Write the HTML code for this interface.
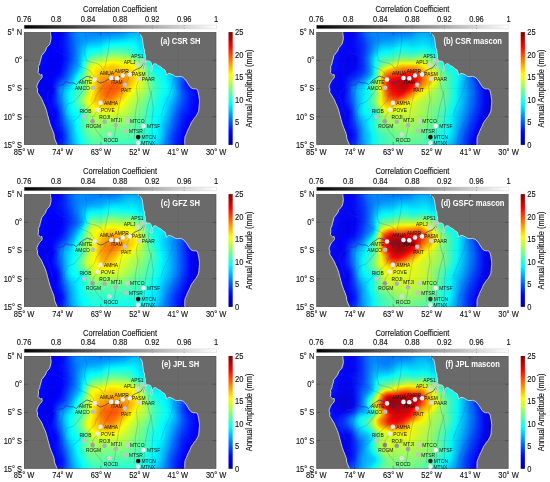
<!DOCTYPE html>
<html><head><meta charset="utf-8"><style>
html,body{margin:0;padding:0;background:#fff}
body{width:550px;height:482px;overflow:hidden}
svg{display:block}
text{font-family:"Liberation Sans",Arial,sans-serif}
.tt{transform-box:fill-box;transform-origin:50% 50%;transform:scaleY(1.1)}
.t text{transform-box:fill-box;transform-origin:50% 50%;transform:scaleY(1.12);stroke:#141414;stroke-width:.12}
</style></head><body>
<svg width="550" height="482" viewBox="0 0 550 482">
<defs>
<filter id="jet" x="-5%" y="-5%" width="110%" height="110%" color-interpolation-filters="sRGB">
<feGaussianBlur stdDeviation="2.2"/>
<feComponentTransfer><feFuncR type="table" tableValues="0 0 0 0 0 0 0 0 0 0 0 0 0 0 0 0 0 0 0 0 0 0 0 0 0.0625 0.125 0.1875 0.25 0.3125 0.375 0.4375 0.5 0.5625 0.625 0.6875 0.75 0.8125 0.875 0.9375 1 1 1 1 1 1 1 1 1 1 1 1 1 1 1 1 1 0.9375 0.875 0.8125 0.75 0.6875 0.625 0.5625 0.5"/><feFuncG type="table" tableValues="0 0 0 0 0 0 0 0 0.0625 0.125 0.1875 0.25 0.3125 0.375 0.4375 0.5 0.5625 0.625 0.6875 0.75 0.8125 0.875 0.9375 1 1 1 1 1 1 1 1 1 1 1 1 1 1 1 1 1 0.9375 0.875 0.8125 0.75 0.6875 0.625 0.5625 0.5 0.4375 0.375 0.3125 0.25 0.1875 0.125 0.0625 0 0 0 0 0 0 0 0 0"/><feFuncB type="table" tableValues="0.5625 0.625 0.6875 0.75 0.8125 0.875 0.9375 1 1 1 1 1 1 1 1 1 1 1 1 1 1 1 1 1 0.9375 0.875 0.8125 0.75 0.6875 0.625 0.5625 0.5 0.4375 0.375 0.3125 0.25 0.1875 0.125 0.0625 0 0 0 0 0 0 0 0 0 0 0 0 0 0 0 0 0 0 0 0 0 0 0 0 0"/></feComponentTransfer>
</filter>
<clipPath id="land"><path clip-rule="evenodd" d="M26.9 -22.6 26.6 -8.5 26.2 -2.8 26.7 2.8 27.1 5.6 26.6 9 25.5 12.4 23.8 14.1 22.4 15.8 21.7 18 21 19.2 18.9 22 17.5 23.7 17.1 25.9 15.9 29.9 15.7 31.6 14.3 34.4 14.5 37.2 14 40.6 15 41.7 16.4 42.9 17.8 42.3 18.2 44.6 17.5 46.2 16.4 47.4 15.4 48.5 14 50.8 12.9 53.6 12.9 55.3 13.6 57 13.3 59.8 14.3 61.5 15.4 63.2 17.8 67.1 19.2 70.5 21 74.4 22.4 78.4 23.4 82.3 24.8 87.4 25.9 91.4 27.3 95.3 28.7 98.7 30.1 102.6 30.4 106 31.5 108.9 33.2 112.8 34.9 116.2 36.7 121.3 36.7 126.9 160.7 126.9 160.7 116.2 160.7 111.7 160.7 107.2 161.1 104.3 162.5 101.5 163.2 99.3 164.6 96.4 166 93.6 167.4 90.2 169.1 88 170.2 86.3 171.9 84.3 173.3 81.8 174.6 79 174.9 76.1 175.1 73.3 175.4 70.5 175.4 68.2 175.1 66 174.7 63.2 174 59.8 173.3 57.5 173 57.2 171.2 56.7 169.1 56.7 167 55.8 165.6 54.1 164.2 51.9 162.5 49.1 160.7 46.8 158.7 45.1 156.2 44.3 153.8 44.6 151.3 44.3 149.2 42.9 146.8 41.7 144.7 41.2 143.3 42.3 142.2 42.9 141.9 40.6 140.8 37.8 138.7 36.7 136.3 34.4 134.2 33.6 132.1 31.9 130.3 31.6 128.9 32.7 128.2 35.5 127.7 38.9 126.7 38.9 127.2 35 127.6 31.6 126.2 29.3 124.4 28.8 122.3 28.8 121.3 26.5 121.3 23.1 120.6 20.9 120.6 18 119.5 15.8 119.2 13.5 118.8 10.2 118.1 5.6 117.1 3.4 115.7 2.3 114.3 0.6 112.9 -1.1 110.1 -3.4 108.3 -4.5 104.8 -5.6 104.8 -22.6ZM122 29 120.6 30.2 119.3 33.3 118.6 37.2 119.7 37.5 120.4 33.8 121.4 31.3Z"/></clipPath>
<clipPath id="mbox"><rect width="192.2" height="112.8"/></clipPath>
<linearGradient id="gbar"><stop offset="0" stop-color="#000"/><stop offset="1" stop-color="#fff"/></linearGradient>
<linearGradient id="jbar" x1="0" y1="1" x2="0" y2="0"><stop offset="0.000" stop-color="#00008f"/><stop offset="0.031" stop-color="#0000af"/><stop offset="0.062" stop-color="#0000ce"/><stop offset="0.094" stop-color="#0000ee"/><stop offset="0.125" stop-color="#000eff"/><stop offset="0.156" stop-color="#002dff"/><stop offset="0.188" stop-color="#004dff"/><stop offset="0.219" stop-color="#006cff"/><stop offset="0.250" stop-color="#008bff"/><stop offset="0.281" stop-color="#00abff"/><stop offset="0.312" stop-color="#00caff"/><stop offset="0.344" stop-color="#00eaff"/><stop offset="0.375" stop-color="#0afff5"/><stop offset="0.406" stop-color="#29ffd6"/><stop offset="0.438" stop-color="#49ffb6"/><stop offset="0.469" stop-color="#68ff97"/><stop offset="0.500" stop-color="#87ff78"/><stop offset="0.531" stop-color="#a7ff58"/><stop offset="0.562" stop-color="#c6ff39"/><stop offset="0.594" stop-color="#e6ff19"/><stop offset="0.625" stop-color="#fff900"/><stop offset="0.656" stop-color="#ffda00"/><stop offset="0.688" stop-color="#ffba00"/><stop offset="0.719" stop-color="#ff9b00"/><stop offset="0.750" stop-color="#ff7c00"/><stop offset="0.781" stop-color="#ff5c00"/><stop offset="0.812" stop-color="#ff3d00"/><stop offset="0.844" stop-color="#ff1d00"/><stop offset="0.875" stop-color="#fd0000"/><stop offset="0.906" stop-color="#de0000"/><stop offset="0.938" stop-color="#be0000"/><stop offset="0.969" stop-color="#9f0000"/><stop offset="1.000" stop-color="#800000"/></linearGradient>
</defs>
<g transform="translate(24.05 32.1)"><rect width="192.2" height="112.8" fill="#6a6a6a"/><g clip-path="url(#mbox)"><g clip-path="url(#land)"><g filter="url(#jet)"><path fill="#000000" d="M188 -8h16v4h-16zM192 -4h12v4h-12zM192 0h12v4h-12zM192 4h12v4h-12zM192 8h12v4h-12zM192 12h12v4h-12zM192 16h12v4h-12zM196 20h8v4h-8zM196 24h8v4h-8zM196 28h8v4h-8zM196 32h8v4h-8zM196 36h8v4h-8zM196 40h8v4h-8zM196 44h8v4h-8zM196 48h8v4h-8zM196 52h8v4h-8zM196 56h8v4h-8zM196 60h8v4h-8zM196 64h8v4h-8zM196 68h8v4h-8zM196 72h8v4h-8zM192 76h12v4h-12zM192 80h12v4h-12zM192 84h12v4h-12zM192 88h12v4h-12zM188 92h16v4h-16zM188 96h16v4h-16zM184 100h20v4h-20zM184 104h20v4h-20zM184 108h20v4h-20zM180 112h24v4h-24zM180 116h24v4h-24zM180 120h24v4h-24z"/><path fill="#010101" d="M188 -4h4v4h-4zM192 20h4v4h-4zM192 24h4v4h-4zM192 28h4v4h-4zM192 32h4v4h-4zM192 36h4v4h-4zM192 40h4v4h-4zM192 72h4v4h-4zM188 88h4v4h-4zM180 108h4v4h-4z"/><path fill="#020202" d="M188 0h4v4h-4zM192 44h4v4h-4zM192 48h4v4h-4zM192 52h4v4h-4zM192 56h4v4h-4zM192 60h4v4h-4zM192 64h4v4h-4zM192 68h4v4h-4zM188 84h4v4h-4zM184 96h4v4h-4z"/><path fill="#030303" d="M188 4h4v4h-4zM188 80h4v4h-4zM184 92h4v4h-4zM180 104h4v4h-4zM176 116h4v4h-4zM176 120h4v4h-4z"/><path fill="#040404" d="M184 -8h4v4h-4zM188 8h4v4h-4zM188 12h4v4h-4zM180 100h4v4h-4zM176 112h4v4h-4z"/><path fill="#050505" d="M184 -4h4v4h-4zM188 16h4v4h-4zM188 20h4v4h-4zM188 24h4v4h-4zM188 28h4v4h-4zM188 32h4v4h-4zM188 76h4v4h-4zM184 88h4v4h-4zM176 108h4v4h-4z"/><path fill="#060606" d="M184 0h4v4h-4zM188 36h4v4h-4zM188 40h4v4h-4zM188 44h4v4h-4zM188 48h4v4h-4zM188 68h4v4h-4zM188 72h4v4h-4zM180 96h4v4h-4zM176 104h4v4h-4z"/><path fill="#070707" d="M184 4h4v4h-4zM188 52h4v4h-4zM188 56h4v4h-4zM188 60h4v4h-4zM188 64h4v4h-4zM184 84h4v4h-4zM180 92h4v4h-4zM172 120h4v4h-4z"/><path fill="#080808" d="M180 -8h4v4h-4zM184 8h4v4h-4zM184 80h4v4h-4zM176 100h4v4h-4zM172 112h4v4h-4zM172 116h4v4h-4z"/><path fill="#090909" d="M180 -4h4v4h-4zM184 12h4v4h-4zM184 16h4v4h-4zM184 20h4v4h-4zM184 76h4v4h-4zM180 88h4v4h-4zM172 108h4v4h-4z"/><path fill="#0a0a0a" d="M180 0h4v4h-4zM184 24h4v4h-4zM184 28h4v4h-4zM184 32h4v4h-4zM184 36h4v4h-4zM184 40h4v4h-4zM184 44h4v4h-4zM184 72h4v4h-4zM176 96h4v4h-4zM172 104h4v4h-4z"/><path fill="#0b0b0b" d="M184 48h4v4h-4zM184 52h4v4h-4zM184 68h4v4h-4zM180 84h4v4h-4zM176 92h4v4h-4z"/><path fill="#0c0c0c" d="M176 -8h4v4h-4zM180 4h4v4h-4zM180 8h4v4h-4zM184 56h4v4h-4zM184 60h4v4h-4zM184 64h4v4h-4zM172 100h4v4h-4zM168 116h4v4h-4zM168 120h4v4h-4z"/><path fill="#0d0d0d" d="M176 -4h4v4h-4zM180 12h4v4h-4zM180 80h4v4h-4zM176 88h4v4h-4zM168 112h4v4h-4z"/><path fill="#0e0e0e" d="M180 16h4v4h-4zM180 20h4v4h-4zM180 24h4v4h-4zM180 32h4v4h-4zM180 36h4v4h-4zM180 40h4v4h-4zM180 76h4v4h-4zM172 96h4v4h-4zM168 108h4v4h-4z"/><path fill="#0f0f0f" d="M176 0h4v4h-4zM180 28h4v4h-4zM180 44h4v4h-4zM180 48h4v4h-4zM180 72h4v4h-4zM176 84h4v4h-4zM172 92h4v4h-4zM168 104h4v4h-4z"/><path fill="#101010" d="M172 -8h4v4h-4zM176 4h4v4h-4zM180 52h4v4h-4zM180 56h4v4h-4zM180 64h4v4h-4zM180 68h4v4h-4zM168 100h4v4h-4zM164 120h4v4h-4z"/><path fill="#111111" d="M176 8h4v4h-4zM180 60h4v4h-4zM176 80h4v4h-4zM164 112h4v4h-4zM164 116h4v4h-4z"/><path fill="#121212" d="M172 -4h4v4h-4zM176 12h4v4h-4zM172 88h4v4h-4zM168 96h4v4h-4zM164 108h4v4h-4z"/><path fill="#131313" d="M172 0h4v4h-4zM176 16h4v4h-4zM176 20h4v4h-4zM176 24h4v4h-4zM176 28h4v4h-4zM176 32h4v4h-4zM176 36h4v4h-4zM176 40h4v4h-4zM176 44h4v4h-4zM176 76h4v4h-4zM164 104h4v4h-4z"/><path fill="#141414" d="M168 -8h4v4h-4zM176 48h4v4h-4zM176 52h4v4h-4zM176 72h4v4h-4zM172 84h4v4h-4zM168 92h4v4h-4zM164 100h4v4h-4z"/><path fill="#151515" d="M172 4h4v4h-4zM176 56h4v4h-4zM176 64h4v4h-4zM176 68h4v4h-4z"/><path fill="#161616" d="M168 -4h4v4h-4zM172 8h4v4h-4zM24 56h4v4h-4zM176 60h4v4h-4zM172 80h4v4h-4zM168 88h4v4h-4zM164 96h4v4h-4zM160 112h4v4h-4zM160 116h4v4h-4zM160 120h4v4h-4z"/><path fill="#171717" d="M172 12h4v4h-4zM172 40h4v4h-4zM172 44h4v4h-4zM20 56h4v4h-4zM160 108h4v4h-4z"/><path fill="#181818" d="M164 -8h4v4h-4zM168 0h4v4h-4zM172 16h4v4h-4zM172 36h4v4h-4zM172 48h4v4h-4zM20 52h8v4h-8zM20 60h8v4h-8zM172 76h4v4h-4zM168 84h4v4h-4zM164 92h4v4h-4zM160 104h4v4h-4z"/><path fill="#191919" d="M168 4h4v4h-4zM172 20h4v4h-4zM172 24h4v4h-4zM172 28h4v4h-4zM28 32h4v4h-4zM172 32h4v4h-4zM28 36h4v4h-4zM20 48h4v4h-4zM172 52h4v4h-4zM20 64h4v4h-4zM172 72h4v4h-4zM160 100h4v4h-4z"/><path fill="#1a1a1a" d="M28 -4h4v4h-4zM164 -4h4v4h-4zM28 0h4v4h-4zM28 28h4v4h-4zM24 32h4v4h-4zM24 36h4v4h-4zM20 40h8v4h-8zM20 44h8v4h-8zM24 48h4v4h-4zM172 56h4v4h-4zM172 64h4v4h-4zM172 68h4v4h-4zM28 80h4v4h-4zM164 88h4v4h-4z"/><path fill="#1b1b1b" d="M20 -8h12v4h-12zM24 -4h4v4h-4zM32 -4h4v4h-4zM24 0h4v4h-4zM32 0h4v4h-4zM168 8h4v4h-4zM28 20h8v4h-8zM28 24h8v4h-8zM24 28h4v4h-4zM32 28h4v4h-4zM32 32h4v4h-4zM20 36h4v4h-4zM32 36h4v4h-4zM28 40h4v4h-4zM16 52h4v4h-4zM16 56h4v4h-4zM16 60h4v4h-4zM172 60h4v4h-4zM16 64h4v4h-4zM24 64h4v4h-4zM20 68h4v4h-4zM168 80h4v4h-4zM28 84h4v4h-4zM160 96h4v4h-4zM156 120h4v4h-4z"/><path fill="#1c1c1c" d="M16 -8h4v4h-4zM32 -8h4v4h-4zM160 -8h4v4h-4zM20 -4h4v4h-4zM164 0h4v4h-4zM28 4h8v4h-8zM168 12h4v4h-4zM28 16h8v4h-8zM24 24h4v4h-4zM20 32h4v4h-4zM16 40h4v4h-4zM168 40h4v4h-4zM16 44h4v4h-4zM168 44h4v4h-4zM16 48h4v4h-4zM168 48h4v4h-4zM28 56h4v4h-4zM28 76h4v4h-4zM168 76h4v4h-4zM24 80h4v4h-4zM24 84h4v4h-4zM164 84h4v4h-4zM24 88h4v4h-4zM24 92h4v4h-4zM160 92h4v4h-4zM156 108h4v4h-4zM156 112h4v4h-4zM156 116h4v4h-4z"/><path fill="#1d1d1d" d="M12 -8h4v4h-4zM16 -4h4v4h-4zM20 0h4v4h-4zM24 4h4v4h-4zM28 8h8v4h-8zM28 12h8v4h-8zM24 16h4v4h-4zM168 16h4v4h-4zM24 20h4v4h-4zM20 28h4v4h-4zM16 36h4v4h-4zM32 40h4v4h-4zM28 44h4v4h-4zM168 52h4v4h-4zM16 68h4v4h-4zM24 68h4v4h-4zM20 72h8v4h-8zM24 76h4v4h-4zM20 88h4v4h-4zM28 88h4v4h-4zM20 92h4v4h-4zM28 92h4v4h-4zM20 96h12v4h-12zM32 100h4v4h-4zM32 104h4v4h-4zM156 104h4v4h-4z"/><path fill="#1e1e1e" d="M8 -8h4v4h-4zM12 -4h4v4h-4zM36 -4h4v4h-4zM160 -4h4v4h-4zM16 0h4v4h-4zM36 0h4v4h-4zM20 4h4v4h-4zM164 4h4v4h-4zM24 8h4v4h-4zM24 12h4v4h-4zM36 20h4v4h-4zM168 20h4v4h-4zM20 24h4v4h-4zM36 24h4v4h-4zM36 28h4v4h-4zM16 32h4v4h-4zM168 32h4v4h-4zM168 36h4v4h-4zM12 60h4v4h-4zM12 64h4v4h-4zM16 72h4v4h-4zM168 72h4v4h-4zM20 84h4v4h-4zM16 88h4v4h-4zM160 88h4v4h-4zM16 92h4v4h-4zM12 96h8v4h-8zM12 100h20v4h-20zM12 104h12v4h-12zM28 104h4v4h-4zM12 108h12v4h-12zM12 112h4v4h-4z"/><path fill="#1f1f1f" d="M4 -8h4v4h-4zM8 -4h4v4h-4zM12 0h4v4h-4zM16 4h4v4h-4zM36 4h4v4h-4zM20 8h4v4h-4zM20 12h4v4h-4zM20 16h4v4h-4zM36 16h4v4h-4zM20 20h4v4h-4zM168 24h4v4h-4zM168 28h4v4h-4zM36 32h4v4h-4zM12 40h4v4h-4zM12 44h4v4h-4zM12 48h4v4h-4zM12 52h4v4h-4zM12 56h4v4h-4zM168 56h4v4h-4zM168 64h4v4h-4zM12 68h4v4h-4zM168 68h4v4h-4zM16 76h8v4h-8zM20 80h4v4h-4zM164 80h4v4h-4zM16 84h4v4h-4zM12 88h4v4h-4zM12 92h4v4h-4zM8 96h4v4h-4zM32 96h4v4h-4zM8 100h4v4h-4zM156 100h4v4h-4zM4 104h8v4h-8zM24 104h4v4h-4zM0 108h12v4h-12zM24 108h8v4h-8zM0 112h12v4h-12zM16 112h12v4h-12zM-4 116h24v4h-24zM-4 120h20v4h-20z"/><path fill="#202020" d="M0 -8h4v4h-4zM36 -8h4v4h-4zM156 -8h4v4h-4zM4 -4h4v4h-4zM8 0h4v4h-4zM12 4h4v4h-4zM16 8h4v4h-4zM36 8h4v4h-4zM164 8h4v4h-4zM36 12h4v4h-4zM16 16h4v4h-4zM16 20h4v4h-4zM16 24h4v4h-4zM16 28h4v4h-4zM12 32h4v4h-4zM12 36h4v4h-4zM28 48h4v4h-4zM164 48h4v4h-4zM28 52h4v4h-4zM168 60h4v4h-4zM12 72h4v4h-4zM28 72h4v4h-4zM12 76h4v4h-4zM12 80h8v4h-8zM32 80h4v4h-4zM12 84h4v4h-4zM160 84h4v4h-4zM8 88h4v4h-4zM8 92h4v4h-4zM4 96h4v4h-4zM156 96h4v4h-4zM0 100h8v4h-8zM-4 104h8v4h-8zM-4 108h4v4h-4zM32 108h4v4h-4zM-8 112h8v4h-8zM28 112h4v4h-4zM-8 116h4v4h-4zM20 116h4v4h-4zM-8 120h4v4h-4zM16 120h4v4h-4z"/><path fill="#212121" d="M-8 -8h8v4h-8zM-4 -4h8v4h-8zM0 0h8v4h-8zM160 0h4v4h-4zM8 4h4v4h-4zM12 8h4v4h-4zM12 12h8v4h-8zM12 28h4v4h-4zM36 36h4v4h-4zM8 40h4v4h-4zM8 44h4v4h-4zM164 44h4v4h-4zM164 52h4v4h-4zM8 60h4v4h-4zM28 60h4v4h-4zM8 64h4v4h-4zM8 68h4v4h-4zM8 72h4v4h-4zM8 76h4v4h-4zM164 76h4v4h-4zM8 80h4v4h-4zM8 84h4v4h-4zM4 88h4v4h-4zM0 92h8v4h-8zM32 92h4v4h-4zM0 96h4v4h-4zM-4 100h4v4h-4zM36 100h4v4h-4zM-8 104h4v4h-4zM36 104h4v4h-4zM-8 108h4v4h-4zM24 116h4v4h-4zM20 120h4v4h-4z"/><path fill="#222222" d="M-8 -4h4v4h-4zM156 -4h4v4h-4zM-4 0h4v4h-4zM0 4h8v4h-8zM8 8h4v4h-4zM8 12h4v4h-4zM164 12h4v4h-4zM12 16h4v4h-4zM12 20h4v4h-4zM12 24h4v4h-4zM8 32h4v4h-4zM8 36h4v4h-4zM164 40h4v4h-4zM8 48h4v4h-4zM8 52h4v4h-4zM8 56h4v4h-4zM164 72h4v4h-4zM4 80h4v4h-4zM160 80h4v4h-4zM4 84h4v4h-4zM32 84h4v4h-4zM0 88h4v4h-4zM-4 92h4v4h-4zM156 92h4v4h-4zM-8 96h8v4h-8zM-8 100h4v4h-4zM152 108h4v4h-4zM152 112h4v4h-4zM28 116h4v4h-4zM152 116h4v4h-4zM24 120h4v4h-4zM152 120h4v4h-4z"/><path fill="#232323" d="M-8 0h4v4h-4zM-4 4h4v4h-4zM160 4h4v4h-4zM0 8h8v4h-8zM4 12h4v4h-4zM8 16h4v4h-4zM164 16h4v4h-4zM8 20h4v4h-4zM40 20h4v4h-4zM8 24h4v4h-4zM40 24h4v4h-4zM8 28h4v4h-4zM32 44h4v4h-4zM160 52h4v4h-4zM4 64h4v4h-4zM4 68h4v4h-4zM28 68h4v4h-4zM164 68h4v4h-4zM4 72h4v4h-4zM4 76h4v4h-4zM0 80h4v4h-4zM0 84h4v4h-4zM-4 88h4v4h-4zM32 88h4v4h-4zM-8 92h4v4h-4zM152 104h4v4h-4zM32 112h4v4h-4z"/><path fill="#242424" d="M152 -8h4v4h-4zM-8 4h4v4h-4zM-4 8h4v4h-4zM0 12h4v4h-4zM4 16h4v4h-4zM40 16h4v4h-4zM4 20h4v4h-4zM164 20h4v4h-4zM4 24h4v4h-4zM4 28h4v4h-4zM4 32h4v4h-4zM4 36h4v4h-4zM164 36h4v4h-4zM4 40h4v4h-4zM36 40h4v4h-4zM4 44h4v4h-4zM4 48h4v4h-4zM4 52h4v4h-4zM4 56h4v4h-4zM164 56h4v4h-4zM4 60h4v4h-4zM28 64h4v4h-4zM164 64h4v4h-4zM0 68h4v4h-4zM0 72h4v4h-4zM0 76h4v4h-4zM32 76h4v4h-4zM-4 80h4v4h-4zM-8 84h8v4h-8zM-8 88h4v4h-4zM156 88h4v4h-4zM152 100h4v4h-4zM28 120h4v4h-4z"/><path fill="#252525" d="M40 0h4v4h-4zM156 0h4v4h-4zM-8 8h4v4h-4zM160 8h4v4h-4zM-4 12h4v4h-4zM40 12h4v4h-4zM0 16h4v4h-4zM0 20h4v4h-4zM0 24h4v4h-4zM164 24h4v4h-4zM0 28h4v4h-4zM40 28h4v4h-4zM164 28h4v4h-4zM0 32h4v4h-4zM164 32h4v4h-4zM0 36h4v4h-4zM0 40h4v4h-4zM0 44h4v4h-4zM160 48h4v4h-4zM0 60h4v4h-4zM164 60h4v4h-4zM0 64h4v4h-4zM-4 72h4v4h-4zM-4 76h4v4h-4zM160 76h4v4h-4zM-8 80h4v4h-4zM36 108h4v4h-4z"/><path fill="#262626" d="M40 -4h4v4h-4zM152 -4h4v4h-4zM40 4h4v4h-4zM40 8h4v4h-4zM-8 12h4v4h-4zM-8 16h8v4h-8zM-4 20h4v4h-4zM-4 24h4v4h-4zM0 48h4v4h-4zM0 52h4v4h-4zM0 56h4v4h-4zM-4 64h4v4h-4zM-4 68h4v4h-4zM-8 72h4v4h-4zM-8 76h4v4h-4zM156 84h4v4h-4zM36 96h4v4h-4zM32 116h4v4h-4z"/><path fill="#272727" d="M40 -8h4v4h-4zM148 -8h4v4h-4zM156 4h4v4h-4zM160 12h4v4h-4zM-8 20h4v4h-4zM-8 24h4v4h-4zM-4 28h4v4h-4zM-4 32h4v4h-4zM40 32h4v4h-4zM-4 36h4v4h-4zM-4 40h4v4h-4zM-4 44h4v4h-4zM-4 48h4v4h-4zM-4 52h4v4h-4zM-4 56h4v4h-4zM160 56h4v4h-4zM-4 60h4v4h-4zM-8 64h4v4h-4zM-8 68h4v4h-4zM160 72h4v4h-4zM156 80h4v4h-4zM152 96h4v4h-4z"/><path fill="#282828" d="M-8 28h4v4h-4zM-8 32h4v4h-4zM-8 36h4v4h-4zM-8 40h4v4h-4zM-8 44h4v4h-4zM160 44h4v4h-4zM-8 48h4v4h-4zM-8 52h4v4h-4zM-8 56h4v4h-4zM-8 60h4v4h-4zM36 112h4v4h-4zM32 120h4v4h-4z"/><path fill="#292929" d="M152 0h4v4h-4zM160 16h4v4h-4zM40 36h4v4h-4zM36 44h4v4h-4zM160 68h4v4h-4zM152 92h4v4h-4zM148 104h4v4h-4zM148 108h4v4h-4zM148 112h4v4h-4zM148 116h4v4h-4zM148 120h4v4h-4z"/><path fill="#2a2a2a" d="M148 -4h4v4h-4zM156 8h4v4h-4zM160 20h4v4h-4zM160 40h4v4h-4zM32 48h4v4h-4zM160 60h4v4h-4zM160 64h4v4h-4zM156 76h4v4h-4z"/><path fill="#2b2b2b" d="M144 -8h4v4h-4zM44 20h4v4h-4zM32 72h4v4h-4zM152 88h4v4h-4zM36 92h4v4h-4zM148 100h4v4h-4zM36 116h4v4h-4z"/><path fill="#2c2c2c" d="M152 4h4v4h-4zM156 12h4v4h-4zM44 16h4v4h-4zM44 24h4v4h-4zM160 24h4v4h-4zM160 28h4v4h-4zM160 36h4v4h-4zM156 52h4v4h-4z"/><path fill="#2d2d2d" d="M148 0h4v4h-4zM44 12h4v4h-4zM160 32h4v4h-4zM40 40h4v4h-4zM152 84h4v4h-4zM36 120h4v4h-4z"/><path fill="#2e2e2e" d="M140 -8h4v4h-4zM144 -4h4v4h-4zM44 8h4v4h-4zM152 8h4v4h-4zM44 28h4v4h-4zM156 72h4v4h-4zM36 88h4v4h-4zM148 96h4v4h-4zM40 104h4v4h-4z"/><path fill="#2f2f2f" d="M44 4h4v4h-4zM156 16h4v4h-4zM156 48h4v4h-4zM32 68h4v4h-4zM152 80h4v4h-4z"/><path fill="#303030" d="M44 0h4v4h-4zM148 4h4v4h-4zM40 100h4v4h-4zM40 108h4v4h-4zM144 120h4v4h-4z"/><path fill="#313131" d="M44 -8h4v4h-4zM136 -8h4v4h-4zM44 -4h4v4h-4zM140 -4h4v4h-4zM144 0h4v4h-4zM152 12h4v4h-4zM156 20h4v4h-4zM44 32h4v4h-4zM156 68h4v4h-4zM148 92h4v4h-4zM144 116h4v4h-4z"/><path fill="#323232" d="M40 44h4v4h-4zM156 44h4v4h-4zM32 52h4v4h-4zM156 56h4v4h-4zM32 64h4v4h-4zM36 84h4v4h-4zM144 104h4v4h-4zM144 108h4v4h-4zM40 112h4v4h-4zM144 112h4v4h-4z"/><path fill="#333333" d="M148 8h4v4h-4zM156 24h4v4h-4zM36 48h4v4h-4zM156 64h4v4h-4zM152 76h4v4h-4zM40 96h4v4h-4zM40 116h4v4h-4z"/><path fill="#343434" d="M84 -8h12v4h-12zM132 -8h4v4h-4zM136 -4h4v4h-4zM140 0h4v4h-4zM144 4h4v4h-4zM152 16h4v4h-4zM156 28h4v4h-4zM156 40h4v4h-4zM32 60h4v4h-4zM156 60h4v4h-4zM148 88h4v4h-4zM144 100h4v4h-4zM40 120h4v4h-4z"/><path fill="#353535" d="M80 -8h4v4h-4zM48 16h4v4h-4zM48 20h4v4h-4zM156 32h4v4h-4zM44 36h4v4h-4zM156 36h4v4h-4zM36 80h4v4h-4z"/><path fill="#363636" d="M96 -8h4v4h-4zM48 8h4v4h-4zM48 12h4v4h-4zM148 12h4v4h-4zM48 24h4v4h-4z"/><path fill="#373737" d="M76 -8h4v4h-4zM128 -8h4v4h-4zM140 4h4v4h-4zM144 8h4v4h-4zM152 20h4v4h-4zM32 56h4v4h-4zM152 72h4v4h-4zM148 84h4v4h-4z"/><path fill="#383838" d="M100 -8h4v4h-4zM80 -4h8v4h-8zM132 -4h4v4h-4zM136 0h4v4h-4zM48 4h4v4h-4zM48 28h4v4h-4zM40 92h4v4h-4zM144 96h4v4h-4zM140 120h4v4h-4z"/><path fill="#393939" d="M48 -8h4v4h-4zM76 -4h4v4h-4zM88 -4h8v4h-8zM148 16h4v4h-4zM44 40h4v4h-4zM36 76h4v4h-4z"/><path fill="#3a3a3a" d="M72 -8h4v4h-4zM124 -8h4v4h-4zM48 0h4v4h-4zM140 8h4v4h-4zM144 12h4v4h-4zM152 24h4v4h-4zM40 48h4v4h-4zM148 80h4v4h-4zM140 116h4v4h-4z"/><path fill="#3b3b3b" d="M48 -4h4v4h-4zM72 -4h4v4h-4zM96 -4h4v4h-4zM128 -4h4v4h-4zM132 0h4v4h-4zM136 4h4v4h-4zM152 68h4v4h-4z"/><path fill="#3c3c3c" d="M104 -8h4v4h-4zM120 -8h4v4h-4zM152 28h4v4h-4zM48 32h4v4h-4zM152 48h4v4h-4zM36 72h4v4h-4zM144 92h4v4h-4zM140 112h4v4h-4z"/><path fill="#3d3d3d" d="M68 -8h4v4h-4zM76 0h4v4h-4zM148 20h4v4h-4zM152 32h4v4h-4zM152 44h4v4h-4zM152 52h4v4h-4zM148 76h4v4h-4zM40 88h4v4h-4zM140 108h4v4h-4zM44 112h4v4h-4zM44 116h4v4h-4zM44 120h4v4h-4z"/><path fill="#3e3e3e" d="M108 -8h4v4h-4zM116 -8h4v4h-4zM68 -4h4v4h-4zM100 -4h4v4h-4zM124 -4h4v4h-4zM64 0h12v4h-12zM80 0h4v4h-4zM128 0h4v4h-4zM52 4h4v4h-4zM132 4h4v4h-4zM52 8h4v4h-4zM136 8h4v4h-4zM140 12h4v4h-4zM144 16h4v4h-4zM152 36h4v4h-4zM152 40h4v4h-4zM36 52h4v4h-4zM44 108h4v4h-4z"/><path fill="#3f3f3f" d="M52 -8h4v4h-4zM112 -8h4v4h-4zM60 0h4v4h-4zM84 0h4v4h-4zM52 12h4v4h-4zM44 44h4v4h-4zM152 64h4v4h-4zM144 88h4v4h-4zM140 104h4v4h-4z"/><path fill="#404040" d="M52 -4h4v4h-4zM52 0h4v4h-4zM88 0h4v4h-4zM60 4h4v4h-4zM52 16h4v4h-4zM148 24h4v4h-4zM152 56h4v4h-4zM36 68h4v4h-4zM44 104h4v4h-4zM136 120h4v4h-4z"/><path fill="#414141" d="M64 -8h4v4h-4zM120 -4h4v4h-4zM56 0h4v4h-4zM92 0h4v4h-4zM56 4h4v4h-4zM64 4h4v4h-4zM128 4h4v4h-4zM132 8h4v4h-4zM136 12h4v4h-4zM52 20h4v4h-4zM48 36h4v4h-4zM152 60h4v4h-4zM148 72h4v4h-4zM140 100h4v4h-4z"/><path fill="#424242" d="M56 -8h4v4h-4zM64 -4h4v4h-4zM104 -4h4v4h-4zM96 0h4v4h-4zM124 0h4v4h-4zM68 4h4v4h-4zM140 16h4v4h-4zM144 20h4v4h-4zM52 24h4v4h-4zM144 84h4v4h-4zM44 100h4v4h-4z"/><path fill="#434343" d="M60 -8h4v4h-4zM56 -4h8v4h-8zM72 4h4v4h-4zM56 8h4v4h-4zM52 28h4v4h-4zM36 64h4v4h-4zM40 84h4v4h-4zM136 116h4v4h-4z"/><path fill="#444444" d="M116 -4h4v4h-4zM76 4h4v4h-4zM128 8h4v4h-4zM132 12h4v4h-4zM148 28h4v4h-4zM44 96h4v4h-4zM140 96h4v4h-4z"/><path fill="#454545" d="M108 -4h8v4h-8zM100 0h4v4h-4zM120 0h4v4h-4zM124 4h4v4h-4zM136 16h4v4h-4zM52 32h4v4h-4zM144 80h4v4h-4z"/><path fill="#464646" d="M140 20h4v4h-4zM144 24h4v4h-4zM148 32h4v4h-4zM44 48h4v4h-4zM40 52h4v4h-4zM36 56h4v4h-4zM36 60h4v4h-4zM148 68h4v4h-4zM136 112h4v4h-4zM48 120h4v4h-4z"/><path fill="#474747" d="M80 4h4v4h-4zM60 8h4v4h-4zM128 12h4v4h-4zM132 16h4v4h-4zM44 92h4v4h-4zM140 92h4v4h-4zM48 116h4v4h-4z"/><path fill="#484848" d="M124 8h4v4h-4zM56 12h4v4h-4zM148 36h4v4h-4zM48 40h4v4h-4zM148 40h4v4h-4zM148 44h4v4h-4zM144 76h4v4h-4zM132 120h4v4h-4z"/><path fill="#494949" d="M116 0h4v4h-4zM84 4h4v4h-4zM120 4h4v4h-4zM64 8h4v4h-4zM136 20h4v4h-4zM148 48h4v4h-4zM48 112h4v4h-4z"/><path fill="#4a4a4a" d="M104 0h4v4h-4zM88 4h4v4h-4zM68 8h4v4h-4zM124 12h4v4h-4zM128 16h4v4h-4zM148 64h4v4h-4zM40 80h4v4h-4zM140 88h4v4h-4zM136 108h4v4h-4z"/><path fill="#4b4b4b" d="M92 4h4v4h-4zM72 8h4v4h-4zM132 20h4v4h-4zM140 24h4v4h-4zM144 28h4v4h-4zM44 88h4v4h-4z"/><path fill="#4c4c4c" d="M108 0h8v4h-8zM96 4h4v4h-4zM120 8h4v4h-4zM56 16h4v4h-4zM52 36h4v4h-4zM148 52h4v4h-4zM144 72h4v4h-4zM48 108h4v4h-4zM132 116h4v4h-4z"/><path fill="#4d4d4d" d="M116 4h4v4h-4zM124 16h4v4h-4zM148 60h4v4h-4zM40 76h4v4h-4zM136 104h4v4h-4z"/><path fill="#4e4e4e" d="M76 8h4v4h-4zM120 12h4v4h-4zM128 20h4v4h-4zM136 24h4v4h-4zM144 32h4v4h-4zM148 56h4v4h-4zM40 72h4v4h-4zM140 84h4v4h-4zM52 120h4v4h-4z"/><path fill="#4f4f4f" d="M100 4h4v4h-4zM56 20h4v4h-4zM132 24h4v4h-4zM144 68h4v4h-4zM48 104h4v4h-4zM132 112h4v4h-4zM128 120h4v4h-4z"/><path fill="#505050" d="M60 12h4v4h-4zM140 28h4v4h-4zM144 36h4v4h-4zM48 44h4v4h-4zM44 52h4v4h-4zM40 56h4v4h-4zM40 68h4v4h-4zM136 100h4v4h-4z"/><path fill="#515151" d="M112 4h4v4h-4zM116 8h4v4h-4zM128 24h4v4h-4zM140 80h4v4h-4zM44 84h4v4h-4zM136 96h4v4h-4zM48 100h4v4h-4zM52 116h4v4h-4z"/><path fill="#525252" d="M104 4h4v4h-4zM80 8h4v4h-4zM120 16h4v4h-4zM124 20h4v4h-4zM56 24h4v4h-4zM144 40h4v4h-4zM40 64h4v4h-4zM136 92h4v4h-4zM48 96h4v4h-4zM128 116h4v4h-4z"/><path fill="#535353" d="M108 4h4v4h-4zM64 12h8v4h-8zM116 12h4v4h-4zM136 28h4v4h-4zM144 44h4v4h-4zM40 60h4v4h-4zM144 64h4v4h-4zM140 76h4v4h-4z"/><path fill="#545454" d="M72 12h4v4h-4zM132 28h4v4h-4zM136 88h4v4h-4zM48 92h4v4h-4zM132 108h4v4h-4zM52 112h4v4h-4zM124 120h4v4h-4z"/><path fill="#555555" d="M84 8h4v4h-4zM56 28h4v4h-4zM128 28h4v4h-4zM56 32h4v4h-4zM140 32h4v4h-4zM144 48h4v4h-4zM140 72h4v4h-4z"/><path fill="#565656" d="M88 8h4v4h-4zM112 8h4v4h-4zM116 16h4v4h-4zM140 68h4v4h-4zM128 112h4v4h-4zM56 120h4v4h-4z"/><path fill="#575757" d="M92 8h4v4h-4zM60 16h4v4h-4zM120 20h4v4h-4zM124 24h4v4h-4zM144 60h4v4h-4zM44 80h4v4h-4zM136 84h4v4h-4zM48 88h4v4h-4zM52 108h4v4h-4z"/><path fill="#585858" d="M96 8h4v4h-4zM76 12h4v4h-4zM128 32h4v4h-4zM140 36h4v4h-4zM52 40h4v4h-4zM48 48h4v4h-4zM144 52h4v4h-4zM124 116h4v4h-4z"/><path fill="#595959" d="M100 8h4v4h-4zM112 12h4v4h-4zM132 32h8v4h-8zM140 40h4v4h-4zM144 56h4v4h-4zM140 64h4v4h-4zM48 84h4v4h-4zM52 104h4v4h-4zM132 104h4v4h-4zM128 108h4v4h-4zM120 120h4v4h-4z"/><path fill="#5a5a5a" d="M108 8h4v4h-4zM44 56h4v4h-4zM44 76h4v4h-4zM132 96h4v4h-4zM56 116h4v4h-4z"/><path fill="#5b5b5b" d="M104 8h4v4h-4zM60 20h4v4h-4zM140 44h4v4h-4zM44 72h4v4h-4zM136 80h4v4h-4zM132 92h4v4h-4zM132 100h4v4h-4zM128 104h4v4h-4z"/><path fill="#5c5c5c" d="M112 16h4v4h-4zM124 28h4v4h-4zM140 60h4v4h-4zM136 72h4v4h-4zM136 76h4v4h-4zM132 88h4v4h-4zM52 100h4v4h-4zM124 112h4v4h-4z"/><path fill="#5d5d5d" d="M116 20h4v4h-4zM56 36h4v4h-4zM132 36h8v4h-8zM140 48h4v4h-4zM44 60h4v4h-4zM44 68h4v4h-4zM136 68h4v4h-4zM48 80h4v4h-4zM132 84h4v4h-4zM128 100h4v4h-4zM120 116h4v4h-4zM60 120h4v4h-4zM116 120h4v4h-4z"/><path fill="#5e5e5e" d="M64 16h12v4h-12zM128 36h4v4h-4zM136 40h4v4h-4zM48 52h4v4h-4zM44 64h4v4h-4zM136 64h4v4h-4zM124 108h4v4h-4zM56 112h4v4h-4z"/><path fill="#5f5f5f" d="M80 12h4v4h-4zM108 12h4v4h-4zM120 24h4v4h-4zM140 52h4v4h-4zM140 56h4v4h-4zM52 96h4v4h-4zM124 104h4v4h-4z"/><path fill="#606060" d="M136 44h4v4h-4zM128 80h8v4h-8zM52 84h4v4h-4zM128 96h4v4h-4zM112 120h4v4h-4z"/><path fill="#616161" d="M124 32h4v4h-4zM132 40h4v4h-4zM136 60h4v4h-4zM48 76h4v4h-4zM132 76h4v4h-4zM52 80h4v4h-4zM128 84h4v4h-4zM52 88h4v4h-4zM128 88h4v4h-4zM52 92h4v4h-4zM128 92h4v4h-4zM124 100h4v4h-4zM56 108h4v4h-4zM120 112h4v4h-4zM116 116h4v4h-4zM108 120h4v4h-4z"/><path fill="#626262" d="M84 12h4v4h-4zM76 16h4v4h-4zM136 48h4v4h-4zM132 72h4v4h-4zM128 76h4v4h-4zM60 116h4v4h-4zM64 120h4v4h-4zM104 120h4v4h-4z"/><path fill="#636363" d="M88 12h12v4h-12zM104 12h4v4h-4zM108 16h4v4h-4zM60 24h4v4h-4zM52 44h4v4h-4zM48 56h4v4h-4zM132 68h4v4h-4zM56 104h4v4h-4zM100 120h4v4h-4z"/><path fill="#646464" d="M100 12h4v4h-4zM112 20h4v4h-4zM132 44h4v4h-4zM136 52h4v4h-4zM136 56h4v4h-4zM124 96h4v4h-4zM120 108h4v4h-4zM112 116h4v4h-4zM96 120h4v4h-4z"/><path fill="#656565" d="M64 20h4v4h-4zM128 40h4v4h-4zM132 64h4v4h-4zM48 72h4v4h-4zM116 112h4v4h-4zM92 120h4v4h-4z"/><path fill="#666666" d="M48 60h4v4h-4zM128 72h4v4h-4zM52 76h4v4h-4zM124 80h4v4h-4zM124 92h4v4h-4zM60 112h4v4h-4zM100 116h12v4h-12zM68 120h4v4h-4zM88 120h4v4h-4z"/><path fill="#676767" d="M132 48h4v4h-4zM132 60h4v4h-4zM48 64h4v4h-4zM48 68h4v4h-4zM56 80h4v4h-4zM124 84h4v4h-4zM124 88h4v4h-4zM56 100h4v4h-4zM120 104h4v4h-4zM64 116h4v4h-4zM96 116h4v4h-4zM72 120h4v4h-4zM84 120h4v4h-4z"/><path fill="#686868" d="M116 24h4v4h-4zM120 28h4v4h-4zM124 36h4v4h-4zM132 52h4v4h-4zM132 56h4v4h-4zM124 76h4v4h-4zM120 100h4v4h-4zM112 112h4v4h-4zM92 116h4v4h-4zM76 120h8v4h-8z"/><path fill="#696969" d="M128 68h4v4h-4zM56 84h4v4h-4zM116 108h4v4h-4zM88 116h4v4h-4z"/><path fill="#6a6a6a" d="M104 16h4v4h-4zM68 20h4v4h-4zM56 40h4v4h-4zM128 44h4v4h-4zM120 96h4v4h-4zM60 108h4v4h-4zM96 112h16v4h-16zM68 116h4v4h-4zM84 116h4v4h-4z"/><path fill="#6b6b6b" d="M80 16h4v4h-4zM56 96h4v4h-4zM92 112h4v4h-4z"/><path fill="#6c6c6c" d="M72 20h4v4h-4zM108 20h4v4h-4zM52 48h4v4h-4zM128 64h4v4h-4zM124 72h4v4h-4zM56 88h4v4h-4zM120 92h4v4h-4zM116 104h4v4h-4zM112 108h4v4h-4zM64 112h4v4h-4zM88 112h4v4h-4zM72 116h12v4h-12z"/><path fill="#6d6d6d" d="M100 16h4v4h-4zM128 48h4v4h-4zM128 56h4v4h-4zM52 72h4v4h-4zM56 76h4v4h-4zM120 88h4v4h-4zM56 92h4v4h-4zM60 104h4v4h-4z"/><path fill="#6e6e6e" d="M96 16h4v4h-4zM128 52h4v4h-4zM56 56h4v4h-4zM52 60h4v4h-4zM128 60h4v4h-4zM116 100h4v4h-4zM96 108h16v4h-16zM84 112h4v4h-4z"/><path fill="#6f6f6f" d="M84 16h12v4h-12zM60 28h4v4h-4zM52 56h4v4h-4zM120 84h4v4h-4zM116 96h4v4h-4zM92 108h4v4h-4zM68 112h4v4h-4zM80 112h4v4h-4z"/><path fill="#707070" d="M76 20h4v4h-4zM124 40h4v4h-4zM124 68h4v4h-4zM116 92h4v4h-4zM112 104h4v4h-4zM64 108h4v4h-4zM88 108h4v4h-4zM72 112h8v4h-8z"/><path fill="#717171" d="M112 24h4v4h-4zM52 64h4v4h-4zM120 80h4v4h-4zM60 100h4v4h-4zM84 108h4v4h-4z"/><path fill="#727272" d="M104 20h4v4h-4zM64 24h4v4h-4zM52 68h4v4h-4zM116 88h4v4h-4zM112 96h4v4h-4zM112 100h4v4h-4zM92 104h20v4h-20z"/><path fill="#737373" d="M120 32h4v4h-4zM120 76h4v4h-4zM60 80h4v4h-4zM112 92h4v4h-4zM88 104h4v4h-4zM80 108h4v4h-4z"/><path fill="#747474" d="M56 44h4v4h-4zM124 64h4v4h-4zM120 72h4v4h-4zM116 84h4v4h-4zM108 100h4v4h-4zM64 104h4v4h-4zM84 104h4v4h-4zM68 108h12v4h-12z"/><path fill="#757575" d="M80 20h4v4h-4zM124 44h4v4h-4zM112 88h4v4h-4zM108 96h4v4h-4zM104 100h4v4h-4z"/><path fill="#767676" d="M116 28h4v4h-4zM52 52h4v4h-4zM56 60h4v4h-4zM60 84h4v4h-4zM108 92h4v4h-4zM60 96h4v4h-4zM92 100h12v4h-12zM80 104h4v4h-4z"/><path fill="#777777" d="M100 20h4v4h-4zM56 52h4v4h-4zM120 68h4v4h-4zM116 80h4v4h-4zM104 96h4v4h-4zM84 100h8v4h-8zM76 104h4v4h-4z"/><path fill="#787878" d="M60 32h4v4h-4zM124 60h4v4h-4zM112 84h4v4h-4zM108 88h4v4h-4zM80 100h4v4h-4zM68 104h8v4h-8z"/><path fill="#797979" d="M56 48h4v4h-4zM124 48h4v4h-4zM56 72h4v4h-4zM116 76h4v4h-4zM60 88h4v4h-4zM60 92h4v4h-4zM104 92h4v4h-4zM100 96h4v4h-4zM64 100h4v4h-4z"/><path fill="#7a7a7a" d="M96 20h4v4h-4zM68 24h4v4h-4zM84 96h16v4h-16zM76 100h4v4h-4z"/><path fill="#7b7b7b" d="M84 20h4v4h-4zM92 20h4v4h-4zM120 36h4v4h-4zM120 64h4v4h-4zM116 72h4v4h-4zM112 80h4v4h-4zM80 96h4v4h-4z"/><path fill="#7c7c7c" d="M108 24h4v4h-4zM124 52h4v4h-4zM124 56h4v4h-4zM60 76h4v4h-4zM108 84h4v4h-4zM104 88h4v4h-4zM100 92h4v4h-4zM68 100h8v4h-8z"/><path fill="#7d7d7d" d="M88 20h4v4h-4zM116 68h4v4h-4zM64 96h4v4h-4zM76 96h4v4h-4z"/><path fill="#7e7e7e" d="M72 24h4v4h-4zM60 36h4v4h-4zM112 76h4v4h-4zM80 92h12v4h-12zM96 92h4v4h-4z"/><path fill="#7f7f7f" d="M56 64h4v4h-4zM76 92h4v4h-4zM92 92h4v4h-4zM72 96h4v4h-4z"/><path fill="#808080" d="M76 24h4v4h-4zM112 28h4v4h-4zM120 40h4v4h-4zM56 68h4v4h-4zM108 80h4v4h-4zM104 84h4v4h-4zM100 88h4v4h-4zM68 96h4v4h-4z"/><path fill="#818181" d="M60 56h4v4h-4zM120 60h4v4h-4zM116 64h4v4h-4zM112 72h4v4h-4zM64 92h4v4h-4z"/><path fill="#828282" d="M60 40h4v4h-4zM72 92h4v4h-4z"/><path fill="#838383" d="M112 68h4v4h-4zM108 76h4v4h-4zM64 88h4v4h-4zM80 88h8v4h-8zM96 88h4v4h-4zM68 92h4v4h-4z"/><path fill="#848484" d="M64 28h4v4h-4zM120 44h4v4h-4zM60 52h4v4h-4zM64 84h4v4h-4zM76 88h4v4h-4zM88 88h8v4h-8z"/><path fill="#858585" d="M80 24h4v4h-4zM104 24h4v4h-4zM104 80h4v4h-4zM100 84h4v4h-4z"/><path fill="#868686" d="M116 32h4v4h-4zM60 44h4v4h-4zM120 48h4v4h-4zM72 88h4v4h-4z"/><path fill="#878787" d="M60 48h4v4h-4zM120 56h4v4h-4zM116 60h4v4h-4zM108 72h4v4h-4zM68 88h4v4h-4z"/><path fill="#888888" d="M120 52h4v4h-4zM60 60h4v4h-4zM112 64h4v4h-4zM96 84h4v4h-4z"/><path fill="#898989" d="M104 76h4v4h-4z"/><path fill="#8a8a8a" d="M100 24h4v4h-4zM108 68h4v4h-4zM60 72h4v4h-4zM64 80h4v4h-4zM100 80h4v4h-4zM76 84h8v4h-8zM92 84h4v4h-4z"/><path fill="#8b8b8b" d="M92 24h8v4h-8zM68 84h8v4h-8zM84 84h8v4h-8z"/><path fill="#8c8c8c" d="M84 24h4v4h-4zM116 56h4v4h-4z"/><path fill="#8d8d8d" d="M88 24h4v4h-4zM68 28h4v4h-4zM112 60h4v4h-4zM104 72h4v4h-4z"/><path fill="#8e8e8e" d="M108 28h4v4h-4zM116 36h4v4h-4zM96 80h4v4h-4z"/><path fill="#8f8f8f" d="M108 64h4v4h-4zM100 76h4v4h-4z"/><path fill="#909090" d="M72 28h4v4h-4zM116 52h4v4h-4z"/><path fill="#919191" d="M112 32h4v4h-4zM116 40h4v4h-4zM104 68h4v4h-4zM64 76h4v4h-4zM68 80h8v4h-8zM92 80h4v4h-4z"/><path fill="#929292" d="M76 28h4v4h-4zM116 44h4v4h-4zM116 48h4v4h-4zM60 64h4v4h-4zM76 80h4v4h-4z"/><path fill="#939393" d="M112 56h4v4h-4zM100 72h4v4h-4zM80 80h4v4h-4zM88 80h4v4h-4z"/><path fill="#949494" d="M64 32h4v4h-4zM108 60h4v4h-4zM60 68h4v4h-4zM96 76h4v4h-4zM84 80h4v4h-4z"/><path fill="#969696" d="M64 48h4v4h-4zM64 52h4v4h-4zM104 64h4v4h-4z"/><path fill="#979797" d="M80 28h4v4h-4zM64 40h4v4h-4zM64 44h4v4h-4zM64 56h4v4h-4z"/><path fill="#989898" d="M100 68h4v4h-4z"/><path fill="#999999" d="M64 36h4v4h-4zM112 52h4v4h-4zM64 72h4v4h-4zM96 72h4v4h-4zM68 76h4v4h-4zM92 76h4v4h-4z"/><path fill="#9a9a9a" d="M96 28h4v4h-4zM108 32h4v4h-4zM112 36h4v4h-4zM108 56h4v4h-4z"/><path fill="#9b9b9b" d="M92 28h4v4h-4zM64 60h4v4h-4zM104 60h4v4h-4zM72 76h4v4h-4z"/><path fill="#9c9c9c" d="M104 28h4v4h-4zM68 32h4v4h-4z"/><path fill="#9d9d9d" d="M100 28h4v4h-4zM112 48h4v4h-4zM76 76h4v4h-4zM88 76h4v4h-4z"/><path fill="#9e9e9e" d="M84 28h4v4h-4zM72 32h4v4h-4zM112 40h4v4h-4zM100 64h4v4h-4z"/><path fill="#9f9f9f" d="M88 28h4v4h-4zM112 44h4v4h-4zM96 68h4v4h-4zM80 76h4v4h-4z"/><path fill="#a0a0a0" d="M84 76h4v4h-4z"/><path fill="#a1a1a1" d="M76 32h4v4h-4zM108 36h4v4h-4zM108 52h4v4h-4zM64 64h4v4h-4zM92 72h4v4h-4z"/><path fill="#a2a2a2" d="M96 32h4v4h-4zM104 32h4v4h-4zM104 56h4v4h-4zM64 68h4v4h-4zM68 72h4v4h-4z"/><path fill="#a3a3a3" d="M100 32h4v4h-4zM68 36h4v4h-4zM68 40h4v4h-4z"/><path fill="#a4a4a4" d="M68 52h4v4h-4zM68 56h4v4h-4z"/><path fill="#a5a5a5" d="M80 32h4v4h-4zM68 44h4v4h-4zM68 48h4v4h-4zM100 60h4v4h-4z"/><path fill="#a6a6a6" d="M92 32h4v4h-4zM72 36h4v4h-4zM72 72h4v4h-4z"/><path fill="#a7a7a7" d="M104 36h4v4h-4zM108 40h4v4h-4zM108 48h4v4h-4zM96 64h4v4h-4z"/><path fill="#a8a8a8" d="M68 60h4v4h-4zM68 68h4v4h-4zM88 72h4v4h-4z"/><path fill="#a9a9a9" d="M84 32h4v4h-4zM76 36h4v4h-4zM100 36h4v4h-4zM108 44h4v4h-4z"/><path fill="#aaaaaa" d="M88 32h4v4h-4zM96 36h4v4h-4zM104 52h4v4h-4zM68 64h4v4h-4zM92 68h4v4h-4zM76 72h4v4h-4z"/><path fill="#ababab" d="M72 40h4v4h-4zM100 56h4v4h-4z"/><path fill="#acacac" d="M80 36h4v4h-4z"/><path fill="#adadad" d="M92 36h4v4h-4zM104 40h4v4h-4zM72 68h4v4h-4zM80 72h8v4h-8z"/><path fill="#aeaeae" d="M76 40h4v4h-4z"/><path fill="#afafaf" d="M84 36h4v4h-4zM72 44h4v4h-4z"/><path fill="#b0b0b0" d="M88 36h4v4h-4z"/><path fill="#b1b1b1" d="M104 44h4v4h-4zM104 48h4v4h-4z"/><path fill="#b2b2b2" d="M80 40h4v4h-4zM100 40h4v4h-4zM96 60h4v4h-4zM72 64h4v4h-4z"/><path fill="#b3b3b3" d="M84 40h4v4h-4zM72 48h4v4h-4zM92 64h4v4h-4z"/><path fill="#b4b4b4" d="M88 40h4v4h-4zM96 40h4v4h-4zM100 52h4v4h-4zM88 68h4v4h-4z"/><path fill="#b5b5b5" d="M92 40h4v4h-4zM76 44h4v4h-4zM72 52h4v4h-4zM72 60h4v4h-4zM76 68h4v4h-4z"/><path fill="#b6b6b6" d="M72 56h4v4h-4z"/><path fill="#b7b7b7" d="M100 44h4v4h-4z"/><path fill="#b9b9b9" d="M80 44h4v4h-4zM100 48h4v4h-4zM80 68h8v4h-8z"/><path fill="#bbbbbb" d="M84 44h8v4h-8zM96 44h4v4h-4z"/><path fill="#bcbcbc" d="M92 44h4v4h-4zM76 48h4v4h-4zM96 56h4v4h-4zM76 64h4v4h-4z"/><path fill="#bdbdbd" d="M92 60h4v4h-4zM88 64h4v4h-4z"/><path fill="#c0c0c0" d="M80 48h4v4h-4zM96 48h4v4h-4zM76 52h4v4h-4zM76 60h4v4h-4z"/><path fill="#c2c2c2" d="M84 48h4v4h-4zM92 48h4v4h-4zM96 52h4v4h-4zM76 56h4v4h-4zM80 64h8v4h-8z"/><path fill="#c3c3c3" d="M88 48h4v4h-4z"/><path fill="#c4c4c4" d="M88 60h4v4h-4z"/><path fill="#c6c6c6" d="M80 52h4v4h-4zM92 56h4v4h-4zM80 60h4v4h-4z"/><path fill="#c7c7c7" d="M80 56h4v4h-4zM84 60h4v4h-4z"/><path fill="#c8c8c8" d="M84 52h4v4h-4zM92 52h4v4h-4z"/><path fill="#c9c9c9" d="M88 52h4v4h-4zM84 56h8v4h-8z"/></g><path d="M87.4 45.7 83.9 42.9 80.4 38.9 76.9 33.8 73.4 31.6 69.9 30.5 66.4 29.9 62.6 28.8 61.2 23.7 60.5 19.2 61.5 13.5 62.9 8.5 61.2 2.8 60.1 -5.6M80.7 36.1 81.8 31 82.8 25.4 84.2 19.7 84.9 12.4 85.6 6.8 84.6 1.1 84.6 -5.6M91.6 47.4 89.1 52.5 86 58.1 82.8 63.2 79.7 68.8 76.2 74.4 73.7 77.6 71.3 81.2 68.8 84.6 68.5 89.1 69.9 93.6 72 98.1 74.8 101.5 77.6 104.9 81.1 108.9 85.6 113.9M82.5 49.6 79.3 54.1 75.5 58.7 72.3 63.2 70.6 69.1 66.4 73.3 61.9 77.8 57.3 80.7 53.1 86.3 48.9 89.1M66.7 42.9 64.3 49.6 61.5 55.3 58 59.8 53.8 65.4 49.6 69.9 43.3 72.2 40.2 79 41.2 87.4M70.6 45.7 67.1 39.5 62.2 36.7 57.3 35 52.4 31.6 47.2 27.1 41.9 23.1 36.7 21.4 31.5 18M40.2 53.6 38.4 60.9 36 67.7 36.7 75.6 38.4 81.8 38.8 89.1 40.2 93.1 41.9 98.7M40.2 53.6 35.6 54.1 31.5 54.7 27.3 56.4 24.1 59.2 23.1 64.9 25.5 72.2 27.3 79 29.4 84.6M105.9 41.7 104.1 47.4 101.3 52.5 99.2 58.1 97.1 64.3 95.8 69.9 94.4 76.7 93.3 83.5 92.3 91.4 91.2 98.7 89.8 106M114.6 37.2 115.3 42.9 114.3 48.5 112.5 54.1 112.9 60.9 113.9 67.7 112.2 75.6 111.1 83.5 111.5 91.4 110.8 99.3 110.1 107.2M125.1 38.4 124.4 44 123.7 49.6 125.5 57.5 127.6 63.7 128.2 69.9 129.3 76.7 128.2 85.7 127.9 93.1 128.2 100.4 127.6 110 127.2 116.2M127.9 58.1 126.2 64.9 124.1 72.2 122.7 79 121.3 86.3 120.6 93.1 120.2 100.4 118.5 107.2 116 113.9M169.8 87.4 166 82.3 162.1 80.1 158 80.1 153.8 82.3 149.6 87.4 146.8 91.4 144.7 98.1 142.2 106 139.8 115.6M151.3 44.6 149.2 49.6 147.5 56.4 145 63.2 141.9 69.9 139.1 76.1 137 83.5" fill="none" stroke="#2050c8" stroke-width=".45" stroke-opacity=".55"/><path d="M29.7 54.1 33.2 53.6 36.7 53 40.2 51.9 41.2 49.3 45.4 50.8 49.3 50.8 52.4 52.5 55.9 48.5 59.4 46.2 62.9 44 66.4 45.1 68.8 46.2 70.9 47.1 73.7 49.6 76.5 51 80.4 49.6 83.9 47.4 87.4 46 90.9 46.2 93 46 96.1 44 98.9 42.9 103.1 39.2 105.9 41.7 110.1 38.4 113.6 36.7 116.7 35.5 118.8 32.7 121.3 29.9" fill="none" stroke="#2a2ab0" stroke-width=".75" stroke-opacity=".9"/></g></g><g clip-path="url(#mbox)"><path d="M26.9 -22.6 26.6 -8.5 26.2 -2.8 26.7 2.8 27.1 5.6 26.6 9 25.5 12.4 23.8 14.1 22.4 15.8 21.7 18 21 19.2 18.9 22 17.5 23.7 17.1 25.9 15.9 29.9 15.7 31.6 14.3 34.4 14.5 37.2 14 40.6 15 41.7 16.4 42.9 17.8 42.3 18.2 44.6 17.5 46.2 16.4 47.4 15.4 48.5 14 50.8 12.9 53.6 12.9 55.3 13.6 57 13.3 59.8 14.3 61.5 15.4 63.2 17.8 67.1 19.2 70.5 21 74.4 22.4 78.4 23.4 82.3 24.8 87.4 25.9 91.4 27.3 95.3 28.7 98.7 30.1 102.6 30.4 106 31.5 108.9 33.2 112.8 34.9 116.2 36.7 121.3 36.7 126.9M160.7 116.2 160.7 111.7 160.7 107.2 161.1 104.3 162.5 101.5 163.2 99.3 164.6 96.4 166 93.6 167.4 90.2 169.1 88 170.2 86.3 171.9 84.3 173.3 81.8 174.6 79 174.9 76.1 175.1 73.3 175.4 70.5 175.4 68.2 175.1 66 174.7 63.2 174 59.8 173.3 57.5 173 57.2 171.2 56.7 169.1 56.7 167 55.8 165.6 54.1 164.2 51.9 162.5 49.1 160.7 46.8 158.7 45.1 156.2 44.3 153.8 44.6 151.3 44.3 149.2 42.9 146.8 41.7 144.7 41.2 143.3 42.3 142.2 42.9 141.9 40.6 140.8 37.8 138.7 36.7 136.3 34.4 134.2 33.6 132.1 31.9 130.3 31.6 128.9 32.7 128.2 35.5 127.7 38.9 126.7 38.9 127.2 35 127.6 31.6 126.2 29.3 124.4 28.8 122.3 28.8 121.3 26.5 121.3 23.1 120.6 20.9 120.6 18 119.5 15.8 119.2 13.5 118.8 10.2 118.1 5.6 117.1 3.4 115.7 2.3 114.3 0.6 112.9 -1.1 110.1 -3.4 108.3 -4.5 104.8 -5.6 104.8 -22.6M122 29 120.6 30.2 119.3 33.3 118.6 37.2 119.7 37.5 120.4 33.8 121.4 31.3Z" fill="none" stroke="#e9e4d6" stroke-width=".8"/></g><path d="M38.4 0V112.8M76.9 0V112.8M115.3 0V112.8M153.8 0V112.8M0 28.2H192.2M0 56.4H192.2M0 84.6H192.2" stroke="#000" stroke-opacity=".08" stroke-width=".5" fill="none"/><path d="M38.4 0v3M38.4 112.8v-3M76.9 0v3M76.9 112.8v-3M115.3 0v3M115.3 112.8v-3M153.8 0v3M153.8 112.8v-3M0 28.2h3.5M192.2 28.2h-3.5M0 56.4h3.5M192.2 56.4h-3.5M0 84.6h3.5M192.2 84.6h-3.5" stroke="#262626" stroke-opacity=".55" stroke-width=".6" fill="none"/><rect x=".3" y=".3" width="191.6" height="112.2" fill="none" stroke="#262626" stroke-opacity=".35" stroke-width=".6"/><circle cx="118.4" cy="28.6" r="2.3" fill="#c8c8c8"/><circle cx="113.5" cy="33.0" r="2.3" fill="#d7d7d7"/><circle cx="87.2" cy="45.9" r="2.3" fill="#f5f5f5"/><circle cx="98.7" cy="43.4" r="2.3" fill="#f0f0f0"/><circle cx="105.8" cy="42.3" r="2.3" fill="#ebebeb"/><circle cx="114.9" cy="46.6" r="2.3" fill="#d7d7d7"/><circle cx="70.7" cy="47.4" r="2.3" fill="#ebebeb"/><circle cx="93.0" cy="46.3" r="2.3" fill="#f5f5f5"/><circle cx="68.9" cy="55.7" r="2.3" fill="#bebebe"/><circle cx="100.9" cy="52.6" r="2.3" fill="#c3c3c3"/><circle cx="76.5" cy="70.8" r="2.3" fill="#ebebeb"/><circle cx="73.7" cy="77.6" r="2.3" fill="#ebebeb"/><circle cx="60.2" cy="84.7" r="2.3" fill="#c3c3c3"/><circle cx="80.5" cy="89.7" r="2.3" fill="#afafaf"/><circle cx="68.5" cy="89.1" r="2.3" fill="#a0a0a0"/><circle cx="91.7" cy="93.1" r="2.3" fill="#b4b4b4"/><circle cx="103.2" cy="89.3" r="2.3" fill="#cdcdcd"/><circle cx="119.5" cy="94.0" r="2.3" fill="#f0f0f0"/><circle cx="102.2" cy="98.9" r="2.3" fill="#c3c3c3"/><circle cx="85.5" cy="102.3" r="2.3" fill="#d7d7d7"/><circle cx="114.1" cy="105.0" r="2.3" fill="#0a0a0a"/><circle cx="114.1" cy="110.6" r="2.3" fill="#ebebeb"/><g font-size="4.9" fill="#111"><text x="106.9" y="25.9">APS1</text><text x="99.8" y="31.7">APLJ</text><text x="75.8" y="42.8">AMUA</text><text x="90.5" y="41.2">AMPR</text><text x="108.0" y="44.1">PASM</text><text x="117.8" y="48.5">PAAR</text><text x="54.7" y="51.7">AMTE</text><text x="87.2" y="52.4">ITAM</text><text x="51.0" y="57.5">AMCO</text><text x="97.0" y="59.7">PAIT</text><text x="79.9" y="72.5">AMHA</text><text x="77.0" y="79.5">POVE</text><text x="55.4" y="81.4">RIOB</text><text x="75.2" y="86.7">ROJI</text><text x="61.9" y="95.6">ROGM</text><text x="87.0" y="90.2">MTJI</text><text x="106.0" y="91.0">MTCO</text><text x="123.0" y="95.6">MTSF</text><text x="104.9" y="101.0">MTSR</text><text x="79.8" y="109.8">ROCD</text><text x="117.5" y="106.8">MTCN</text><text x="117.1" y="112.6">MTNX</text></g><text class="tt" x="156.4" y="11.2" text-anchor="middle" font-size="7.6" font-weight="bold" fill="#fff">(a) CSR SH</text></g><rect x="24.05" y="25.0" width="192.2" height="3.9" fill="url(#gbar)" stroke="#d8d8d8" stroke-width=".5"/><path d="M56.1 25.0v1M56.1 28.9v-1M88.1 25.0v1M88.1 28.9v-1M120.1 25.0v1M120.1 28.9v-1M152.2 25.0v1M152.2 28.9v-1M184.2 25.0v1M184.2 28.9v-1" stroke="#666" stroke-width=".5"/><g class="t" font-size="7.5" fill="#141414" text-anchor="middle"><text x="24.1" y="21.3">0.76</text><text x="56.1" y="21.3">0.8</text><text x="88.1" y="21.3">0.84</text><text x="120.1" y="21.3">0.88</text><text x="152.2" y="21.3">0.92</text><text x="184.2" y="21.3">0.96</text><text x="216.2" y="21.3">1</text><text x="120.1" y="11.8">Correlation Coefficient</text><text x="24.1" y="154.3">85° W</text><text x="62.5" y="154.3">74° W</text><text x="100.9" y="154.3">63° W</text><text x="139.4" y="154.3">52° W</text><text x="177.8" y="154.3">41° W</text><text x="216.2" y="154.3">30° W</text></g><g class="t" font-size="7.5" fill="#141414" text-anchor="end"><text x="22.1" y="34.8">5° N</text><text x="22.1" y="63.0">0°</text><text x="22.1" y="91.2">5° S</text><text x="22.1" y="119.4">10° S</text><text x="22.1" y="147.6">15° S</text></g><rect x="228.5" y="32.1" width="4.2" height="112.8" fill="url(#jbar)"/><g class="t" font-size="7.5" fill="#141414"><text x="235.1" y="147.6">0</text><text x="235.1" y="125.0">5</text><text x="235.1" y="102.5">10</text><text x="235.1" y="79.9">15</text><text x="235.1" y="57.4">20</text><text x="235.1" y="34.8">25</text><g transform="translate(251.8 88.5) rotate(-90)"><text text-anchor="middle">Annual Amplitude (mm)</text></g></g><g transform="translate(316.3 32.1)"><rect width="192.2" height="112.8" fill="#6a6a6a"/><g clip-path="url(#mbox)"><g clip-path="url(#land)"><g filter="url(#jet)"><path fill="#000000" d="M172 -8h32v4h-32zM172 -4h32v4h-32zM172 0h32v4h-32zM176 4h28v4h-28zM176 8h28v4h-28zM176 12h28v4h-28zM176 16h28v4h-28zM176 20h28v4h-28zM180 24h24v4h-24zM180 28h24v4h-24zM180 32h24v4h-24zM180 36h24v4h-24zM180 40h24v4h-24zM180 44h24v4h-24zM180 48h24v4h-24zM180 52h24v4h-24zM180 56h24v4h-24zM180 60h24v4h-24zM180 64h24v4h-24zM180 68h24v4h-24zM180 72h24v4h-24zM180 76h24v4h-24zM180 80h24v4h-24zM180 84h24v4h-24zM180 88h24v4h-24zM176 92h28v4h-28zM176 96h28v4h-28zM176 100h28v4h-28zM172 104h32v4h-32zM172 108h32v4h-32zM172 112h32v4h-32zM172 116h32v4h-32zM172 120h32v4h-32z"/><path fill="#010101" d="M168 -8h4v4h-4zM172 4h4v4h-4zM176 24h4v4h-4zM176 28h4v4h-4zM176 88h4v4h-4z"/><path fill="#020202" d="M176 32h4v4h-4zM176 36h4v4h-4zM172 100h4v4h-4z"/><path fill="#030303" d="M172 8h4v4h-4zM176 40h4v4h-4zM176 44h4v4h-4zM176 84h4v4h-4zM168 116h4v4h-4zM168 120h4v4h-4z"/><path fill="#040404" d="M168 -4h4v4h-4zM176 48h4v4h-4zM176 80h4v4h-4zM172 96h4v4h-4zM168 112h4v4h-4z"/><path fill="#050505" d="M172 12h4v4h-4zM176 52h4v4h-4zM168 108h4v4h-4z"/><path fill="#060606" d="M168 0h4v4h-4zM172 16h4v4h-4zM176 56h4v4h-4zM176 72h4v4h-4zM176 76h4v4h-4zM172 92h4v4h-4z"/><path fill="#070707" d="M164 -8h4v4h-4zM172 20h4v4h-4zM176 60h4v4h-4zM176 64h4v4h-4zM176 68h4v4h-4zM168 104h4v4h-4z"/><path fill="#080808" d="M168 4h4v4h-4zM172 24h4v4h-4zM172 88h4v4h-4z"/><path fill="#090909" d="M164 -4h4v4h-4zM172 28h4v4h-4zM172 32h4v4h-4zM168 100h4v4h-4zM164 120h4v4h-4z"/><path fill="#0a0a0a" d="M168 8h4v4h-4zM172 36h4v4h-4zM172 40h4v4h-4zM172 84h4v4h-4zM164 116h4v4h-4z"/><path fill="#0b0b0b" d="M172 44h4v4h-4zM168 96h4v4h-4zM164 112h4v4h-4z"/><path fill="#0c0c0c" d="M160 -8h4v4h-4zM164 0h4v4h-4zM168 12h4v4h-4zM172 48h4v4h-4zM172 80h4v4h-4zM164 108h4v4h-4z"/><path fill="#0d0d0d" d="M172 52h4v4h-4zM172 76h4v4h-4zM168 92h4v4h-4zM164 104h4v4h-4z"/><path fill="#0e0e0e" d="M164 4h4v4h-4zM168 16h4v4h-4zM172 56h4v4h-4z"/><path fill="#0f0f0f" d="M160 -4h4v4h-4zM168 20h4v4h-4zM172 60h4v4h-4zM172 64h4v4h-4zM172 68h4v4h-4zM172 72h4v4h-4zM168 88h4v4h-4zM164 100h4v4h-4z"/><path fill="#101010" d="M168 24h4v4h-4zM160 116h4v4h-4zM160 120h4v4h-4z"/><path fill="#111111" d="M164 8h4v4h-4zM168 28h4v4h-4zM168 32h4v4h-4zM168 36h4v4h-4zM164 96h4v4h-4zM160 112h4v4h-4z"/><path fill="#121212" d="M156 -8h4v4h-4zM160 0h4v4h-4zM168 40h4v4h-4zM168 84h4v4h-4zM160 108h4v4h-4z"/><path fill="#131313" d="M164 12h4v4h-4zM168 44h4v4h-4z"/><path fill="#141414" d="M168 48h4v4h-4zM168 80h4v4h-4zM164 92h4v4h-4zM160 104h4v4h-4z"/><path fill="#151515" d="M156 -4h4v4h-4zM160 4h4v4h-4zM164 16h4v4h-4z"/><path fill="#161616" d="M168 52h4v4h-4zM168 76h4v4h-4zM160 100h4v4h-4z"/><path fill="#171717" d="M152 -8h4v4h-4zM164 20h4v4h-4zM168 56h4v4h-4zM168 72h4v4h-4zM164 88h4v4h-4zM156 116h4v4h-4zM156 120h4v4h-4z"/><path fill="#181818" d="M156 0h4v4h-4zM160 8h4v4h-4zM164 24h4v4h-4zM24 56h4v4h-4zM168 60h4v4h-4zM168 64h4v4h-4zM168 68h4v4h-4zM28 80h4v4h-4zM160 96h4v4h-4zM156 112h4v4h-4z"/><path fill="#191919" d="M32 28h4v4h-4zM164 28h4v4h-4zM20 56h4v4h-4zM20 60h8v4h-8zM28 84h4v4h-4zM164 84h4v4h-4zM156 108h4v4h-4z"/><path fill="#1a1a1a" d="M152 -4h4v4h-4zM160 12h4v4h-4zM32 20h4v4h-4zM28 24h8v4h-8zM28 28h4v4h-4zM28 32h8v4h-8zM164 32h4v4h-4zM28 36h4v4h-4zM164 36h4v4h-4zM164 40h4v4h-4zM20 52h8v4h-8zM20 64h4v4h-4zM28 76h4v4h-4z"/><path fill="#1b1b1b" d="M28 -4h4v4h-4zM28 0h8v4h-8zM156 4h4v4h-4zM32 16h4v4h-4zM28 20h4v4h-4zM36 24h4v4h-4zM24 28h4v4h-4zM36 28h4v4h-4zM24 32h4v4h-4zM36 32h4v4h-4zM24 36h4v4h-4zM32 36h4v4h-4zM24 40h4v4h-4zM164 44h4v4h-4zM20 48h4v4h-4zM24 64h4v4h-4zM24 80h4v4h-4zM24 84h4v4h-4zM24 88h8v4h-8zM28 92h4v4h-4zM160 92h4v4h-4zM32 100h4v4h-4zM156 104h4v4h-4z"/><path fill="#1c1c1c" d="M24 -8h8v4h-8zM148 -8h4v4h-4zM24 -4h4v4h-4zM32 -4h4v4h-4zM24 0h4v4h-4zM28 4h8v4h-8zM32 8h4v4h-4zM28 12h8v4h-8zM28 16h4v4h-4zM24 20h4v4h-4zM36 20h4v4h-4zM24 24h4v4h-4zM20 36h4v4h-4zM20 40h4v4h-4zM28 40h4v4h-4zM20 44h8v4h-8zM24 48h4v4h-4zM164 48h4v4h-4zM16 52h4v4h-4zM16 56h4v4h-4zM16 60h4v4h-4zM16 64h4v4h-4zM20 68h8v4h-8zM24 72h4v4h-4zM24 76h4v4h-4zM32 80h4v4h-4zM164 80h4v4h-4zM24 92h4v4h-4zM28 96h4v4h-4zM32 104h4v4h-4z"/><path fill="#1d1d1d" d="M20 -8h4v4h-4zM32 -8h4v4h-4zM20 -4h4v4h-4zM36 0h4v4h-4zM24 4h4v4h-4zM28 8h4v4h-4zM24 16h4v4h-4zM36 16h4v4h-4zM160 16h4v4h-4zM20 28h4v4h-4zM20 32h4v4h-4zM36 36h4v4h-4zM16 40h4v4h-4zM16 44h4v4h-4zM16 48h4v4h-4zM28 56h4v4h-4zM16 68h4v4h-4zM20 72h4v4h-4zM20 88h4v4h-4zM20 92h4v4h-4zM24 96h4v4h-4zM32 96h4v4h-4zM28 100h4v4h-4zM156 100h4v4h-4z"/><path fill="#1e1e1e" d="M16 -8h4v4h-4zM16 -4h4v4h-4zM36 -4h4v4h-4zM20 0h4v4h-4zM152 0h4v4h-4zM36 4h4v4h-4zM24 8h4v4h-4zM36 8h4v4h-4zM156 8h4v4h-4zM24 12h4v4h-4zM36 12h4v4h-4zM20 20h4v4h-4zM20 24h4v4h-4zM16 36h4v4h-4zM32 40h4v4h-4zM28 44h4v4h-4zM164 52h4v4h-4zM28 72h4v4h-4zM164 76h4v4h-4zM20 84h4v4h-4zM160 88h4v4h-4zM20 96h4v4h-4zM36 100h4v4h-4zM36 104h4v4h-4zM152 120h4v4h-4z"/><path fill="#1f1f1f" d="M12 -8h4v4h-4zM12 -4h4v4h-4zM148 -4h4v4h-4zM16 0h4v4h-4zM20 4h4v4h-4zM20 8h4v4h-4zM20 12h4v4h-4zM20 16h4v4h-4zM160 20h4v4h-4zM40 24h4v4h-4zM16 28h4v4h-4zM40 28h4v4h-4zM16 32h4v4h-4zM40 32h4v4h-4zM12 40h4v4h-4zM12 44h4v4h-4zM12 48h4v4h-4zM12 52h4v4h-4zM12 56h4v4h-4zM12 60h4v4h-4zM12 64h4v4h-4zM16 72h4v4h-4zM20 76h4v4h-4zM20 80h4v4h-4zM32 84h4v4h-4zM32 92h4v4h-4zM24 100h4v4h-4zM28 104h4v4h-4zM152 116h4v4h-4z"/><path fill="#202020" d="M8 -8h4v4h-4zM144 -8h4v4h-4zM8 -4h4v4h-4zM12 0h4v4h-4zM16 4h4v4h-4zM16 8h4v4h-4zM16 16h4v4h-4zM40 16h4v4h-4zM16 20h4v4h-4zM40 20h4v4h-4zM16 24h4v4h-4zM12 36h4v4h-4zM28 48h4v4h-4zM28 52h4v4h-4zM164 56h4v4h-4zM28 60h4v4h-4zM12 68h4v4h-4zM164 72h4v4h-4zM32 76h4v4h-4zM16 84h4v4h-4zM16 88h4v4h-4zM32 88h4v4h-4zM16 92h4v4h-4zM16 96h4v4h-4zM156 96h4v4h-4zM20 100h4v4h-4zM24 104h4v4h-4zM28 108h8v4h-8zM152 112h4v4h-4z"/><path fill="#212121" d="M4 -8h4v4h-4zM36 -8h4v4h-4zM4 -4h4v4h-4zM8 0h4v4h-4zM12 4h4v4h-4zM152 4h4v4h-4zM12 8h4v4h-4zM16 12h4v4h-4zM40 12h4v4h-4zM12 24h4v4h-4zM160 24h4v4h-4zM12 28h4v4h-4zM12 32h4v4h-4zM40 36h4v4h-4zM8 40h4v4h-4zM36 40h4v4h-4zM8 44h4v4h-4zM8 48h4v4h-4zM164 60h4v4h-4zM164 64h4v4h-4zM28 68h4v4h-4zM164 68h4v4h-4zM12 72h4v4h-4zM16 76h4v4h-4zM16 80h4v4h-4zM160 84h4v4h-4zM16 100h4v4h-4zM20 104h4v4h-4zM24 108h4v4h-4zM152 108h4v4h-4z"/><path fill="#222222" d="M0 -8h4v4h-4zM4 0h4v4h-4zM8 4h4v4h-4zM8 8h4v4h-4zM40 8h4v4h-4zM12 12h4v4h-4zM156 12h4v4h-4zM12 16h4v4h-4zM12 20h4v4h-4zM160 28h4v4h-4zM8 32h4v4h-4zM8 36h4v4h-4zM8 52h4v4h-4zM8 56h4v4h-4zM8 60h4v4h-4zM8 64h4v4h-4zM28 64h4v4h-4zM8 68h4v4h-4zM12 76h4v4h-4zM12 80h4v4h-4zM12 84h4v4h-4zM12 88h4v4h-4zM12 92h4v4h-4zM12 96h4v4h-4zM12 100h4v4h-4zM16 104h4v4h-4zM152 104h4v4h-4zM20 108h4v4h-4z"/><path fill="#232323" d="M-4 -8h4v4h-4zM0 -4h4v4h-4zM0 0h4v4h-4zM148 0h4v4h-4zM4 4h4v4h-4zM40 4h4v4h-4zM4 8h4v4h-4zM8 12h4v4h-4zM8 16h4v4h-4zM8 20h4v4h-4zM8 24h4v4h-4zM8 28h4v4h-4zM160 32h4v4h-4zM160 36h4v4h-4zM4 40h4v4h-4zM160 40h4v4h-4zM4 44h4v4h-4zM32 44h4v4h-4zM160 44h4v4h-4zM8 72h4v4h-4zM8 76h4v4h-4zM8 88h4v4h-4zM8 92h4v4h-4zM156 92h4v4h-4zM8 96h4v4h-4zM12 104h4v4h-4zM16 108h4v4h-4zM20 112h12v4h-12z"/><path fill="#242424" d="M-8 -8h4v4h-4zM-4 -4h4v4h-4zM144 -4h4v4h-4zM-4 0h4v4h-4zM40 0h4v4h-4zM0 4h4v4h-4zM0 8h4v4h-4zM4 12h4v4h-4zM4 16h4v4h-4zM4 20h4v4h-4zM4 24h4v4h-4zM4 28h4v4h-4zM4 32h4v4h-4zM4 36h4v4h-4zM4 48h4v4h-4zM4 52h4v4h-4zM4 56h4v4h-4zM4 60h4v4h-4zM4 64h4v4h-4zM4 68h4v4h-4zM4 72h4v4h-4zM8 80h4v4h-4zM160 80h4v4h-4zM8 84h4v4h-4zM36 96h4v4h-4zM8 100h4v4h-4zM8 104h4v4h-4zM12 108h4v4h-4zM16 112h4v4h-4z"/><path fill="#252525" d="M140 -8h4v4h-4zM-8 -4h4v4h-4zM40 -4h4v4h-4zM-8 0h4v4h-4zM-4 4h4v4h-4zM-4 8h4v4h-4zM152 8h4v4h-4zM0 12h4v4h-4zM0 16h4v4h-4zM156 16h4v4h-4zM0 20h4v4h-4zM0 24h4v4h-4zM0 28h4v4h-4zM0 32h4v4h-4zM0 36h4v4h-4zM0 40h4v4h-4zM0 44h4v4h-4zM0 48h4v4h-4zM160 48h4v4h-4zM4 76h4v4h-4zM4 80h4v4h-4zM4 84h4v4h-4zM4 88h4v4h-4zM4 92h4v4h-4zM4 96h4v4h-4zM4 100h4v4h-4zM152 100h4v4h-4zM4 104h4v4h-4zM8 108h4v4h-4zM36 108h4v4h-4zM12 112h4v4h-4zM32 112h4v4h-4zM20 116h4v4h-4z"/><path fill="#262626" d="M-8 4h4v4h-4zM-8 8h4v4h-4zM-4 12h4v4h-4zM-4 16h4v4h-4zM44 32h4v4h-4zM40 40h4v4h-4zM0 52h4v4h-4zM0 56h4v4h-4zM0 60h4v4h-4zM0 64h4v4h-4zM0 68h4v4h-4zM0 72h4v4h-4zM0 76h4v4h-4zM160 76h4v4h-4zM0 80h4v4h-4zM0 84h4v4h-4zM0 88h4v4h-4zM156 88h4v4h-4zM0 92h4v4h-4zM0 96h4v4h-4zM0 100h4v4h-4zM4 108h4v4h-4zM8 112h4v4h-4zM12 116h8v4h-8zM24 116h4v4h-4zM148 120h4v4h-4z"/><path fill="#272727" d="M40 -8h4v4h-4zM148 4h4v4h-4zM-8 12h4v4h-4zM44 12h4v4h-4zM-8 16h4v4h-4zM44 16h4v4h-4zM-4 20h4v4h-4zM44 20h4v4h-4zM-4 24h4v4h-4zM44 24h4v4h-4zM-4 28h4v4h-4zM44 28h4v4h-4zM-4 32h4v4h-4zM-4 36h4v4h-4zM44 36h4v4h-4zM-4 40h4v4h-4zM-4 44h4v4h-4zM-4 48h4v4h-4zM-4 52h4v4h-4zM-4 56h4v4h-4zM-4 60h4v4h-4zM-4 64h4v4h-4zM32 72h4v4h-4zM0 104h4v4h-4zM0 108h4v4h-4zM4 112h4v4h-4zM4 116h8v4h-8zM28 116h4v4h-4zM148 116h4v4h-4zM12 120h8v4h-8z"/><path fill="#282828" d="M144 0h4v4h-4zM152 12h4v4h-4zM-8 20h4v4h-4zM156 20h4v4h-4zM-8 24h4v4h-4zM-8 28h4v4h-4zM-8 32h4v4h-4zM-8 36h4v4h-4zM-8 40h4v4h-4zM36 44h4v4h-4zM160 52h4v4h-4zM-4 68h4v4h-4zM-4 72h4v4h-4zM160 72h4v4h-4zM-4 76h4v4h-4zM-4 80h4v4h-4zM-4 84h4v4h-4zM-4 88h4v4h-4zM-4 92h4v4h-4zM-4 96h4v4h-4zM152 96h4v4h-4zM-4 100h4v4h-4zM-4 104h4v4h-4zM-4 108h4v4h-4zM0 112h4v4h-4zM148 112h4v4h-4zM0 116h4v4h-4zM4 120h8v4h-8zM20 120h8v4h-8z"/><path fill="#292929" d="M136 -8h4v4h-4zM140 -4h4v4h-4zM44 8h4v4h-4zM-8 44h4v4h-4zM-8 48h4v4h-4zM32 48h4v4h-4zM-8 52h4v4h-4zM-8 56h4v4h-4zM-8 60h4v4h-4zM-8 64h4v4h-4zM-8 68h4v4h-4zM160 68h4v4h-4zM-8 72h4v4h-4zM-8 76h4v4h-4zM-8 80h4v4h-4zM-8 84h4v4h-4zM156 84h4v4h-4zM-8 88h4v4h-4zM-8 92h4v4h-4zM36 92h4v4h-4zM-8 96h4v4h-4zM-8 100h4v4h-4zM-8 104h4v4h-4zM-8 108h4v4h-4zM148 108h4v4h-4zM-4 112h4v4h-4zM-4 116h4v4h-4zM0 120h4v4h-4z"/><path fill="#2a2a2a" d="M156 24h4v4h-4zM160 56h4v4h-4zM160 60h4v4h-4zM160 64h4v4h-4zM148 104h4v4h-4zM-8 112h4v4h-4zM-8 116h4v4h-4zM32 116h4v4h-4zM-4 120h4v4h-4zM28 120h4v4h-4z"/><path fill="#2b2b2b" d="M44 4h4v4h-4zM148 8h4v4h-4zM152 92h4v4h-4zM36 112h4v4h-4zM-8 120h4v4h-4z"/><path fill="#2c2c2c" d="M144 4h4v4h-4zM152 16h4v4h-4zM156 28h4v4h-4zM44 40h4v4h-4zM32 68h4v4h-4zM156 80h4v4h-4z"/><path fill="#2d2d2d" d="M132 -8h4v4h-4zM136 -4h4v4h-4zM44 0h4v4h-4zM140 0h4v4h-4zM156 32h4v4h-4zM156 36h4v4h-4zM156 40h4v4h-4zM156 44h4v4h-4zM32 52h4v4h-4zM36 88h4v4h-4zM148 100h4v4h-4z"/><path fill="#2e2e2e" d="M44 -4h4v4h-4zM40 44h4v4h-4zM32 64h4v4h-4zM156 76h4v4h-4zM152 88h4v4h-4zM32 120h4v4h-4zM144 120h4v4h-4z"/><path fill="#2f2f2f" d="M44 -8h4v4h-4zM48 12h4v4h-4zM148 12h4v4h-4zM48 16h4v4h-4zM156 48h4v4h-4zM32 56h4v4h-4zM32 60h4v4h-4zM36 116h4v4h-4z"/><path fill="#303030" d="M48 8h4v4h-4zM144 8h4v4h-4zM152 20h4v4h-4zM36 84h4v4h-4zM148 96h4v4h-4zM40 100h4v4h-4zM40 104h4v4h-4zM144 116h4v4h-4z"/><path fill="#313131" d="M128 -8h4v4h-4zM132 -4h4v4h-4zM136 0h4v4h-4zM140 4h4v4h-4zM48 20h4v4h-4zM48 32h4v4h-4zM48 36h4v4h-4zM156 72h4v4h-4zM144 112h4v4h-4z"/><path fill="#323232" d="M36 48h4v4h-4zM156 52h4v4h-4zM156 68h4v4h-4zM152 84h4v4h-4zM40 108h4v4h-4zM144 108h4v4h-4z"/><path fill="#333333" d="M48 4h4v4h-4zM148 16h4v4h-4zM48 24h4v4h-4zM152 24h4v4h-4zM48 28h4v4h-4zM156 64h4v4h-4zM36 80h4v4h-4zM40 96h4v4h-4zM36 120h4v4h-4z"/><path fill="#343434" d="M84 -8h8v4h-8zM124 -8h4v4h-4zM156 56h4v4h-4zM156 60h4v4h-4zM152 80h4v4h-4zM148 92h4v4h-4zM144 104h4v4h-4z"/><path fill="#353535" d="M80 -8h4v4h-4zM128 -4h4v4h-4zM132 0h4v4h-4zM136 4h4v4h-4zM140 8h4v4h-4zM144 12h4v4h-4zM48 40h4v4h-4zM44 44h4v4h-4zM40 112h4v4h-4z"/><path fill="#363636" d="M48 -8h4v4h-4zM92 -8h4v4h-4zM48 0h4v4h-4zM152 28h4v4h-4zM36 76h4v4h-4zM144 100h4v4h-4zM140 120h4v4h-4z"/><path fill="#373737" d="M76 -8h4v4h-4zM120 -8h4v4h-4zM84 -4h8v4h-8zM52 12h4v4h-4zM152 76h4v4h-4zM148 88h4v4h-4zM40 92h4v4h-4z"/><path fill="#383838" d="M48 -4h4v4h-4zM80 -4h4v4h-4zM124 -4h4v4h-4zM52 8h4v4h-4zM148 20h4v4h-4zM152 32h4v4h-4zM152 36h4v4h-4zM152 40h4v4h-4zM152 44h4v4h-4zM36 72h4v4h-4zM40 116h4v4h-4z"/><path fill="#393939" d="M72 -8h4v4h-4zM76 -4h4v4h-4zM128 0h4v4h-4zM132 4h4v4h-4zM136 8h4v4h-4zM52 16h4v4h-4zM40 48h4v4h-4zM152 48h4v4h-4zM152 72h4v4h-4zM140 116h4v4h-4z"/><path fill="#3a3a3a" d="M96 -8h4v4h-4zM116 -8h4v4h-4zM92 -4h4v4h-4zM52 4h4v4h-4zM140 12h4v4h-4zM144 16h4v4h-4zM144 96h4v4h-4z"/><path fill="#3b3b3b" d="M68 -8h4v4h-4zM72 -4h4v4h-4zM36 68h4v4h-4zM152 68h4v4h-4zM148 84h4v4h-4zM140 112h4v4h-4zM40 120h4v4h-4z"/><path fill="#3c3c3c" d="M52 -8h4v4h-4zM112 -8h4v4h-4zM68 -4h4v4h-4zM120 -4h4v4h-4zM148 24h4v4h-4zM36 52h4v4h-4zM152 52h4v4h-4zM152 64h4v4h-4z"/><path fill="#3d3d3d" d="M64 -8h4v4h-4zM100 -8h4v4h-4zM52 0h4v4h-4zM72 0h20v4h-20zM124 0h4v4h-4zM56 4h4v4h-4zM128 4h4v4h-4zM132 8h4v4h-4zM152 56h4v4h-4zM152 60h4v4h-4zM40 88h4v4h-4zM144 92h4v4h-4zM140 108h4v4h-4z"/><path fill="#3e3e3e" d="M56 -8h4v4h-4zM104 -8h8v4h-8zM52 -4h4v4h-4zM60 0h12v4h-12zM92 0h4v4h-4zM56 8h4v4h-4zM136 12h4v4h-4zM52 20h4v4h-4zM36 64h4v4h-4zM148 80h4v4h-4z"/><path fill="#3f3f3f" d="M60 -8h4v4h-4zM64 -4h4v4h-4zM96 -4h4v4h-4zM116 -4h4v4h-4zM56 0h4v4h-4zM60 4h4v4h-4zM140 16h4v4h-4zM144 20h4v4h-4zM52 36h4v4h-4zM140 104h4v4h-4zM136 120h4v4h-4z"/><path fill="#404040" d="M56 -4h8v4h-8zM120 0h4v4h-4zM64 4h8v4h-8zM148 28h4v4h-4zM48 44h4v4h-4zM148 76h4v4h-4z"/><path fill="#414141" d="M72 4h4v4h-4zM124 4h4v4h-4zM128 8h4v4h-4zM56 12h4v4h-4zM44 48h4v4h-4zM36 60h4v4h-4zM144 88h4v4h-4zM140 100h4v4h-4zM44 108h4v4h-4zM44 112h4v4h-4zM136 116h4v4h-4z"/><path fill="#424242" d="M112 -4h4v4h-4zM132 12h4v4h-4zM52 32h4v4h-4zM52 40h4v4h-4zM148 72h4v4h-4zM44 116h4v4h-4z"/><path fill="#434343" d="M100 -4h4v4h-4zM76 4h4v4h-4zM60 8h4v4h-4zM136 16h4v4h-4zM52 24h4v4h-4zM148 32h4v4h-4zM36 56h4v4h-4zM40 84h4v4h-4zM44 120h4v4h-4z"/><path fill="#444444" d="M104 -4h8v4h-8zM116 0h4v4h-4zM144 24h4v4h-4zM52 28h4v4h-4zM148 36h4v4h-4zM148 40h4v4h-4zM148 44h4v4h-4zM148 48h4v4h-4zM148 68h4v4h-4zM144 84h4v4h-4zM44 96h4v4h-4zM44 100h4v4h-4zM44 104h4v4h-4z"/><path fill="#454545" d="M96 0h4v4h-4zM80 4h4v4h-4zM120 4h4v4h-4zM64 8h4v4h-4zM124 8h4v4h-4zM128 12h4v4h-4zM140 20h4v4h-4zM148 52h4v4h-4zM148 56h4v4h-4zM148 64h4v4h-4zM140 96h4v4h-4zM136 112h4v4h-4z"/><path fill="#464646" d="M84 4h8v4h-8zM68 8h4v4h-4zM56 16h4v4h-4zM40 52h4v4h-4zM148 60h4v4h-4zM144 80h4v4h-4zM44 92h4v4h-4zM132 120h4v4h-4z"/><path fill="#474747" d="M112 0h4v4h-4zM92 4h4v4h-4zM72 8h4v4h-4zM132 16h4v4h-4z"/><path fill="#484848" d="M140 92h4v4h-4zM136 108h4v4h-4z"/><path fill="#494949" d="M100 0h4v4h-4zM108 0h4v4h-4zM116 4h4v4h-4zM120 8h4v4h-4zM124 12h4v4h-4zM136 20h4v4h-4zM144 76h4v4h-4zM132 116h4v4h-4z"/><path fill="#4a4a4a" d="M104 0h4v4h-4zM76 8h4v4h-4zM60 12h4v4h-4zM128 16h4v4h-4zM144 28h4v4h-4zM140 88h4v4h-4z"/><path fill="#4b4b4b" d="M96 4h4v4h-4zM140 24h4v4h-4zM40 68h4v4h-4zM40 72h4v4h-4zM144 72h4v4h-4zM40 80h4v4h-4zM44 88h4v4h-4z"/><path fill="#4c4c4c" d="M112 4h4v4h-4zM132 20h4v4h-4zM40 64h4v4h-4zM40 76h4v4h-4zM140 84h4v4h-4zM136 104h4v4h-4zM48 108h4v4h-4zM48 112h4v4h-4zM48 116h4v4h-4zM48 120h4v4h-4z"/><path fill="#4d4d4d" d="M116 8h4v4h-4zM120 12h4v4h-4zM56 20h4v4h-4zM144 68h4v4h-4zM48 104h4v4h-4zM132 112h4v4h-4zM128 120h4v4h-4z"/><path fill="#4e4e4e" d="M100 4h4v4h-4zM80 8h4v4h-4zM124 16h4v4h-4zM144 32h4v4h-4zM44 52h4v4h-4zM144 52h4v4h-4zM40 56h4v4h-4zM144 56h4v4h-4zM40 60h4v4h-4zM144 60h4v4h-4zM144 64h4v4h-4zM48 100h4v4h-4z"/><path fill="#4f4f4f" d="M108 4h4v4h-4zM64 12h12v4h-12zM128 20h4v4h-4zM136 24h4v4h-4zM52 44h4v4h-4zM48 48h4v4h-4zM144 48h4v4h-4zM140 80h4v4h-4zM136 100h4v4h-4z"/><path fill="#505050" d="M104 4h4v4h-4zM92 8h4v4h-4zM144 36h4v4h-4zM144 44h4v4h-4zM48 96h4v4h-4zM128 116h4v4h-4z"/><path fill="#515151" d="M84 8h8v4h-8zM96 8h4v4h-4zM132 24h4v4h-4zM140 28h4v4h-4zM144 40h4v4h-4zM140 76h4v4h-4zM44 84h4v4h-4zM136 96h4v4h-4z"/><path fill="#525252" d="M112 8h4v4h-4zM116 12h4v4h-4zM48 92h4v4h-4zM136 92h4v4h-4zM132 108h4v4h-4z"/><path fill="#535353" d="M100 8h4v4h-4zM76 12h4v4h-4zM60 16h4v4h-4zM120 16h4v4h-4zM124 120h4v4h-4z"/><path fill="#545454" d="M104 8h4v4h-4zM124 20h4v4h-4zM128 24h4v4h-4zM140 72h4v4h-4zM136 88h4v4h-4zM128 112h4v4h-4z"/><path fill="#555555" d="M108 8h4v4h-4zM44 56h4v4h-4zM136 84h4v4h-4zM48 88h4v4h-4zM52 104h4v4h-4zM52 120h4v4h-4z"/><path fill="#565656" d="M96 12h4v4h-4zM112 12h4v4h-4zM56 24h4v4h-4zM136 28h4v4h-4zM56 40h4v4h-4zM44 60h4v4h-4zM44 64h4v4h-4zM140 68h4v4h-4zM136 80h4v4h-4zM52 108h4v4h-4zM52 112h4v4h-4zM52 116h4v4h-4zM124 116h4v4h-4z"/><path fill="#575757" d="M92 12h4v4h-4zM116 16h4v4h-4zM132 28h4v4h-4zM140 32h4v4h-4zM140 56h4v4h-4zM140 60h4v4h-4zM140 64h4v4h-4zM44 68h4v4h-4zM52 100h4v4h-4zM128 108h4v4h-4z"/><path fill="#585858" d="M80 12h4v4h-4zM100 12h4v4h-4zM128 28h4v4h-4zM56 32h4v4h-4zM56 36h4v4h-4zM140 52h4v4h-4zM44 72h4v4h-4zM44 80h4v4h-4zM132 104h4v4h-4z"/><path fill="#595959" d="M108 12h4v4h-4zM64 16h8v4h-8zM124 24h4v4h-4zM56 28h4v4h-4zM136 76h4v4h-4zM48 84h4v4h-4zM124 112h4v4h-4zM120 120h4v4h-4z"/><path fill="#5a5a5a" d="M88 12h4v4h-4zM104 12h4v4h-4zM72 16h4v4h-4zM60 20h4v4h-4zM120 20h4v4h-4zM140 48h4v4h-4zM44 76h4v4h-4zM52 96h4v4h-4z"/><path fill="#5b5b5b" d="M84 12h4v4h-4zM140 36h4v4h-4zM140 40h4v4h-4zM140 44h4v4h-4zM48 52h4v4h-4zM132 96h4v4h-4zM132 100h4v4h-4zM128 104h4v4h-4zM124 108h4v4h-4z"/><path fill="#5c5c5c" d="M112 16h4v4h-4zM128 32h4v4h-4zM136 72h4v4h-4zM132 92h4v4h-4zM124 104h4v4h-4zM120 116h4v4h-4z"/><path fill="#5d5d5d" d="M76 16h4v4h-4zM96 16h4v4h-4zM48 56h4v4h-4zM48 60h4v4h-4zM52 84h4v4h-4zM52 88h4v4h-4zM132 88h4v4h-4zM52 92h4v4h-4zM56 120h4v4h-4z"/><path fill="#5e5e5e" d="M132 32h8v4h-8zM48 80h4v4h-4zM56 80h4v4h-4zM132 84h4v4h-4zM128 100h4v4h-4zM120 112h4v4h-4zM116 120h4v4h-4z"/><path fill="#5f5f5f" d="M92 16h4v4h-4zM124 28h4v4h-4zM48 64h4v4h-4zM136 68h4v4h-4zM52 80h4v4h-4zM132 80h4v4h-4zM56 104h4v4h-4zM56 116h4v4h-4z"/><path fill="#606060" d="M100 16h4v4h-4zM64 20h4v4h-4zM124 100h4v4h-4zM56 108h4v4h-4zM120 108h4v4h-4zM56 112h4v4h-4z"/><path fill="#616161" d="M108 16h4v4h-4zM116 20h4v4h-4zM136 52h4v4h-4zM136 56h4v4h-4zM136 60h4v4h-4zM136 64h4v4h-4zM48 68h4v4h-4zM48 72h4v4h-4zM48 76h4v4h-4zM132 76h4v4h-4zM128 96h4v4h-4zM56 100h4v4h-4zM116 116h4v4h-4z"/><path fill="#626262" d="M80 16h4v4h-4zM88 16h4v4h-4zM104 16h4v4h-4zM68 20h4v4h-4zM120 24h4v4h-4zM136 36h4v4h-4zM52 48h4v4h-4zM56 84h4v4h-4zM120 104h4v4h-4z"/><path fill="#636363" d="M84 16h4v4h-4zM72 20h4v4h-4zM132 36h4v4h-4zM136 40h4v4h-4zM136 48h4v4h-4zM52 76h4v4h-4zM116 112h4v4h-4zM112 120h4v4h-4z"/><path fill="#646464" d="M124 32h4v4h-4zM128 36h4v4h-4zM56 44h4v4h-4zM136 44h4v4h-4zM128 92h4v4h-4zM60 120h4v4h-4z"/><path fill="#656565" d="M132 72h4v4h-4zM128 88h4v4h-4zM56 96h4v4h-4z"/><path fill="#666666" d="M52 60h4v4h-4zM56 76h4v4h-4zM128 84h4v4h-4zM124 96h4v4h-4zM120 100h4v4h-4zM116 108h4v4h-4zM60 116h4v4h-4zM112 116h4v4h-4z"/><path fill="#676767" d="M76 20h4v4h-4zM132 40h4v4h-4zM128 80h4v4h-4zM56 88h4v4h-4zM108 120h4v4h-4z"/><path fill="#686868" d="M96 20h4v4h-4zM112 20h4v4h-4zM132 68h4v4h-4zM56 92h4v4h-4zM116 104h4v4h-4zM60 108h4v4h-4zM60 112h4v4h-4z"/><path fill="#696969" d="M60 24h4v4h-4zM52 64h4v4h-4zM52 72h4v4h-4zM60 104h4v4h-4zM112 112h4v4h-4zM64 120h4v4h-4z"/><path fill="#6a6a6a" d="M92 20h4v4h-4zM132 44h4v4h-4zM132 48h4v4h-4zM52 56h4v4h-4zM128 76h4v4h-4zM60 80h4v4h-4zM124 92h4v4h-4zM108 116h4v4h-4zM104 120h4v4h-4z"/><path fill="#6b6b6b" d="M80 20h4v4h-4zM120 28h4v4h-4zM60 32h4v4h-4zM132 52h4v4h-4zM132 64h4v4h-4zM52 68h4v4h-4zM120 96h4v4h-4zM64 104h4v4h-4zM112 108h4v4h-4zM64 116h4v4h-4z"/><path fill="#6c6c6c" d="M88 20h4v4h-4zM132 56h4v4h-4zM132 60h4v4h-4zM124 88h4v4h-4zM60 100h4v4h-4zM116 100h4v4h-4zM64 108h4v4h-4zM68 120h4v4h-4zM100 120h4v4h-4z"/><path fill="#6d6d6d" d="M68 24h8v4h-8zM116 24h4v4h-4zM128 40h4v4h-4zM124 84h4v4h-4zM64 112h4v4h-4zM108 112h4v4h-4zM104 116h4v4h-4z"/><path fill="#6e6e6e" d="M84 20h4v4h-4zM100 20h4v4h-4zM60 28h4v4h-4zM124 36h4v4h-4zM128 72h4v4h-4zM124 80h4v4h-4zM64 100h4v4h-4zM112 104h4v4h-4zM68 116h4v4h-4zM72 120h4v4h-4zM96 120h4v4h-4z"/><path fill="#6f6f6f" d="M108 20h4v4h-4zM64 24h4v4h-4zM60 96h4v4h-4zM68 104h4v4h-4zM68 108h4v4h-4zM68 112h4v4h-4zM100 116h4v4h-4zM76 120h20v4h-20z"/><path fill="#707070" d="M52 52h4v4h-4zM60 84h4v4h-4zM120 92h4v4h-4zM116 96h4v4h-4zM108 108h4v4h-4zM104 112h4v4h-4zM72 116h4v4h-4z"/><path fill="#717171" d="M128 44h4v4h-4zM124 76h4v4h-4zM112 100h4v4h-4zM72 112h4v4h-4zM76 116h4v4h-4zM92 116h8v4h-8z"/><path fill="#727272" d="M104 20h4v4h-4zM128 48h4v4h-4zM128 68h4v4h-4zM120 88h4v4h-4zM68 100h4v4h-4zM108 104h4v4h-4zM72 108h4v4h-4zM100 112h4v4h-4zM80 116h12v4h-12z"/><path fill="#737373" d="M76 24h4v4h-4zM128 52h4v4h-4zM120 84h4v4h-4zM72 104h4v4h-4zM104 108h4v4h-4zM76 112h4v4h-4zM96 112h4v4h-4z"/><path fill="#747474" d="M64 28h4v4h-4zM56 60h4v4h-4zM128 64h4v4h-4zM120 80h4v4h-4zM60 88h4v4h-4zM60 92h4v4h-4zM116 92h4v4h-4zM76 108h4v4h-4zM80 112h16v4h-16z"/><path fill="#757575" d="M120 32h4v4h-4zM56 72h4v4h-4zM64 96h4v4h-4zM112 96h4v4h-4zM108 100h4v4h-4zM100 108h4v4h-4z"/><path fill="#767676" d="M112 24h4v4h-4zM128 56h4v4h-4zM128 60h4v4h-4zM124 72h4v4h-4zM104 104h4v4h-4zM80 108h4v4h-4zM96 108h4v4h-4z"/><path fill="#777777" d="M68 28h4v4h-4zM56 48h4v4h-4zM60 76h4v4h-4zM120 76h4v4h-4zM116 88h4v4h-4zM72 100h4v4h-4zM76 104h4v4h-4zM84 108h12v4h-12z"/><path fill="#787878" d="M56 64h4v4h-4zM116 84h4v4h-4zM112 92h4v4h-4zM104 100h4v4h-4zM100 104h4v4h-4z"/><path fill="#797979" d="M116 28h4v4h-4zM64 32h4v4h-4zM124 52h4v4h-4zM56 56h4v4h-4zM116 80h4v4h-4zM68 96h4v4h-4zM108 96h4v4h-4zM80 104h4v4h-4zM96 104h4v4h-4z"/><path fill="#7a7a7a" d="M124 40h4v4h-4zM124 68h4v4h-4zM76 100h4v4h-4zM84 104h12v4h-12z"/><path fill="#7b7b7b" d="M80 24h4v4h-4zM92 24h4v4h-4zM72 28h4v4h-4zM124 64h4v4h-4zM120 72h4v4h-4zM116 76h4v4h-4zM112 88h4v4h-4zM100 100h4v4h-4z"/><path fill="#7c7c7c" d="M88 24h4v4h-4zM56 68h4v4h-4zM108 92h4v4h-4zM72 96h4v4h-4zM104 96h4v4h-4zM80 100h4v4h-4z"/><path fill="#7d7d7d" d="M124 48h4v4h-4zM124 60h4v4h-4zM112 84h4v4h-4zM64 92h4v4h-4zM84 100h4v4h-4zM96 100h4v4h-4z"/><path fill="#7e7e7e" d="M84 24h4v4h-4zM96 24h4v4h-4zM124 56h4v4h-4zM120 68h4v4h-4zM116 72h4v4h-4zM112 80h4v4h-4zM76 96h4v4h-4zM100 96h4v4h-4zM88 100h8v4h-8z"/><path fill="#7f7f7f" d="M60 40h4v4h-4zM112 76h4v4h-4zM108 88h4v4h-4zM104 92h4v4h-4z"/><path fill="#808080" d="M108 24h4v4h-4zM124 44h4v4h-4zM120 64h4v4h-4zM64 88h4v4h-4zM68 92h4v4h-4zM80 96h4v4h-4zM96 96h4v4h-4z"/><path fill="#818181" d="M60 36h4v4h-4zM120 36h4v4h-4zM120 60h4v4h-4zM116 68h4v4h-4zM108 84h4v4h-4zM84 96h12v4h-12z"/><path fill="#828282" d="M56 52h4v4h-4zM120 56h4v4h-4zM112 72h4v4h-4zM108 80h4v4h-4zM104 88h4v4h-4zM72 92h4v4h-4zM100 92h4v4h-4z"/><path fill="#838383" d="M120 52h4v4h-4zM64 84h4v4h-4zM76 92h8v4h-8z"/><path fill="#848484" d="M100 24h4v4h-4zM112 28h4v4h-4zM116 64h4v4h-4zM108 76h4v4h-4zM84 92h4v4h-4zM96 92h4v4h-4z"/><path fill="#858585" d="M60 44h4v4h-4zM112 68h4v4h-4zM108 72h4v4h-4zM104 84h4v4h-4zM100 88h4v4h-4zM88 92h8v4h-8z"/><path fill="#868686" d="M104 24h4v4h-4zM116 32h4v4h-4zM116 60h4v4h-4zM68 88h4v4h-4z"/><path fill="#878787" d="M76 28h4v4h-4zM104 80h4v4h-4zM72 88h12v4h-12z"/><path fill="#888888" d="M112 64h4v4h-4zM108 68h4v4h-4zM104 76h4v4h-4zM84 88h4v4h-4zM96 88h4v4h-4z"/><path fill="#898989" d="M100 84h4v4h-4zM88 88h8v4h-8z"/><path fill="#8a8a8a" d="M116 56h4v4h-4zM60 60h4v4h-4zM104 72h4v4h-4z"/><path fill="#8b8b8b" d="M68 32h4v4h-4zM60 72h4v4h-4zM100 80h4v4h-4zM76 84h8v4h-8z"/><path fill="#8c8c8c" d="M104 68h4v4h-4zM68 84h4v4h-4zM84 84h4v4h-4zM96 84h4v4h-4z"/><path fill="#8d8d8d" d="M120 40h4v4h-4zM112 60h4v4h-4zM60 64h4v4h-4zM108 64h4v4h-4zM100 76h4v4h-4zM64 80h4v4h-4zM72 84h4v4h-4z"/><path fill="#8e8e8e" d="M108 28h4v4h-4zM100 72h4v4h-4zM88 84h8v4h-8z"/><path fill="#8f8f8f" d="M96 80h4v4h-4z"/><path fill="#909090" d="M120 48h4v4h-4zM60 56h4v4h-4zM76 80h12v4h-12z"/><path fill="#919191" d="M112 32h4v4h-4zM60 48h4v4h-4zM100 68h4v4h-4zM96 76h4v4h-4z"/><path fill="#929292" d="M80 28h4v4h-4zM92 28h4v4h-4zM116 36h4v4h-4zM104 64h4v4h-4zM96 72h4v4h-4zM72 80h4v4h-4zM88 80h8v4h-8z"/><path fill="#939393" d="M88 28h4v4h-4zM60 68h4v4h-4z"/><path fill="#949494" d="M116 52h4v4h-4zM108 60h4v4h-4zM88 76h8v4h-8z"/><path fill="#959595" d="M84 28h4v4h-4zM72 32h4v4h-4zM112 56h4v4h-4zM64 76h4v4h-4zM84 76h4v4h-4zM68 80h4v4h-4z"/><path fill="#969696" d="M120 44h4v4h-4zM60 52h4v4h-4zM92 72h4v4h-4z"/><path fill="#979797" d="M100 64h4v4h-4zM96 68h4v4h-4zM80 76h4v4h-4z"/><path fill="#989898" d="M104 28h4v4h-4zM108 32h4v4h-4zM88 72h4v4h-4z"/><path fill="#999999" d="M96 28h4v4h-4z"/><path fill="#9a9a9a" d="M104 60h4v4h-4zM76 76h4v4h-4z"/><path fill="#9c9c9c" d="M100 28h4v4h-4zM112 36h4v4h-4zM72 76h4v4h-4z"/><path fill="#9d9d9d" d="M64 36h4v4h-4zM116 40h4v4h-4zM84 72h4v4h-4z"/><path fill="#9e9e9e" d="M108 56h4v4h-4zM92 68h4v4h-4zM68 76h4v4h-4z"/><path fill="#a0a0a0" d="M76 32h4v4h-4zM116 48h4v4h-4zM96 64h4v4h-4zM64 72h4v4h-4z"/><path fill="#a2a2a2" d="M112 52h4v4h-4z"/><path fill="#a3a3a3" d="M104 32h4v4h-4zM100 60h4v4h-4z"/><path fill="#a4a4a4" d="M108 36h4v4h-4zM116 44h4v4h-4zM88 68h4v4h-4zM80 72h4v4h-4z"/><path fill="#a5a5a5" d="M64 64h4v4h-4z"/><path fill="#a6a6a6" d="M112 40h4v4h-4zM64 60h4v4h-4z"/><path fill="#a7a7a7" d="M64 40h4v4h-4zM104 56h4v4h-4zM64 68h4v4h-4z"/><path fill="#a8a8a8" d="M68 72h4v4h-4zM76 72h4v4h-4z"/><path fill="#a9a9a9" d="M72 72h4v4h-4z"/><path fill="#aaaaaa" d="M100 32h4v4h-4zM68 36h4v4h-4zM112 48h4v4h-4z"/><path fill="#ababab" d="M80 32h4v4h-4zM64 56h4v4h-4z"/><path fill="#acacac" d="M96 32h4v4h-4zM112 44h4v4h-4zM108 52h4v4h-4z"/><path fill="#adadad" d="M88 32h8v4h-8zM64 44h4v4h-4zM92 64h4v4h-4z"/><path fill="#aeaeae" d="M84 32h4v4h-4zM84 68h4v4h-4z"/><path fill="#b0b0b0" d="M104 36h4v4h-4zM96 60h4v4h-4z"/><path fill="#b1b1b1" d="M108 40h4v4h-4z"/><path fill="#b2b2b2" d="M72 36h4v4h-4zM64 48h4v4h-4zM64 52h4v4h-4zM68 68h4v4h-4z"/><path fill="#b3b3b3" d="M100 56h4v4h-4z"/><path fill="#b6b6b6" d="M76 36h4v4h-4zM108 48h4v4h-4z"/><path fill="#b7b7b7" d="M108 44h4v4h-4z"/><path fill="#b8b8b8" d="M104 52h4v4h-4zM80 68h4v4h-4z"/><path fill="#b9b9b9" d="M72 68h4v4h-4z"/><path fill="#bbbbbb" d="M88 64h4v4h-4z"/><path fill="#bcbcbc" d="M80 36h4v4h-4zM68 64h4v4h-4zM76 68h4v4h-4z"/><path fill="#bdbdbd" d="M100 36h4v4h-4z"/><path fill="#bfbfbf" d="M104 40h4v4h-4z"/><path fill="#c0c0c0" d="M68 40h4v4h-4z"/><path fill="#c2c2c2" d="M92 60h4v4h-4z"/><path fill="#c3c3c3" d="M84 36h4v4h-4zM96 56h4v4h-4zM68 60h4v4h-4z"/><path fill="#c4c4c4" d="M104 48h4v4h-4z"/><path fill="#c5c5c5" d="M96 36h4v4h-4z"/><path fill="#c7c7c7" d="M88 36h4v4h-4zM104 44h4v4h-4zM100 52h4v4h-4z"/><path fill="#c8c8c8" d="M92 36h4v4h-4z"/><path fill="#cacaca" d="M72 40h4v4h-4zM68 56h4v4h-4z"/><path fill="#cbcbcb" d="M76 40h4v4h-4zM84 64h4v4h-4z"/><path fill="#cccccc" d="M72 64h4v4h-4z"/><path fill="#cdcdcd" d="M80 40h4v4h-4zM68 44h4v4h-4z"/><path fill="#cecece" d="M68 52h4v4h-4z"/><path fill="#d0d0d0" d="M100 40h4v4h-4z"/><path fill="#d1d1d1" d="M68 48h4v4h-4z"/><path fill="#d2d2d2" d="M88 60h4v4h-4zM76 64h8v4h-8z"/><path fill="#d6d6d6" d="M84 40h4v4h-4zM100 48h4v4h-4zM96 52h4v4h-4zM72 60h4v4h-4z"/><path fill="#d8d8d8" d="M92 56h4v4h-4z"/><path fill="#dadada" d="M100 44h4v4h-4zM72 56h4v4h-4z"/><path fill="#dcdcdc" d="M96 40h4v4h-4zM72 44h4v4h-4z"/><path fill="#dddddd" d="M88 40h4v4h-4zM76 60h4v4h-4z"/><path fill="#dedede" d="M92 40h4v4h-4zM76 44h4v4h-4z"/><path fill="#dfdfdf" d="M72 52h4v4h-4z"/><path fill="#e0e0e0" d="M80 44h4v4h-4z"/><path fill="#e1e1e1" d="M76 56h4v4h-4zM84 60h4v4h-4z"/><path fill="#e2e2e2" d="M72 48h4v4h-4z"/><path fill="#e3e3e3" d="M80 60h4v4h-4z"/><path fill="#e4e4e4" d="M96 48h4v4h-4z"/><path fill="#e5e5e5" d="M92 52h4v4h-4zM88 56h4v4h-4z"/><path fill="#e6e6e6" d="M84 44h4v4h-4z"/><path fill="#e7e7e7" d="M96 44h4v4h-4zM76 48h4v4h-4zM76 52h4v4h-4z"/><path fill="#e9e9e9" d="M80 56h4v4h-4z"/><path fill="#eaeaea" d="M88 44h4v4h-4z"/><path fill="#ebebeb" d="M92 44h4v4h-4zM80 48h4v4h-4zM84 56h4v4h-4z"/><path fill="#ececec" d="M92 48h4v4h-4zM80 52h4v4h-4z"/><path fill="#eeeeee" d="M84 48h4v4h-4zM88 52h4v4h-4z"/><path fill="#efefef" d="M88 48h4v4h-4zM84 52h4v4h-4z"/></g><path d="M87.4 45.7 83.9 42.9 80.4 38.9 76.9 33.8 73.4 31.6 69.9 30.5 66.4 29.9 62.6 28.8 61.2 23.7 60.5 19.2 61.5 13.5 62.9 8.5 61.2 2.8 60.1 -5.6M80.7 36.1 81.8 31 82.8 25.4 84.2 19.7 84.9 12.4 85.6 6.8 84.6 1.1 84.6 -5.6M91.6 47.4 89.1 52.5 86 58.1 82.8 63.2 79.7 68.8 76.2 74.4 73.7 77.6 71.3 81.2 68.8 84.6 68.5 89.1 69.9 93.6 72 98.1 74.8 101.5 77.6 104.9 81.1 108.9 85.6 113.9M82.5 49.6 79.3 54.1 75.5 58.7 72.3 63.2 70.6 69.1 66.4 73.3 61.9 77.8 57.3 80.7 53.1 86.3 48.9 89.1M66.7 42.9 64.3 49.6 61.5 55.3 58 59.8 53.8 65.4 49.6 69.9 43.3 72.2 40.2 79 41.2 87.4M70.6 45.7 67.1 39.5 62.2 36.7 57.3 35 52.4 31.6 47.2 27.1 41.9 23.1 36.7 21.4 31.5 18M40.2 53.6 38.4 60.9 36 67.7 36.7 75.6 38.4 81.8 38.8 89.1 40.2 93.1 41.9 98.7M40.2 53.6 35.6 54.1 31.5 54.7 27.3 56.4 24.1 59.2 23.1 64.9 25.5 72.2 27.3 79 29.4 84.6M105.9 41.7 104.1 47.4 101.3 52.5 99.2 58.1 97.1 64.3 95.8 69.9 94.4 76.7 93.3 83.5 92.3 91.4 91.2 98.7 89.8 106M114.6 37.2 115.3 42.9 114.3 48.5 112.5 54.1 112.9 60.9 113.9 67.7 112.2 75.6 111.1 83.5 111.5 91.4 110.8 99.3 110.1 107.2M125.1 38.4 124.4 44 123.7 49.6 125.5 57.5 127.6 63.7 128.2 69.9 129.3 76.7 128.2 85.7 127.9 93.1 128.2 100.4 127.6 110 127.2 116.2M127.9 58.1 126.2 64.9 124.1 72.2 122.7 79 121.3 86.3 120.6 93.1 120.2 100.4 118.5 107.2 116 113.9M169.8 87.4 166 82.3 162.1 80.1 158 80.1 153.8 82.3 149.6 87.4 146.8 91.4 144.7 98.1 142.2 106 139.8 115.6M151.3 44.6 149.2 49.6 147.5 56.4 145 63.2 141.9 69.9 139.1 76.1 137 83.5" fill="none" stroke="#2050c8" stroke-width=".45" stroke-opacity=".55"/><path d="M29.7 54.1 33.2 53.6 36.7 53 40.2 51.9 41.2 49.3 45.4 50.8 49.3 50.8 52.4 52.5 55.9 48.5 59.4 46.2 62.9 44 66.4 45.1 68.8 46.2 70.9 47.1 73.7 49.6 76.5 51 80.4 49.6 83.9 47.4 87.4 46 90.9 46.2 93 46 96.1 44 98.9 42.9 103.1 39.2 105.9 41.7 110.1 38.4 113.6 36.7 116.7 35.5 118.8 32.7 121.3 29.9" fill="none" stroke="#2a2ab0" stroke-width=".75" stroke-opacity=".9"/></g></g><g clip-path="url(#mbox)"><path d="M26.9 -22.6 26.6 -8.5 26.2 -2.8 26.7 2.8 27.1 5.6 26.6 9 25.5 12.4 23.8 14.1 22.4 15.8 21.7 18 21 19.2 18.9 22 17.5 23.7 17.1 25.9 15.9 29.9 15.7 31.6 14.3 34.4 14.5 37.2 14 40.6 15 41.7 16.4 42.9 17.8 42.3 18.2 44.6 17.5 46.2 16.4 47.4 15.4 48.5 14 50.8 12.9 53.6 12.9 55.3 13.6 57 13.3 59.8 14.3 61.5 15.4 63.2 17.8 67.1 19.2 70.5 21 74.4 22.4 78.4 23.4 82.3 24.8 87.4 25.9 91.4 27.3 95.3 28.7 98.7 30.1 102.6 30.4 106 31.5 108.9 33.2 112.8 34.9 116.2 36.7 121.3 36.7 126.9M160.7 116.2 160.7 111.7 160.7 107.2 161.1 104.3 162.5 101.5 163.2 99.3 164.6 96.4 166 93.6 167.4 90.2 169.1 88 170.2 86.3 171.9 84.3 173.3 81.8 174.6 79 174.9 76.1 175.1 73.3 175.4 70.5 175.4 68.2 175.1 66 174.7 63.2 174 59.8 173.3 57.5 173 57.2 171.2 56.7 169.1 56.7 167 55.8 165.6 54.1 164.2 51.9 162.5 49.1 160.7 46.8 158.7 45.1 156.2 44.3 153.8 44.6 151.3 44.3 149.2 42.9 146.8 41.7 144.7 41.2 143.3 42.3 142.2 42.9 141.9 40.6 140.8 37.8 138.7 36.7 136.3 34.4 134.2 33.6 132.1 31.9 130.3 31.6 128.9 32.7 128.2 35.5 127.7 38.9 126.7 38.9 127.2 35 127.6 31.6 126.2 29.3 124.4 28.8 122.3 28.8 121.3 26.5 121.3 23.1 120.6 20.9 120.6 18 119.5 15.8 119.2 13.5 118.8 10.2 118.1 5.6 117.1 3.4 115.7 2.3 114.3 0.6 112.9 -1.1 110.1 -3.4 108.3 -4.5 104.8 -5.6 104.8 -22.6M122 29 120.6 30.2 119.3 33.3 118.6 37.2 119.7 37.5 120.4 33.8 121.4 31.3Z" fill="none" stroke="#e9e4d6" stroke-width=".8"/></g><path d="M38.4 0V112.8M76.9 0V112.8M115.3 0V112.8M153.8 0V112.8M0 28.2H192.2M0 56.4H192.2M0 84.6H192.2" stroke="#000" stroke-opacity=".08" stroke-width=".5" fill="none"/><path d="M38.4 0v3M38.4 112.8v-3M76.9 0v3M76.9 112.8v-3M115.3 0v3M115.3 112.8v-3M153.8 0v3M153.8 112.8v-3M0 28.2h3.5M192.2 28.2h-3.5M0 56.4h3.5M192.2 56.4h-3.5M0 84.6h3.5M192.2 84.6h-3.5" stroke="#262626" stroke-opacity=".55" stroke-width=".6" fill="none"/><rect x=".3" y=".3" width="191.6" height="112.2" fill="none" stroke="#262626" stroke-opacity=".35" stroke-width=".6"/><circle cx="118.4" cy="28.6" r="2.3" fill="#c8c8c8"/><circle cx="113.5" cy="33.0" r="2.3" fill="#d7d7d7"/><circle cx="87.2" cy="45.9" r="2.3" fill="#f5f5f5"/><circle cx="98.7" cy="43.4" r="2.3" fill="#f0f0f0"/><circle cx="105.8" cy="42.3" r="2.3" fill="#ebebeb"/><circle cx="114.9" cy="46.6" r="2.3" fill="#d7d7d7"/><circle cx="70.7" cy="47.4" r="2.3" fill="#ebebeb"/><circle cx="93.0" cy="46.3" r="2.3" fill="#f5f5f5"/><circle cx="68.9" cy="55.7" r="2.3" fill="#c3c3c3"/><circle cx="100.9" cy="52.6" r="2.3" fill="#cdcdcd"/><circle cx="76.5" cy="70.8" r="2.3" fill="#ebebeb"/><circle cx="73.7" cy="77.6" r="2.3" fill="#ebebeb"/><circle cx="60.2" cy="84.7" r="2.3" fill="#c3c3c3"/><circle cx="80.5" cy="89.7" r="2.3" fill="#afafaf"/><circle cx="68.5" cy="89.1" r="2.3" fill="#a0a0a0"/><circle cx="91.7" cy="93.1" r="2.3" fill="#b4b4b4"/><circle cx="103.2" cy="89.3" r="2.3" fill="#cdcdcd"/><circle cx="119.5" cy="94.0" r="2.3" fill="#f0f0f0"/><circle cx="102.2" cy="98.9" r="2.3" fill="#bebebe"/><circle cx="85.5" cy="102.3" r="2.3" fill="#d7d7d7"/><circle cx="114.1" cy="105.0" r="2.3" fill="#0a0a0a"/><circle cx="114.1" cy="110.6" r="2.3" fill="#ebebeb"/><g font-size="4.9" fill="#111"><text x="106.9" y="25.9">APS1</text><text x="99.8" y="31.7">APLJ</text><text x="75.8" y="42.8">AMUA</text><text x="90.5" y="41.2">AMPR</text><text x="108.0" y="44.1">PASM</text><text x="117.8" y="48.5">PAAR</text><text x="54.7" y="51.7">AMTE</text><text x="87.2" y="52.4">ITAM</text><text x="51.0" y="57.5">AMCO</text><text x="97.0" y="59.7">PAIT</text><text x="79.9" y="72.5">AMHA</text><text x="77.0" y="79.5">POVE</text><text x="55.4" y="81.4">RIOB</text><text x="75.2" y="86.7">ROJI</text><text x="61.9" y="95.6">ROGM</text><text x="87.0" y="90.2">MTJI</text><text x="106.0" y="91.0">MTCO</text><text x="123.0" y="95.6">MTSF</text><text x="104.9" y="101.0">MTSR</text><text x="79.8" y="109.8">ROCD</text><text x="117.5" y="106.8">MTCN</text><text x="117.1" y="112.6">MTNX</text></g><text class="tt" x="156.4" y="11.2" text-anchor="middle" font-size="7.6" font-weight="bold" fill="#fff">(b) CSR mascon</text></g><rect x="316.3" y="25.0" width="192.2" height="3.9" fill="url(#gbar)" stroke="#d8d8d8" stroke-width=".5"/><path d="M348.3 25.0v1M348.3 28.9v-1M380.4 25.0v1M380.4 28.9v-1M412.4 25.0v1M412.4 28.9v-1M444.4 25.0v1M444.4 28.9v-1M476.5 25.0v1M476.5 28.9v-1" stroke="#666" stroke-width=".5"/><g class="t" font-size="7.5" fill="#141414" text-anchor="middle"><text x="316.3" y="21.3">0.76</text><text x="348.3" y="21.3">0.8</text><text x="380.4" y="21.3">0.84</text><text x="412.4" y="21.3">0.88</text><text x="444.4" y="21.3">0.92</text><text x="476.5" y="21.3">0.96</text><text x="508.5" y="21.3">1</text><text x="412.4" y="11.8">Correlation Coefficient</text><text x="316.3" y="154.3">85° W</text><text x="354.7" y="154.3">74° W</text><text x="393.2" y="154.3">63° W</text><text x="431.6" y="154.3">52° W</text><text x="470.1" y="154.3">41° W</text><text x="508.5" y="154.3">30° W</text></g><g class="t" font-size="7.5" fill="#141414" text-anchor="end"><text x="314.3" y="34.8">5° N</text><text x="314.3" y="63.0">0°</text><text x="314.3" y="91.2">5° S</text><text x="314.3" y="119.4">10° S</text><text x="314.3" y="147.6">15° S</text></g><rect x="520.7" y="32.1" width="4.2" height="112.8" fill="url(#jbar)"/><g class="t" font-size="7.5" fill="#141414"><text x="527.3" y="147.6">0</text><text x="527.3" y="125.0">5</text><text x="527.3" y="102.5">10</text><text x="527.3" y="79.9">15</text><text x="527.3" y="57.4">20</text><text x="527.3" y="34.8">25</text><g transform="translate(544.0 88.5) rotate(-90)"><text text-anchor="middle">Annual Amplitude (mm)</text></g></g><g transform="translate(24.05 194.1)"><rect width="192.2" height="112.8" fill="#6a6a6a"/><g clip-path="url(#mbox)"><g clip-path="url(#land)"><g filter="url(#jet)"><path fill="#000000" d="M184 -8h20v4h-20zM184 -4h20v4h-20zM184 0h20v4h-20zM184 4h20v4h-20zM188 8h16v4h-16zM188 12h16v4h-16zM188 16h16v4h-16zM188 20h16v4h-16zM188 24h16v4h-16zM188 28h16v4h-16zM184 32h20v4h-20zM184 36h20v4h-20zM184 40h20v4h-20zM184 44h20v4h-20zM184 48h20v4h-20zM184 52h20v4h-20zM184 56h20v4h-20zM184 60h20v4h-20zM184 64h20v4h-20zM184 68h20v4h-20zM184 72h20v4h-20zM184 76h20v4h-20zM184 80h20v4h-20zM180 84h24v4h-24zM180 88h24v4h-24zM180 92h24v4h-24zM180 96h24v4h-24zM180 100h24v4h-24zM180 104h24v4h-24zM180 108h24v4h-24zM176 112h28v4h-28zM176 116h28v4h-28zM176 120h28v4h-28z"/><path fill="#010101" d="M184 8h4v4h-4zM184 24h4v4h-4zM184 28h4v4h-4zM180 76h4v4h-4zM180 80h4v4h-4zM176 104h4v4h-4zM176 108h4v4h-4z"/><path fill="#020202" d="M180 -8h4v4h-4zM184 12h4v4h-4zM184 16h4v4h-4zM184 20h4v4h-4zM180 60h4v4h-4zM180 64h4v4h-4zM180 68h4v4h-4zM180 72h4v4h-4zM176 100h4v4h-4z"/><path fill="#030303" d="M180 48h4v4h-4zM180 52h4v4h-4zM180 56h4v4h-4zM176 96h4v4h-4z"/><path fill="#040404" d="M180 -4h4v4h-4zM180 44h4v4h-4zM176 92h4v4h-4zM172 120h4v4h-4z"/><path fill="#050505" d="M180 0h4v4h-4zM180 40h4v4h-4zM176 88h4v4h-4zM172 112h4v4h-4zM172 116h4v4h-4z"/><path fill="#060606" d="M180 4h4v4h-4zM180 36h4v4h-4zM176 84h4v4h-4zM172 108h4v4h-4z"/><path fill="#070707" d="M176 -8h4v4h-4zM180 8h4v4h-4zM180 12h4v4h-4zM180 28h4v4h-4zM180 32h4v4h-4zM176 80h4v4h-4zM172 104h4v4h-4z"/><path fill="#080808" d="M180 16h4v4h-4zM180 20h4v4h-4zM180 24h4v4h-4zM176 68h4v4h-4zM176 72h4v4h-4zM176 76h4v4h-4zM172 100h4v4h-4z"/><path fill="#090909" d="M176 -4h4v4h-4zM176 52h4v4h-4zM176 56h4v4h-4zM176 60h4v4h-4zM176 64h4v4h-4zM172 96h4v4h-4zM168 120h4v4h-4z"/><path fill="#0a0a0a" d="M176 0h4v4h-4zM176 44h4v4h-4zM176 48h4v4h-4zM172 92h4v4h-4zM168 116h4v4h-4z"/><path fill="#0b0b0b" d="M176 40h4v4h-4zM168 112h4v4h-4z"/><path fill="#0c0c0c" d="M172 -8h4v4h-4zM176 4h4v4h-4zM176 36h4v4h-4zM172 88h4v4h-4zM168 108h4v4h-4z"/><path fill="#0d0d0d" d="M176 8h4v4h-4zM176 12h4v4h-4zM176 32h4v4h-4zM172 84h4v4h-4zM168 104h4v4h-4z"/><path fill="#0e0e0e" d="M172 -4h4v4h-4zM176 16h4v4h-4zM176 20h4v4h-4zM176 24h4v4h-4zM176 28h4v4h-4zM172 80h4v4h-4zM168 100h4v4h-4z"/><path fill="#0f0f0f" d="M172 56h4v4h-4zM172 60h4v4h-4zM172 64h4v4h-4zM172 68h4v4h-4zM172 72h4v4h-4zM172 76h4v4h-4zM168 96h4v4h-4zM164 120h4v4h-4z"/><path fill="#101010" d="M172 0h4v4h-4zM172 48h4v4h-4zM172 52h4v4h-4zM164 112h4v4h-4zM164 116h4v4h-4z"/><path fill="#111111" d="M168 -8h4v4h-4zM172 4h4v4h-4zM172 44h4v4h-4zM168 92h4v4h-4zM164 108h4v4h-4z"/><path fill="#121212" d="M172 40h4v4h-4zM168 88h4v4h-4zM164 104h4v4h-4z"/><path fill="#131313" d="M168 -4h4v4h-4zM172 8h4v4h-4zM172 36h4v4h-4z"/><path fill="#141414" d="M172 12h4v4h-4zM172 16h4v4h-4zM172 32h4v4h-4zM168 84h4v4h-4zM164 100h4v4h-4z"/><path fill="#151515" d="M168 0h4v4h-4zM172 20h4v4h-4zM172 24h4v4h-4zM172 28h4v4h-4zM168 80h4v4h-4zM164 96h4v4h-4zM160 116h4v4h-4zM160 120h4v4h-4z"/><path fill="#161616" d="M164 -8h4v4h-4zM168 52h4v4h-4zM168 56h4v4h-4zM168 76h4v4h-4zM160 112h4v4h-4z"/><path fill="#171717" d="M168 4h4v4h-4zM168 48h4v4h-4zM168 60h4v4h-4zM168 64h4v4h-4zM168 68h4v4h-4zM168 72h4v4h-4zM164 92h4v4h-4zM160 108h4v4h-4z"/><path fill="#181818" d="M164 -4h4v4h-4zM168 44h4v4h-4zM24 56h4v4h-4zM28 80h4v4h-4zM160 104h4v4h-4z"/><path fill="#191919" d="M168 8h4v4h-4zM168 40h4v4h-4zM20 56h4v4h-4zM20 60h4v4h-4zM28 84h4v4h-4zM164 88h4v4h-4z"/><path fill="#1a1a1a" d="M164 0h4v4h-4zM168 12h4v4h-4zM28 32h4v4h-4zM24 36h8v4h-8zM168 36h4v4h-4zM24 40h4v4h-4zM20 48h4v4h-4zM20 52h8v4h-8zM24 60h4v4h-4zM20 64h4v4h-4zM28 76h4v4h-4zM160 100h4v4h-4z"/><path fill="#1b1b1b" d="M16 -8h12v4h-12zM160 -8h4v4h-4zM20 -4h8v4h-8zM168 16h4v4h-4zM28 24h4v4h-4zM28 28h8v4h-8zM24 32h4v4h-4zM32 32h4v4h-4zM168 32h4v4h-4zM32 36h4v4h-4zM20 40h4v4h-4zM28 40h4v4h-4zM20 44h8v4h-8zM24 48h4v4h-4zM24 64h4v4h-4zM24 80h4v4h-4zM24 84h4v4h-4zM164 84h4v4h-4zM24 88h8v4h-8zM32 100h4v4h-4zM156 116h4v4h-4zM156 120h4v4h-4z"/><path fill="#1c1c1c" d="M8 -8h8v4h-8zM28 -8h4v4h-4zM12 -4h8v4h-8zM28 -4h4v4h-4zM20 0h12v4h-12zM168 20h4v4h-4zM24 24h4v4h-4zM32 24h4v4h-4zM168 24h4v4h-4zM24 28h4v4h-4zM168 28h4v4h-4zM20 32h4v4h-4zM20 36h4v4h-4zM16 44h4v4h-4zM16 48h4v4h-4zM16 52h4v4h-4zM16 56h4v4h-4zM16 60h4v4h-4zM16 64h4v4h-4zM20 68h8v4h-8zM24 72h4v4h-4zM24 76h4v4h-4zM32 80h4v4h-4zM24 92h8v4h-8zM28 96h4v4h-4zM160 96h4v4h-4zM32 104h4v4h-4zM156 112h4v4h-4z"/><path fill="#1d1d1d" d="M4 -8h4v4h-4zM8 -4h4v4h-4zM160 -4h4v4h-4zM12 0h8v4h-8zM20 4h12v4h-12zM164 4h4v4h-4zM24 20h12v4h-12zM16 36h4v4h-4zM16 40h4v4h-4zM28 44h4v4h-4zM28 56h4v4h-4zM16 68h4v4h-4zM20 72h4v4h-4zM164 80h4v4h-4zM20 88h4v4h-4zM24 96h4v4h-4zM32 96h4v4h-4zM28 100h4v4h-4zM156 108h4v4h-4z"/><path fill="#1e1e1e" d="M-4 -8h8v4h-8zM0 -4h8v4h-8zM32 -4h4v4h-4zM4 0h8v4h-8zM32 0h4v4h-4zM12 4h8v4h-8zM24 8h8v4h-8zM164 8h4v4h-4zM28 12h4v4h-4zM24 16h8v4h-8zM20 20h4v4h-4zM20 24h4v4h-4zM36 24h4v4h-4zM20 28h4v4h-4zM36 28h4v4h-4zM16 32h4v4h-4zM36 32h4v4h-4zM32 40h4v4h-4zM12 44h4v4h-4zM164 48h4v4h-4zM164 52h4v4h-4zM164 56h4v4h-4zM164 60h4v4h-4zM28 72h4v4h-4zM164 76h4v4h-4zM20 84h4v4h-4zM20 92h4v4h-4zM160 92h4v4h-4zM20 96h4v4h-4zM36 100h4v4h-4zM28 104h4v4h-4zM36 104h4v4h-4zM156 104h4v4h-4z"/><path fill="#1f1f1f" d="M-8 -8h4v4h-4zM32 -8h4v4h-4zM156 -8h4v4h-4zM-4 -4h4v4h-4zM0 0h4v4h-4zM4 4h8v4h-8zM32 4h4v4h-4zM12 8h12v4h-12zM16 12h12v4h-12zM20 16h4v4h-4zM32 16h4v4h-4zM36 20h4v4h-4zM16 28h4v4h-4zM12 36h4v4h-4zM12 40h4v4h-4zM164 44h4v4h-4zM12 48h4v4h-4zM12 52h4v4h-4zM12 56h4v4h-4zM12 60h4v4h-4zM12 64h4v4h-4zM164 64h4v4h-4zM164 68h4v4h-4zM16 72h4v4h-4zM164 72h4v4h-4zM20 76h4v4h-4zM20 80h4v4h-4zM32 84h4v4h-4zM24 100h4v4h-4zM156 100h4v4h-4zM28 108h8v4h-8z"/><path fill="#202020" d="M-8 -4h4v4h-4zM-4 0h4v4h-4zM160 0h4v4h-4zM0 4h4v4h-4zM4 8h8v4h-8zM32 8h4v4h-4zM12 12h4v4h-4zM32 12h4v4h-4zM164 12h4v4h-4zM12 16h8v4h-8zM16 20h4v4h-4zM16 24h4v4h-4zM12 32h4v4h-4zM36 36h4v4h-4zM164 40h4v4h-4zM28 48h4v4h-4zM28 52h4v4h-4zM28 60h4v4h-4zM12 68h4v4h-4zM32 76h4v4h-4zM16 84h4v4h-4zM16 88h4v4h-4zM160 88h4v4h-4zM16 92h4v4h-4zM32 92h4v4h-4zM16 96h4v4h-4zM20 100h4v4h-4zM24 104h4v4h-4z"/><path fill="#212121" d="M-8 0h4v4h-4zM-8 4h8v4h-8zM0 8h4v4h-4zM4 12h8v4h-8zM8 16h4v4h-4zM36 16h4v4h-4zM12 20h4v4h-4zM12 24h4v4h-4zM12 28h4v4h-4zM8 32h4v4h-4zM8 36h4v4h-4zM8 40h4v4h-4zM8 44h4v4h-4zM8 48h4v4h-4zM8 52h4v4h-4zM8 60h4v4h-4zM8 64h4v4h-4zM28 68h4v4h-4zM12 72h4v4h-4zM16 76h4v4h-4zM16 80h4v4h-4zM32 88h4v4h-4zM12 92h4v4h-4zM12 96h4v4h-4zM16 100h4v4h-4zM16 104h8v4h-8zM20 108h8v4h-8zM152 120h4v4h-4z"/><path fill="#222222" d="M156 -4h4v4h-4zM160 4h4v4h-4zM-8 8h8v4h-8zM-4 12h8v4h-8zM0 16h8v4h-8zM164 16h4v4h-4zM4 20h8v4h-8zM8 24h4v4h-4zM8 28h4v4h-4zM164 36h4v4h-4zM4 40h4v4h-4zM32 44h4v4h-4zM8 56h4v4h-4zM28 64h4v4h-4zM8 68h4v4h-4zM12 76h4v4h-4zM12 80h4v4h-4zM12 84h4v4h-4zM12 88h4v4h-4zM156 96h4v4h-4zM12 100h4v4h-4zM12 104h4v4h-4zM16 108h4v4h-4zM20 112h12v4h-12zM152 112h4v4h-4zM152 116h4v4h-4z"/><path fill="#232323" d="M152 -8h4v4h-4zM36 -4h4v4h-4zM36 0h4v4h-4zM36 4h4v4h-4zM-8 12h4v4h-4zM36 12h4v4h-4zM-4 16h4v4h-4zM0 20h4v4h-4zM164 20h4v4h-4zM0 24h8v4h-8zM40 24h4v4h-4zM164 24h4v4h-4zM4 28h4v4h-4zM40 28h4v4h-4zM164 28h4v4h-4zM4 32h4v4h-4zM164 32h4v4h-4zM4 36h4v4h-4zM36 40h4v4h-4zM4 44h4v4h-4zM4 48h4v4h-4zM4 52h4v4h-4zM4 56h4v4h-4zM4 60h4v4h-4zM8 72h4v4h-4zM8 76h4v4h-4zM8 84h4v4h-4zM160 84h4v4h-4zM8 88h4v4h-4zM8 92h4v4h-4zM8 96h4v4h-4zM8 100h4v4h-4zM8 104h4v4h-4zM152 104h4v4h-4zM8 108h8v4h-8zM152 108h4v4h-4zM12 112h8v4h-8zM32 112h4v4h-4zM16 116h8v4h-8z"/><path fill="#242424" d="M156 0h4v4h-4zM36 8h4v4h-4zM160 8h4v4h-4zM-8 16h4v4h-4zM-8 20h8v4h-8zM40 20h4v4h-4zM-4 24h4v4h-4zM0 28h4v4h-4zM0 32h4v4h-4zM0 36h4v4h-4zM0 40h4v4h-4zM0 44h4v4h-4zM4 64h4v4h-4zM4 68h4v4h-4zM4 72h4v4h-4zM8 80h4v4h-4zM4 88h4v4h-4zM4 92h4v4h-4zM156 92h4v4h-4zM4 96h4v4h-4zM36 96h4v4h-4zM4 100h4v4h-4zM4 104h4v4h-4zM4 108h4v4h-4zM36 108h4v4h-4zM8 112h4v4h-4zM8 116h8v4h-8zM24 116h4v4h-4z"/><path fill="#252525" d="M36 -8h4v4h-4zM-8 24h4v4h-4zM-8 28h8v4h-8zM-4 32h4v4h-4zM40 32h4v4h-4zM-4 36h4v4h-4zM-4 40h4v4h-4zM0 48h4v4h-4zM0 52h4v4h-4zM0 56h4v4h-4zM0 60h4v4h-4zM0 64h4v4h-4zM0 68h4v4h-4zM4 76h4v4h-4zM4 80h4v4h-4zM160 80h4v4h-4zM4 84h4v4h-4zM0 92h4v4h-4zM0 96h4v4h-4zM0 100h4v4h-4zM152 100h4v4h-4zM0 104h4v4h-4zM0 108h4v4h-4zM0 112h8v4h-8zM4 116h4v4h-4zM28 116h4v4h-4zM8 120h16v4h-16z"/><path fill="#262626" d="M152 -4h4v4h-4zM160 12h4v4h-4zM40 16h4v4h-4zM-8 32h4v4h-4zM-8 36h4v4h-4zM-4 44h4v4h-4zM-4 48h4v4h-4zM160 48h4v4h-4zM-4 52h4v4h-4zM160 52h4v4h-4zM-4 56h4v4h-4zM160 56h4v4h-4zM0 72h4v4h-4zM0 76h4v4h-4zM160 76h4v4h-4zM0 80h4v4h-4zM0 84h4v4h-4zM0 88h4v4h-4zM-4 96h4v4h-4zM-4 100h4v4h-4zM-4 104h4v4h-4zM-4 108h4v4h-4zM-4 112h4v4h-4zM0 116h4v4h-4zM0 120h8v4h-8zM24 120h4v4h-4z"/><path fill="#272727" d="M148 -8h4v4h-4zM156 4h4v4h-4zM40 36h4v4h-4zM-8 40h4v4h-4zM-8 44h4v4h-4zM160 44h4v4h-4zM-8 48h4v4h-4zM-8 52h4v4h-4zM-4 60h4v4h-4zM160 60h4v4h-4zM-4 64h4v4h-4zM160 64h4v4h-4zM-4 68h4v4h-4zM160 68h4v4h-4zM-4 72h4v4h-4zM32 72h4v4h-4zM160 72h4v4h-4zM-4 76h4v4h-4zM-4 80h4v4h-4zM-4 84h4v4h-4zM-4 88h4v4h-4zM156 88h4v4h-4zM-4 92h4v4h-4zM-8 96h4v4h-4zM-8 100h4v4h-4zM-8 104h4v4h-4zM-8 108h4v4h-4zM-8 112h4v4h-4zM-8 116h8v4h-8zM32 116h4v4h-4zM-4 120h4v4h-4zM28 120h4v4h-4z"/><path fill="#282828" d="M40 12h4v4h-4zM160 16h4v4h-4zM160 40h4v4h-4zM32 48h4v4h-4zM-8 56h4v4h-4zM-8 60h4v4h-4zM-8 64h4v4h-4zM-8 68h4v4h-4zM-8 72h4v4h-4zM-8 76h4v4h-4zM-8 80h4v4h-4zM-8 84h4v4h-4zM-8 88h4v4h-4zM-8 92h4v4h-4zM152 96h4v4h-4zM-8 120h4v4h-4zM148 120h4v4h-4z"/><path fill="#292929" d="M152 0h4v4h-4zM44 24h4v4h-4zM36 44h4v4h-4zM36 92h4v4h-4zM36 112h4v4h-4zM148 112h4v4h-4zM148 116h4v4h-4z"/><path fill="#2a2a2a" d="M144 -8h4v4h-4zM148 -4h4v4h-4zM40 4h4v4h-4zM40 8h4v4h-4zM156 8h4v4h-4zM160 20h4v4h-4zM44 28h4v4h-4zM160 36h4v4h-4zM156 84h4v4h-4zM148 104h4v4h-4zM148 108h4v4h-4zM32 120h4v4h-4z"/><path fill="#2b2b2b" d="M40 -4h4v4h-4zM40 0h4v4h-4zM44 20h4v4h-4zM160 24h4v4h-4zM160 28h4v4h-4zM160 32h4v4h-4zM40 40h4v4h-4zM152 92h4v4h-4zM148 100h4v4h-4z"/><path fill="#2c2c2c" d="M40 -8h4v4h-4zM152 4h4v4h-4zM32 68h4v4h-4z"/><path fill="#2d2d2d" d="M148 0h4v4h-4zM156 12h4v4h-4zM44 16h4v4h-4zM44 32h4v4h-4zM32 52h4v4h-4zM156 80h4v4h-4zM36 88h4v4h-4zM36 116h4v4h-4z"/><path fill="#2e2e2e" d="M140 -8h4v4h-4zM144 -4h4v4h-4zM156 52h4v4h-4z"/><path fill="#2f2f2f" d="M152 8h4v4h-4zM44 12h4v4h-4zM156 16h4v4h-4zM156 48h4v4h-4zM32 56h4v4h-4zM156 56h4v4h-4zM32 64h4v4h-4zM156 76h4v4h-4zM152 88h4v4h-4zM148 96h4v4h-4zM36 120h4v4h-4zM144 120h4v4h-4z"/><path fill="#303030" d="M136 -8h4v4h-4zM48 24h4v4h-4zM156 44h4v4h-4zM32 60h4v4h-4zM156 60h4v4h-4zM156 64h4v4h-4zM156 68h4v4h-4zM156 72h4v4h-4zM36 84h4v4h-4zM40 104h4v4h-4zM144 116h4v4h-4z"/><path fill="#313131" d="M140 -4h4v4h-4zM144 0h4v4h-4zM148 4h4v4h-4zM44 8h4v4h-4zM156 20h4v4h-4zM48 28h4v4h-4zM156 40h4v4h-4zM40 44h4v4h-4zM40 100h4v4h-4zM40 108h4v4h-4zM144 112h4v4h-4z"/><path fill="#323232" d="M44 4h4v4h-4zM152 12h4v4h-4zM48 20h4v4h-4zM156 24h4v4h-4zM44 36h4v4h-4zM156 36h4v4h-4zM36 48h4v4h-4zM144 104h4v4h-4zM144 108h4v4h-4z"/><path fill="#333333" d="M132 -8h4v4h-4zM44 0h4v4h-4zM156 28h4v4h-4zM156 32h4v4h-4zM36 80h4v4h-4zM152 84h4v4h-4zM148 92h4v4h-4zM40 96h4v4h-4zM40 112h4v4h-4z"/><path fill="#343434" d="M44 -8h4v4h-4zM44 -4h4v4h-4zM136 -4h4v4h-4zM148 8h4v4h-4zM144 100h4v4h-4z"/><path fill="#353535" d="M84 -8h8v4h-8zM140 0h4v4h-4zM144 4h4v4h-4zM48 16h4v4h-4zM152 16h4v4h-4zM40 116h4v4h-4z"/><path fill="#363636" d="M128 -8h4v4h-4zM36 76h4v4h-4zM152 80h4v4h-4zM40 120h4v4h-4z"/><path fill="#373737" d="M80 -8h4v4h-4zM92 -8h4v4h-4zM88 -4h4v4h-4zM132 -4h4v4h-4zM48 12h4v4h-4zM44 40h4v4h-4zM152 48h4v4h-4zM148 88h4v4h-4zM40 92h4v4h-4zM144 96h4v4h-4zM140 120h4v4h-4z"/><path fill="#383838" d="M124 -8h4v4h-4zM84 -4h4v4h-4zM136 0h4v4h-4zM140 4h4v4h-4zM48 8h4v4h-4zM148 12h4v4h-4zM152 20h4v4h-4zM52 24h4v4h-4zM48 32h4v4h-4zM152 44h4v4h-4zM152 52h4v4h-4zM152 56h4v4h-4zM152 76h4v4h-4zM140 116h4v4h-4z"/><path fill="#393939" d="M76 -8h4v4h-4zM80 -4h4v4h-4zM128 -4h4v4h-4zM48 4h4v4h-4zM144 8h4v4h-4zM52 28h4v4h-4zM152 40h4v4h-4zM152 60h4v4h-4zM152 64h4v4h-4zM36 72h4v4h-4zM152 72h4v4h-4z"/><path fill="#3a3a3a" d="M96 -8h4v4h-4zM120 -8h4v4h-4zM92 -4h4v4h-4zM152 24h4v4h-4zM40 48h4v4h-4zM152 68h4v4h-4zM140 112h4v4h-4z"/><path fill="#3b3b3b" d="M48 -8h4v4h-4zM76 -4h4v4h-4zM48 0h4v4h-4zM132 0h4v4h-4zM148 16h4v4h-4zM52 20h4v4h-4zM152 28h4v4h-4zM152 36h4v4h-4zM148 84h4v4h-4zM144 92h4v4h-4zM140 108h4v4h-4z"/><path fill="#3c3c3c" d="M72 -8h4v4h-4zM116 -8h4v4h-4zM48 -4h4v4h-4zM124 -4h4v4h-4zM88 0h4v4h-4zM136 4h4v4h-4zM140 8h4v4h-4zM144 12h4v4h-4zM152 32h4v4h-4zM36 52h4v4h-4zM36 68h4v4h-4zM140 104h4v4h-4z"/><path fill="#3d3d3d" d="M100 -8h4v4h-4zM112 -8h4v4h-4zM72 -4h4v4h-4zM76 0h12v4h-12zM128 0h4v4h-4zM44 44h4v4h-4zM40 88h4v4h-4zM140 100h4v4h-4z"/><path fill="#3e3e3e" d="M104 -8h8v4h-8zM120 -4h4v4h-4zM64 0h12v4h-12zM92 0h4v4h-4zM52 4h4v4h-4zM60 4h8v4h-8zM132 4h4v4h-4zM52 8h4v4h-4zM48 36h4v4h-4zM36 64h4v4h-4zM44 112h4v4h-4zM44 116h4v4h-4zM44 120h4v4h-4zM136 120h4v4h-4z"/><path fill="#3f3f3f" d="M68 -8h4v4h-4zM68 -4h4v4h-4zM96 -4h4v4h-4zM52 0h4v4h-4zM60 0h4v4h-4zM56 4h4v4h-4zM68 4h4v4h-4zM52 12h4v4h-4zM52 16h4v4h-4zM148 20h4v4h-4zM148 80h4v4h-4zM144 88h4v4h-4z"/><path fill="#404040" d="M52 -8h4v4h-4zM52 -4h4v4h-4zM116 -4h4v4h-4zM56 0h4v4h-4zM124 0h4v4h-4zM72 4h4v4h-4zM136 8h4v4h-4zM140 12h4v4h-4zM144 16h4v4h-4zM148 44h4v4h-4zM148 48h4v4h-4zM44 108h4v4h-4zM136 116h4v4h-4z"/><path fill="#414141" d="M128 4h4v4h-4zM56 8h4v4h-4zM148 24h4v4h-4zM148 52h4v4h-4zM36 60h4v4h-4zM148 76h4v4h-4zM140 96h4v4h-4z"/><path fill="#424242" d="M56 -8h4v4h-4zM64 -8h4v4h-4zM56 -4h4v4h-4zM64 -4h4v4h-4zM112 -4h4v4h-4zM120 0h4v4h-4zM76 4h4v4h-4zM132 8h4v4h-4zM52 32h4v4h-4zM148 40h4v4h-4zM148 56h4v4h-4zM148 60h4v4h-4zM148 72h4v4h-4zM136 112h4v4h-4z"/><path fill="#434343" d="M60 -8h4v4h-4zM60 -4h4v4h-4zM100 -4h4v4h-4zM60 8h4v4h-4zM56 24h4v4h-4zM148 28h4v4h-4zM148 36h4v4h-4zM36 56h4v4h-4zM148 64h4v4h-4zM148 68h4v4h-4zM40 84h4v4h-4zM44 104h4v4h-4z"/><path fill="#444444" d="M104 -4h8v4h-8zM80 4h4v4h-4zM124 4h4v4h-4zM64 8h4v4h-4zM136 12h4v4h-4zM144 20h4v4h-4zM56 28h4v4h-4zM148 32h4v4h-4zM144 84h4v4h-4zM140 92h4v4h-4zM44 96h4v4h-4zM44 100h4v4h-4z"/><path fill="#454545" d="M96 0h4v4h-4zM116 0h4v4h-4zM84 4h4v4h-4zM128 8h4v4h-4zM56 12h4v4h-4zM140 16h4v4h-4zM48 40h4v4h-4zM44 48h4v4h-4zM136 108h4v4h-4zM132 120h4v4h-4z"/><path fill="#464646" d="M88 4h4v4h-4zM68 8h8v4h-8zM132 12h4v4h-4zM40 52h4v4h-4zM44 92h4v4h-4zM48 120h4v4h-4z"/><path fill="#474747" d="M112 0h4v4h-4zM92 4h4v4h-4zM120 4h4v4h-4zM56 20h4v4h-4zM144 44h4v4h-4zM144 48h4v4h-4zM144 80h4v4h-4zM136 104h4v4h-4zM48 116h4v4h-4z"/><path fill="#484848" d="M124 8h4v4h-4zM56 16h4v4h-4zM136 16h4v4h-4zM144 24h4v4h-4zM140 88h4v4h-4zM132 116h4v4h-4z"/><path fill="#494949" d="M100 0h4v4h-4zM108 0h4v4h-4zM76 8h4v4h-4zM128 12h4v4h-4zM140 20h4v4h-4zM144 40h4v4h-4zM144 52h4v4h-4zM48 112h4v4h-4z"/><path fill="#4a4a4a" d="M104 0h4v4h-4zM116 4h4v4h-4zM144 56h4v4h-4zM144 76h4v4h-4zM40 80h4v4h-4zM44 88h4v4h-4zM136 100h4v4h-4z"/><path fill="#4b4b4b" d="M96 4h4v4h-4zM120 8h4v4h-4zM60 12h4v4h-4zM132 16h4v4h-4zM144 28h4v4h-4zM144 60h4v4h-4zM144 64h4v4h-4zM144 68h4v4h-4zM144 72h4v4h-4zM48 108h4v4h-4zM132 112h4v4h-4zM128 120h4v4h-4z"/><path fill="#4c4c4c" d="M124 12h4v4h-4zM136 20h4v4h-4zM52 36h4v4h-4zM144 36h4v4h-4zM40 68h4v4h-4zM40 72h4v4h-4zM140 84h4v4h-4zM136 96h4v4h-4z"/><path fill="#4d4d4d" d="M112 4h4v4h-4zM80 8h4v4h-4zM128 16h4v4h-4zM144 32h4v4h-4zM48 44h4v4h-4zM140 44h4v4h-4zM140 48h4v4h-4zM40 64h4v4h-4zM40 76h4v4h-4zM48 104h4v4h-4zM132 108h4v4h-4zM52 120h4v4h-4z"/><path fill="#4e4e4e" d="M100 4h4v4h-4zM116 8h4v4h-4zM140 24h4v4h-4zM44 52h4v4h-4zM40 56h4v4h-4zM40 60h4v4h-4zM136 92h4v4h-4zM48 100h4v4h-4zM128 116h4v4h-4z"/><path fill="#4f4f4f" d="M104 4h8v4h-8zM64 12h4v4h-4zM120 12h4v4h-4zM132 20h4v4h-4zM140 80h4v4h-4zM52 116h4v4h-4z"/><path fill="#505050" d="M84 8h4v4h-4zM68 12h8v4h-8zM140 40h4v4h-4zM140 52h4v4h-4zM48 96h4v4h-4zM124 120h4v4h-4z"/><path fill="#515151" d="M92 8h4v4h-4zM124 16h4v4h-4zM136 24h4v4h-4zM140 76h4v4h-4zM44 84h4v4h-4zM136 88h4v4h-4zM48 92h4v4h-4zM132 104h4v4h-4zM52 112h4v4h-4zM128 112h4v4h-4z"/><path fill="#525252" d="M88 8h4v4h-4zM96 8h4v4h-4zM112 8h4v4h-4zM76 12h4v4h-4zM128 20h4v4h-4zM140 28h4v4h-4zM140 56h4v4h-4z"/><path fill="#535353" d="M100 8h4v4h-4zM116 12h4v4h-4zM132 24h4v4h-4zM56 32h4v4h-4zM140 60h4v4h-4zM140 72h4v4h-4zM56 120h4v4h-4z"/><path fill="#545454" d="M104 8h8v4h-8zM60 16h4v4h-4zM120 16h4v4h-4zM140 36h4v4h-4zM44 56h4v4h-4zM140 64h4v4h-4zM140 68h4v4h-4zM136 84h4v4h-4zM48 88h4v4h-4zM52 108h4v4h-4zM128 108h4v4h-4zM124 116h4v4h-4zM120 120h4v4h-4z"/><path fill="#555555" d="M124 20h4v4h-4zM128 24h4v4h-4zM140 32h4v4h-4zM136 44h4v4h-4zM48 48h4v4h-4zM136 48h4v4h-4zM132 96h4v4h-4zM132 100h4v4h-4z"/><path fill="#565656" d="M112 12h4v4h-4zM136 28h4v4h-4zM52 40h4v4h-4zM44 60h4v4h-4zM132 92h4v4h-4zM52 104h4v4h-4zM128 104h4v4h-4zM56 116h4v4h-4z"/><path fill="#575757" d="M80 12h4v4h-4zM132 28h4v4h-4zM136 40h4v4h-4zM136 52h4v4h-4zM44 64h4v4h-4zM44 80h4v4h-4zM136 80h4v4h-4zM52 100h4v4h-4zM128 100h4v4h-4zM124 112h4v4h-4zM116 120h4v4h-4z"/><path fill="#585858" d="M116 16h4v4h-4zM128 28h4v4h-4zM48 84h4v4h-4zM120 116h4v4h-4zM60 120h4v4h-4z"/><path fill="#595959" d="M100 12h12v4h-12zM60 20h4v4h-4zM60 24h4v4h-4zM128 32h4v4h-4zM44 68h4v4h-4zM136 76h4v4h-4zM132 88h4v4h-4zM52 96h4v4h-4zM128 96h4v4h-4zM56 112h4v4h-4zM112 120h4v4h-4z"/><path fill="#5a5a5a" d="M96 12h4v4h-4zM124 24h4v4h-4zM60 28h4v4h-4zM132 32h8v4h-8zM136 36h4v4h-4zM136 56h4v4h-4zM44 72h4v4h-4zM136 72h4v4h-4zM44 76h4v4h-4zM52 88h4v4h-4zM52 92h4v4h-4zM124 100h4v4h-4zM124 108h4v4h-4zM108 120h4v4h-4z"/><path fill="#5b5b5b" d="M84 12h4v4h-4zM92 12h4v4h-4zM120 20h4v4h-4zM136 60h4v4h-4zM136 68h4v4h-4zM56 80h4v4h-4zM52 84h4v4h-4zM132 84h4v4h-4zM124 104h4v4h-4zM56 108h4v4h-4zM120 112h4v4h-4zM60 116h4v4h-4zM116 116h4v4h-4zM64 120h4v4h-4zM100 120h8v4h-8z"/><path fill="#5c5c5c" d="M88 12h4v4h-4zM64 16h4v4h-4zM72 16h4v4h-4zM112 16h4v4h-4zM132 36h4v4h-4zM132 40h4v4h-4zM132 44h4v4h-4zM136 64h4v4h-4zM128 92h4v4h-4zM112 116h4v4h-4zM92 120h8v4h-8z"/><path fill="#5d5d5d" d="M68 16h4v4h-4zM128 36h4v4h-4zM132 48h4v4h-4zM48 56h4v4h-4zM124 96h4v4h-4zM56 104h4v4h-4zM104 116h8v4h-8zM68 120h4v4h-4zM88 120h4v4h-4z"/><path fill="#5e5e5e" d="M76 16h4v4h-4zM124 28h4v4h-4zM48 52h4v4h-4zM48 60h4v4h-4zM48 80h8v4h-8zM132 80h4v4h-4zM56 84h4v4h-4zM60 112h4v4h-4zM116 112h4v4h-4zM64 116h4v4h-4zM92 116h12v4h-12zM72 120h16v4h-16z"/><path fill="#5f5f5f" d="M132 52h4v4h-4zM128 88h4v4h-4zM56 100h4v4h-4zM120 108h4v4h-4zM112 112h4v4h-4zM88 116h4v4h-4z"/><path fill="#606060" d="M108 16h4v4h-4zM116 20h4v4h-4zM52 44h4v4h-4zM132 76h4v4h-4zM60 108h4v4h-4zM96 112h16v4h-16zM68 116h4v4h-4zM80 116h8v4h-8z"/><path fill="#616161" d="M124 32h4v4h-4zM56 36h4v4h-4zM48 64h4v4h-4zM48 76h4v4h-4zM56 88h4v4h-4zM124 92h4v4h-4zM56 96h4v4h-4zM60 104h4v4h-4zM120 104h4v4h-4zM116 108h4v4h-4zM64 112h4v4h-4zM88 112h8v4h-8zM72 116h8v4h-8z"/><path fill="#626262" d="M80 16h4v4h-4zM100 16h8v4h-8zM120 24h4v4h-4zM128 40h4v4h-4zM132 56h4v4h-4zM132 72h4v4h-4zM128 84h4v4h-4zM56 92h4v4h-4zM120 100h4v4h-4zM100 108h16v4h-16zM84 112h4v4h-4z"/><path fill="#636363" d="M48 68h4v4h-4zM132 68h4v4h-4zM48 72h4v4h-4zM120 96h4v4h-4zM64 108h4v4h-4zM92 108h8v4h-8zM68 112h16v4h-16z"/><path fill="#646464" d="M96 16h4v4h-4zM132 60h4v4h-4zM132 64h4v4h-4zM52 76h8v4h-8zM124 88h4v4h-4zM60 100h4v4h-4zM64 104h4v4h-4zM116 104h4v4h-4zM84 108h8v4h-8z"/><path fill="#656565" d="M128 44h4v4h-4zM60 80h4v4h-4zM104 104h12v4h-12zM68 108h16v4h-16z"/><path fill="#666666" d="M84 16h4v4h-4zM92 16h4v4h-4zM124 36h4v4h-4zM128 48h4v4h-4zM128 80h4v4h-4zM120 92h4v4h-4zM116 100h4v4h-4zM88 104h16v4h-16z"/><path fill="#676767" d="M88 16h4v4h-4zM112 20h4v4h-4zM52 60h4v4h-4zM60 96h4v4h-4zM116 96h4v4h-4zM64 100h4v4h-4zM112 100h4v4h-4zM68 104h4v4h-4zM80 104h8v4h-8z"/><path fill="#686868" d="M64 20h4v4h-4zM72 20h4v4h-4zM128 52h4v4h-4zM128 76h4v4h-4zM124 84h4v4h-4zM108 100h4v4h-4zM72 104h8v4h-8z"/><path fill="#696969" d="M120 28h4v4h-4zM128 72h4v4h-4zM60 84h4v4h-4zM120 88h4v4h-4zM96 100h12v4h-12z"/><path fill="#6a6a6a" d="M76 20h4v4h-4zM56 40h4v4h-4zM52 56h4v4h-4zM128 68h4v4h-4zM52 72h4v4h-4zM116 92h4v4h-4zM112 96h4v4h-4zM68 100h4v4h-4zM80 100h16v4h-16z"/><path fill="#6b6b6b" d="M68 20h4v4h-4zM116 24h4v4h-4zM52 64h4v4h-4zM60 88h4v4h-4zM60 92h4v4h-4zM72 100h8v4h-8z"/><path fill="#6c6c6c" d="M124 40h4v4h-4zM56 56h4v4h-4zM128 56h4v4h-4zM128 64h4v4h-4zM124 80h4v4h-4zM64 96h4v4h-4zM108 96h4v4h-4z"/><path fill="#6d6d6d" d="M108 20h4v4h-4zM52 48h4v4h-4zM52 68h4v4h-4zM120 84h4v4h-4zM116 88h4v4h-4zM112 92h4v4h-4zM100 96h8v4h-8z"/><path fill="#6e6e6e" d="M128 60h4v4h-4zM124 76h4v4h-4zM80 96h20v4h-20z"/><path fill="#6f6f6f" d="M80 20h4v4h-4zM108 92h4v4h-4zM68 96h4v4h-4zM76 96h4v4h-4z"/><path fill="#707070" d="M96 20h4v4h-4zM124 44h4v4h-4zM124 72h4v4h-4zM60 76h4v4h-4zM120 80h4v4h-4zM112 88h4v4h-4zM72 96h4v4h-4z"/><path fill="#717171" d="M100 20h4v4h-4zM120 32h4v4h-4zM124 48h4v4h-4zM124 68h4v4h-4zM116 84h4v4h-4zM104 92h4v4h-4z"/><path fill="#727272" d="M92 20h4v4h-4zM104 20h4v4h-4zM60 32h4v4h-4zM56 60h4v4h-4zM64 92h4v4h-4zM100 92h4v4h-4z"/><path fill="#737373" d="M72 24h4v4h-4zM112 24h4v4h-4zM56 44h4v4h-4zM124 52h4v4h-4zM56 72h4v4h-4zM120 76h4v4h-4zM108 88h4v4h-4zM80 92h8v4h-8zM96 92h4v4h-4z"/><path fill="#747474" d="M84 20h8v4h-8zM124 64h4v4h-4zM112 84h4v4h-4zM76 92h4v4h-4zM88 92h8v4h-8z"/><path fill="#757575" d="M76 24h4v4h-4zM120 72h4v4h-4zM116 80h4v4h-4zM68 92h8v4h-8z"/><path fill="#767676" d="M64 24h4v4h-4zM116 28h4v4h-4zM64 88h4v4h-4zM104 88h4v4h-4z"/><path fill="#777777" d="M120 36h4v4h-4zM52 52h4v4h-4zM124 60h4v4h-4zM120 68h4v4h-4zM108 84h4v4h-4z"/><path fill="#787878" d="M116 76h4v4h-4zM112 80h4v4h-4zM100 88h4v4h-4z"/><path fill="#797979" d="M124 56h4v4h-4z"/><path fill="#7a7a7a" d="M68 24h4v4h-4zM56 64h4v4h-4zM108 80h4v4h-4zM104 84h4v4h-4zM80 88h8v4h-8zM96 88h4v4h-4z"/><path fill="#7b7b7b" d="M120 40h4v4h-4zM120 52h4v4h-4zM120 64h4v4h-4zM116 72h4v4h-4zM64 84h4v4h-4zM76 88h4v4h-4zM88 88h8v4h-8z"/><path fill="#7c7c7c" d="M108 24h4v4h-4zM56 48h4v4h-4zM56 52h4v4h-4zM56 68h4v4h-4zM112 76h4v4h-4zM68 88h4v4h-4z"/><path fill="#7d7d7d" d="M60 36h4v4h-4zM120 48h4v4h-4zM116 68h4v4h-4zM72 88h4v4h-4z"/><path fill="#7e7e7e" d="M120 44h4v4h-4zM120 56h4v4h-4zM120 60h4v4h-4zM100 84h4v4h-4z"/><path fill="#7f7f7f" d="M80 24h4v4h-4zM96 24h4v4h-4zM112 72h4v4h-4zM108 76h4v4h-4zM104 80h4v4h-4z"/><path fill="#808080" d="M72 28h4v4h-4zM112 28h4v4h-4zM60 40h4v4h-4zM116 64h4v4h-4z"/><path fill="#818181" d="M92 24h4v4h-4zM100 24h4v4h-4zM60 56h4v4h-4zM96 84h4v4h-4z"/><path fill="#828282" d="M104 24h4v4h-4zM116 32h4v4h-4zM60 72h4v4h-4z"/><path fill="#838383" d="M88 24h4v4h-4zM76 28h4v4h-4zM60 44h4v4h-4zM112 68h4v4h-4zM76 84h12v4h-12zM92 84h4v4h-4z"/><path fill="#848484" d="M84 24h4v4h-4zM116 60h4v4h-4zM108 72h4v4h-4zM104 76h4v4h-4zM100 80h4v4h-4zM68 84h4v4h-4zM88 84h4v4h-4z"/><path fill="#858585" d="M60 60h4v4h-4zM72 84h4v4h-4z"/><path fill="#868686" d="M116 56h4v4h-4zM112 64h4v4h-4zM64 80h4v4h-4z"/><path fill="#878787" d="M64 28h4v4h-4zM60 48h4v4h-4zM60 52h4v4h-4z"/><path fill="#888888" d="M108 68h4v4h-4z"/><path fill="#898989" d="M108 28h4v4h-4zM116 36h4v4h-4zM116 52h4v4h-4zM104 72h4v4h-4zM96 80h4v4h-4z"/><path fill="#8a8a8a" d="M68 28h4v4h-4zM112 60h4v4h-4zM100 76h4v4h-4z"/><path fill="#8b8b8b" d="M108 64h4v4h-4z"/><path fill="#8c8c8c" d="M116 40h4v4h-4zM64 76h4v4h-4zM76 80h4v4h-4zM92 80h4v4h-4z"/><path fill="#8d8d8d" d="M112 32h4v4h-4zM116 48h4v4h-4zM104 68h4v4h-4zM72 80h4v4h-4zM80 80h12v4h-12z"/><path fill="#8e8e8e" d="M116 44h4v4h-4zM64 52h4v4h-4zM60 64h4v4h-4zM100 72h4v4h-4zM68 80h4v4h-4z"/><path fill="#8f8f8f" d="M96 28h12v4h-12zM112 56h4v4h-4zM60 68h4v4h-4zM96 76h4v4h-4z"/><path fill="#909090" d="M92 28h4v4h-4zM64 40h4v4h-4zM64 44h4v4h-4zM64 48h4v4h-4zM108 60h4v4h-4zM104 64h4v4h-4z"/><path fill="#919191" d="M80 28h4v4h-4zM64 32h4v4h-4zM64 56h4v4h-4zM100 68h4v4h-4z"/><path fill="#929292" d="M64 72h4v4h-4z"/><path fill="#939393" d="M88 28h4v4h-4zM64 36h4v4h-4zM96 72h4v4h-4zM92 76h4v4h-4z"/><path fill="#949494" d="M84 28h4v4h-4zM108 32h4v4h-4zM64 60h4v4h-4zM100 64h4v4h-4z"/><path fill="#959595" d="M112 36h4v4h-4zM108 56h4v4h-4zM104 60h4v4h-4zM68 76h8v4h-8z"/><path fill="#969696" d="M72 32h4v4h-4zM112 52h4v4h-4zM96 68h4v4h-4zM76 76h4v4h-4zM88 76h4v4h-4z"/><path fill="#979797" d="M68 32h4v4h-4zM84 76h4v4h-4z"/><path fill="#989898" d="M76 32h4v4h-4zM100 60h4v4h-4zM96 64h4v4h-4zM68 72h4v4h-4zM92 72h4v4h-4zM80 76h4v4h-4z"/><path fill="#999999" d="M104 32h4v4h-4zM68 40h4v4h-4zM112 40h4v4h-4zM68 52h4v4h-4zM64 64h4v4h-4zM64 68h8v4h-8z"/><path fill="#9a9a9a" d="M100 32h4v4h-4zM68 56h4v4h-4z"/><path fill="#9b9b9b" d="M96 32h4v4h-4zM68 36h4v4h-4zM68 44h4v4h-4z"/><path fill="#9c9c9c" d="M108 36h4v4h-4zM112 44h4v4h-4zM68 48h4v4h-4zM112 48h4v4h-4zM96 60h4v4h-4zM68 64h4v4h-4zM92 68h4v4h-4z"/><path fill="#9d9d9d" d="M68 60h4v4h-4zM72 72h4v4h-4zM88 72h4v4h-4z"/><path fill="#9e9e9e" d="M80 32h4v4h-4zM92 32h4v4h-4zM104 56h4v4h-4z"/><path fill="#9f9f9f" d="M104 36h4v4h-4zM108 52h4v4h-4zM92 64h4v4h-4z"/><path fill="#a0a0a0" d="M108 40h4v4h-4z"/><path fill="#a1a1a1" d="M88 32h4v4h-4zM72 36h4v4h-4zM72 68h4v4h-4zM76 72h4v4h-4zM84 72h4v4h-4z"/><path fill="#a2a2a2" d="M84 32h4v4h-4zM100 36h4v4h-4zM72 40h4v4h-4zM100 56h4v4h-4z"/><path fill="#a3a3a3" d="M96 56h4v4h-4zM88 68h4v4h-4zM80 72h4v4h-4z"/><path fill="#a4a4a4" d="M104 40h4v4h-4zM108 44h4v4h-4zM92 60h4v4h-4z"/><path fill="#a5a5a5" d="M76 36h4v4h-4zM96 36h4v4h-4zM108 48h4v4h-4z"/><path fill="#a6a6a6" d="M72 44h4v4h-4zM72 64h4v4h-4z"/><path fill="#a8a8a8" d="M100 40h4v4h-4zM104 52h4v4h-4z"/><path fill="#a9a9a9" d="M80 36h4v4h-4zM76 40h4v4h-4zM104 44h4v4h-4zM88 64h4v4h-4z"/><path fill="#aaaaaa" d="M92 36h4v4h-4zM72 48h4v4h-4zM72 60h4v4h-4zM84 68h4v4h-4z"/><path fill="#ababab" d="M104 48h4v4h-4zM72 52h4v4h-4zM72 56h4v4h-4zM76 68h4v4h-4z"/><path fill="#acacac" d="M84 36h4v4h-4z"/><path fill="#adadad" d="M88 36h4v4h-4zM96 40h4v4h-4zM100 44h4v4h-4zM80 68h4v4h-4z"/><path fill="#aeaeae" d="M92 56h4v4h-4z"/><path fill="#afafaf" d="M88 60h4v4h-4z"/><path fill="#b0b0b0" d="M80 40h4v4h-4zM76 44h4v4h-4zM100 48h4v4h-4zM100 52h4v4h-4z"/><path fill="#b1b1b1" d="M84 64h4v4h-4z"/><path fill="#b2b2b2" d="M96 44h4v4h-4zM76 64h4v4h-4z"/><path fill="#b3b3b3" d="M92 40h4v4h-4zM96 52h4v4h-4z"/><path fill="#b5b5b5" d="M84 40h8v4h-8zM76 48h4v4h-4zM96 48h4v4h-4zM76 60h4v4h-4zM80 64h4v4h-4z"/><path fill="#b6b6b6" d="M84 60h4v4h-4z"/><path fill="#b7b7b7" d="M80 44h4v4h-4zM76 52h4v4h-4zM76 56h4v4h-4z"/><path fill="#b8b8b8" d="M92 44h4v4h-4z"/><path fill="#b9b9b9" d="M88 56h4v4h-4zM80 60h4v4h-4z"/><path fill="#bbbbbb" d="M84 44h4v4h-4z"/><path fill="#bcbcbc" d="M88 44h4v4h-4zM80 48h4v4h-4zM80 56h4v4h-4z"/><path fill="#bdbdbd" d="M92 48h4v4h-4zM84 56h4v4h-4z"/><path fill="#bebebe" d="M80 52h4v4h-4z"/><path fill="#c0c0c0" d="M92 52h4v4h-4z"/><path fill="#c1c1c1" d="M84 48h8v4h-8z"/><path fill="#c2c2c2" d="M84 52h4v4h-4z"/><path fill="#c3c3c3" d="M88 52h4v4h-4z"/></g><path d="M87.4 45.7 83.9 42.9 80.4 38.9 76.9 33.8 73.4 31.6 69.9 30.5 66.4 29.9 62.6 28.8 61.2 23.7 60.5 19.2 61.5 13.5 62.9 8.5 61.2 2.8 60.1 -5.6M80.7 36.1 81.8 31 82.8 25.4 84.2 19.7 84.9 12.4 85.6 6.8 84.6 1.1 84.6 -5.6M91.6 47.4 89.1 52.5 86 58.1 82.8 63.2 79.7 68.8 76.2 74.4 73.7 77.6 71.3 81.2 68.8 84.6 68.5 89.1 69.9 93.6 72 98.1 74.8 101.5 77.6 104.9 81.1 108.9 85.6 113.9M82.5 49.6 79.3 54.1 75.5 58.7 72.3 63.2 70.6 69.1 66.4 73.3 61.9 77.8 57.3 80.7 53.1 86.3 48.9 89.1M66.7 42.9 64.3 49.6 61.5 55.3 58 59.8 53.8 65.4 49.6 69.9 43.3 72.2 40.2 79 41.2 87.4M70.6 45.7 67.1 39.5 62.2 36.7 57.3 35 52.4 31.6 47.2 27.1 41.9 23.1 36.7 21.4 31.5 18M40.2 53.6 38.4 60.9 36 67.7 36.7 75.6 38.4 81.8 38.8 89.1 40.2 93.1 41.9 98.7M40.2 53.6 35.6 54.1 31.5 54.7 27.3 56.4 24.1 59.2 23.1 64.9 25.5 72.2 27.3 79 29.4 84.6M105.9 41.7 104.1 47.4 101.3 52.5 99.2 58.1 97.1 64.3 95.8 69.9 94.4 76.7 93.3 83.5 92.3 91.4 91.2 98.7 89.8 106M114.6 37.2 115.3 42.9 114.3 48.5 112.5 54.1 112.9 60.9 113.9 67.7 112.2 75.6 111.1 83.5 111.5 91.4 110.8 99.3 110.1 107.2M125.1 38.4 124.4 44 123.7 49.6 125.5 57.5 127.6 63.7 128.2 69.9 129.3 76.7 128.2 85.7 127.9 93.1 128.2 100.4 127.6 110 127.2 116.2M127.9 58.1 126.2 64.9 124.1 72.2 122.7 79 121.3 86.3 120.6 93.1 120.2 100.4 118.5 107.2 116 113.9M169.8 87.4 166 82.3 162.1 80.1 158 80.1 153.8 82.3 149.6 87.4 146.8 91.4 144.7 98.1 142.2 106 139.8 115.6M151.3 44.6 149.2 49.6 147.5 56.4 145 63.2 141.9 69.9 139.1 76.1 137 83.5" fill="none" stroke="#2050c8" stroke-width=".45" stroke-opacity=".55"/><path d="M29.7 54.1 33.2 53.6 36.7 53 40.2 51.9 41.2 49.3 45.4 50.8 49.3 50.8 52.4 52.5 55.9 48.5 59.4 46.2 62.9 44 66.4 45.1 68.8 46.2 70.9 47.1 73.7 49.6 76.5 51 80.4 49.6 83.9 47.4 87.4 46 90.9 46.2 93 46 96.1 44 98.9 42.9 103.1 39.2 105.9 41.7 110.1 38.4 113.6 36.7 116.7 35.5 118.8 32.7 121.3 29.9" fill="none" stroke="#2a2ab0" stroke-width=".75" stroke-opacity=".9"/></g></g><g clip-path="url(#mbox)"><path d="M26.9 -22.6 26.6 -8.5 26.2 -2.8 26.7 2.8 27.1 5.6 26.6 9 25.5 12.4 23.8 14.1 22.4 15.8 21.7 18 21 19.2 18.9 22 17.5 23.7 17.1 25.9 15.9 29.9 15.7 31.6 14.3 34.4 14.5 37.2 14 40.6 15 41.7 16.4 42.9 17.8 42.3 18.2 44.6 17.5 46.2 16.4 47.4 15.4 48.5 14 50.8 12.9 53.6 12.9 55.3 13.6 57 13.3 59.8 14.3 61.5 15.4 63.2 17.8 67.1 19.2 70.5 21 74.4 22.4 78.4 23.4 82.3 24.8 87.4 25.9 91.4 27.3 95.3 28.7 98.7 30.1 102.6 30.4 106 31.5 108.9 33.2 112.8 34.9 116.2 36.7 121.3 36.7 126.9M160.7 116.2 160.7 111.7 160.7 107.2 161.1 104.3 162.5 101.5 163.2 99.3 164.6 96.4 166 93.6 167.4 90.2 169.1 88 170.2 86.3 171.9 84.3 173.3 81.8 174.6 79 174.9 76.1 175.1 73.3 175.4 70.5 175.4 68.2 175.1 66 174.7 63.2 174 59.8 173.3 57.5 173 57.2 171.2 56.7 169.1 56.7 167 55.8 165.6 54.1 164.2 51.9 162.5 49.1 160.7 46.8 158.7 45.1 156.2 44.3 153.8 44.6 151.3 44.3 149.2 42.9 146.8 41.7 144.7 41.2 143.3 42.3 142.2 42.9 141.9 40.6 140.8 37.8 138.7 36.7 136.3 34.4 134.2 33.6 132.1 31.9 130.3 31.6 128.9 32.7 128.2 35.5 127.7 38.9 126.7 38.9 127.2 35 127.6 31.6 126.2 29.3 124.4 28.8 122.3 28.8 121.3 26.5 121.3 23.1 120.6 20.9 120.6 18 119.5 15.8 119.2 13.5 118.8 10.2 118.1 5.6 117.1 3.4 115.7 2.3 114.3 0.6 112.9 -1.1 110.1 -3.4 108.3 -4.5 104.8 -5.6 104.8 -22.6M122 29 120.6 30.2 119.3 33.3 118.6 37.2 119.7 37.5 120.4 33.8 121.4 31.3Z" fill="none" stroke="#e9e4d6" stroke-width=".8"/></g><path d="M38.4 0V112.8M76.9 0V112.8M115.3 0V112.8M153.8 0V112.8M0 28.2H192.2M0 56.4H192.2M0 84.6H192.2" stroke="#000" stroke-opacity=".08" stroke-width=".5" fill="none"/><path d="M38.4 0v3M38.4 112.8v-3M76.9 0v3M76.9 112.8v-3M115.3 0v3M115.3 112.8v-3M153.8 0v3M153.8 112.8v-3M0 28.2h3.5M192.2 28.2h-3.5M0 56.4h3.5M192.2 56.4h-3.5M0 84.6h3.5M192.2 84.6h-3.5" stroke="#262626" stroke-opacity=".55" stroke-width=".6" fill="none"/><rect x=".3" y=".3" width="191.6" height="112.2" fill="none" stroke="#262626" stroke-opacity=".35" stroke-width=".6"/><circle cx="118.4" cy="28.6" r="2.3" fill="#c8c8c8"/><circle cx="113.5" cy="33.0" r="2.3" fill="#d7d7d7"/><circle cx="87.2" cy="45.9" r="2.3" fill="#f5f5f5"/><circle cx="98.7" cy="43.4" r="2.3" fill="#f0f0f0"/><circle cx="105.8" cy="42.3" r="2.3" fill="#ebebeb"/><circle cx="114.9" cy="46.6" r="2.3" fill="#d7d7d7"/><circle cx="70.7" cy="47.4" r="2.3" fill="#ebebeb"/><circle cx="93.0" cy="46.3" r="2.3" fill="#f5f5f5"/><circle cx="68.9" cy="55.7" r="2.3" fill="#bebebe"/><circle cx="100.9" cy="52.6" r="2.3" fill="#c3c3c3"/><circle cx="76.5" cy="70.8" r="2.3" fill="#ebebeb"/><circle cx="73.7" cy="77.6" r="2.3" fill="#ebebeb"/><circle cx="60.2" cy="84.7" r="2.3" fill="#c3c3c3"/><circle cx="80.5" cy="89.7" r="2.3" fill="#afafaf"/><circle cx="68.5" cy="89.1" r="2.3" fill="#a0a0a0"/><circle cx="91.7" cy="93.1" r="2.3" fill="#b4b4b4"/><circle cx="103.2" cy="89.3" r="2.3" fill="#cdcdcd"/><circle cx="119.5" cy="94.0" r="2.3" fill="#f0f0f0"/><circle cx="102.2" cy="98.9" r="2.3" fill="#c3c3c3"/><circle cx="85.5" cy="102.3" r="2.3" fill="#d7d7d7"/><circle cx="114.1" cy="105.0" r="2.3" fill="#0a0a0a"/><circle cx="114.1" cy="110.6" r="2.3" fill="#ebebeb"/><g font-size="4.9" fill="#111"><text x="106.9" y="25.9">APS1</text><text x="99.8" y="31.7">APLJ</text><text x="75.8" y="42.8">AMUA</text><text x="90.5" y="41.2">AMPR</text><text x="108.0" y="44.1">PASM</text><text x="117.8" y="48.5">PAAR</text><text x="54.7" y="51.7">AMTE</text><text x="87.2" y="52.4">ITAM</text><text x="51.0" y="57.5">AMCO</text><text x="97.0" y="59.7">PAIT</text><text x="79.9" y="72.5">AMHA</text><text x="77.0" y="79.5">POVE</text><text x="55.4" y="81.4">RIOB</text><text x="75.2" y="86.7">ROJI</text><text x="61.9" y="95.6">ROGM</text><text x="87.0" y="90.2">MTJI</text><text x="106.0" y="91.0">MTCO</text><text x="123.0" y="95.6">MTSF</text><text x="104.9" y="101.0">MTSR</text><text x="79.8" y="109.8">ROCD</text><text x="117.5" y="106.8">MTCN</text><text x="117.1" y="112.6">MTNX</text></g><text class="tt" x="156.4" y="11.2" text-anchor="middle" font-size="7.6" font-weight="bold" fill="#fff">(c) GFZ SH</text></g><rect x="24.05" y="187.0" width="192.2" height="3.9" fill="url(#gbar)" stroke="#d8d8d8" stroke-width=".5"/><path d="M56.1 187.0v1M56.1 190.9v-1M88.1 187.0v1M88.1 190.9v-1M120.1 187.0v1M120.1 190.9v-1M152.2 187.0v1M152.2 190.9v-1M184.2 187.0v1M184.2 190.9v-1" stroke="#666" stroke-width=".5"/><g class="t" font-size="7.5" fill="#141414" text-anchor="middle"><text x="24.1" y="183.3">0.76</text><text x="56.1" y="183.3">0.8</text><text x="88.1" y="183.3">0.84</text><text x="120.1" y="183.3">0.88</text><text x="152.2" y="183.3">0.92</text><text x="184.2" y="183.3">0.96</text><text x="216.2" y="183.3">1</text><text x="120.1" y="173.8">Correlation Coefficient</text><text x="24.1" y="316.3">85° W</text><text x="62.5" y="316.3">74° W</text><text x="100.9" y="316.3">63° W</text><text x="139.4" y="316.3">52° W</text><text x="177.8" y="316.3">41° W</text><text x="216.2" y="316.3">30° W</text></g><g class="t" font-size="7.5" fill="#141414" text-anchor="end"><text x="22.1" y="196.8">5° N</text><text x="22.1" y="225.0">0°</text><text x="22.1" y="253.2">5° S</text><text x="22.1" y="281.4">10° S</text><text x="22.1" y="309.6">15° S</text></g><rect x="228.5" y="194.1" width="4.2" height="112.8" fill="url(#jbar)"/><g class="t" font-size="7.5" fill="#141414"><text x="235.1" y="309.6">0</text><text x="235.1" y="287.0">5</text><text x="235.1" y="264.5">10</text><text x="235.1" y="241.9">15</text><text x="235.1" y="219.4">20</text><text x="235.1" y="196.8">25</text><g transform="translate(251.8 250.5) rotate(-90)"><text text-anchor="middle">Annual Amplitude (mm)</text></g></g><g transform="translate(316.3 194.1)"><rect width="192.2" height="112.8" fill="#6a6a6a"/><g clip-path="url(#mbox)"><g clip-path="url(#land)"><g filter="url(#jet)"><path fill="#000000" d="M168 -8h36v4h-36zM168 -4h36v4h-36zM172 0h32v4h-32zM172 4h32v4h-32zM176 8h28v4h-28zM176 12h28v4h-28zM176 16h28v4h-28zM176 20h28v4h-28zM176 24h28v4h-28zM176 28h28v4h-28zM180 32h24v4h-24zM180 36h24v4h-24zM180 40h24v4h-24zM180 44h24v4h-24zM180 48h24v4h-24zM180 52h24v4h-24zM180 56h24v4h-24zM180 60h24v4h-24zM180 64h24v4h-24zM180 68h24v4h-24zM180 72h24v4h-24zM180 76h24v4h-24zM180 80h24v4h-24zM180 84h24v4h-24zM180 88h24v4h-24zM180 92h24v4h-24zM180 96h24v4h-24zM180 100h24v4h-24zM176 104h28v4h-28zM176 108h28v4h-28zM176 112h28v4h-28zM176 116h28v4h-28zM176 120h28v4h-28z"/><path fill="#010101" d="M172 8h4v4h-4zM176 32h4v4h-4zM176 100h4v4h-4z"/><path fill="#020202" d="M172 12h4v4h-4zM176 36h4v4h-4zM176 40h4v4h-4zM176 96h4v4h-4z"/><path fill="#030303" d="M168 0h4v4h-4zM176 44h4v4h-4zM176 92h4v4h-4zM172 120h4v4h-4z"/><path fill="#040404" d="M164 -8h4v4h-4zM172 16h4v4h-4zM176 48h4v4h-4zM176 88h4v4h-4zM172 112h4v4h-4zM172 116h4v4h-4z"/><path fill="#050505" d="M168 4h4v4h-4zM172 20h4v4h-4zM176 84h4v4h-4zM172 108h4v4h-4z"/><path fill="#060606" d="M164 -4h4v4h-4zM176 52h4v4h-4zM176 80h4v4h-4zM172 104h4v4h-4z"/><path fill="#070707" d="M168 8h4v4h-4zM172 24h4v4h-4zM172 28h4v4h-4zM176 56h4v4h-4zM176 60h4v4h-4zM176 76h4v4h-4zM172 100h4v4h-4z"/><path fill="#080808" d="M172 32h4v4h-4zM176 64h4v4h-4zM176 68h4v4h-4zM176 72h4v4h-4zM172 96h4v4h-4z"/><path fill="#090909" d="M160 -8h4v4h-4zM164 0h4v4h-4zM168 12h4v4h-4zM172 36h4v4h-4zM172 92h4v4h-4zM168 120h4v4h-4z"/><path fill="#0a0a0a" d="M172 40h4v4h-4zM168 112h4v4h-4zM168 116h4v4h-4z"/><path fill="#0b0b0b" d="M168 16h4v4h-4zM172 44h4v4h-4zM172 88h4v4h-4zM168 108h4v4h-4z"/><path fill="#0c0c0c" d="M160 -4h4v4h-4zM164 4h4v4h-4zM172 48h4v4h-4zM172 84h4v4h-4zM168 104h4v4h-4z"/><path fill="#0d0d0d" d="M168 20h4v4h-4zM172 52h4v4h-4zM172 80h4v4h-4zM168 100h4v4h-4z"/><path fill="#0e0e0e" d="M164 8h4v4h-4zM168 24h4v4h-4zM168 96h4v4h-4z"/><path fill="#0f0f0f" d="M156 -8h4v4h-4zM160 0h4v4h-4zM168 28h4v4h-4zM172 56h4v4h-4zM172 60h4v4h-4zM172 72h4v4h-4zM172 76h4v4h-4zM164 116h4v4h-4zM164 120h4v4h-4z"/><path fill="#101010" d="M164 12h4v4h-4zM168 32h4v4h-4zM172 64h4v4h-4zM172 68h4v4h-4zM168 92h4v4h-4zM164 112h4v4h-4z"/><path fill="#111111" d="M168 36h4v4h-4zM168 40h4v4h-4zM168 88h4v4h-4zM164 108h4v4h-4z"/><path fill="#121212" d="M156 -4h4v4h-4zM160 4h4v4h-4zM168 44h4v4h-4zM164 104h4v4h-4z"/><path fill="#131313" d="M164 16h4v4h-4zM168 84h4v4h-4zM164 100h4v4h-4z"/><path fill="#141414" d="M152 -8h4v4h-4zM168 48h4v4h-4z"/><path fill="#151515" d="M156 0h4v4h-4zM160 8h4v4h-4zM164 20h4v4h-4zM168 80h4v4h-4zM164 96h4v4h-4zM160 120h4v4h-4z"/><path fill="#161616" d="M164 24h4v4h-4zM168 52h4v4h-4zM168 76h4v4h-4zM164 92h4v4h-4zM160 112h4v4h-4zM160 116h4v4h-4z"/><path fill="#171717" d="M152 -4h4v4h-4zM168 56h4v4h-4zM168 72h4v4h-4zM160 108h4v4h-4z"/><path fill="#181818" d="M156 4h4v4h-4zM160 12h4v4h-4zM164 28h4v4h-4zM164 32h4v4h-4zM24 56h4v4h-4zM168 60h4v4h-4zM168 64h4v4h-4zM168 68h4v4h-4zM28 80h4v4h-4zM164 88h4v4h-4zM160 104h4v4h-4z"/><path fill="#191919" d="M148 -8h4v4h-4zM28 28h8v4h-8zM28 32h8v4h-8zM28 36h8v4h-8zM164 36h4v4h-4zM20 56h4v4h-4zM20 60h4v4h-4zM28 84h4v4h-4zM160 100h4v4h-4z"/><path fill="#1a1a1a" d="M160 16h4v4h-4zM32 20h4v4h-4zM28 24h8v4h-8zM24 32h4v4h-4zM24 36h4v4h-4zM24 40h8v4h-8zM164 40h4v4h-4zM20 52h8v4h-8zM24 60h4v4h-4zM28 76h4v4h-4zM164 84h4v4h-4zM28 88h4v4h-4z"/><path fill="#1b1b1b" d="M28 -4h4v4h-4zM28 0h8v4h-8zM152 0h4v4h-4zM32 16h4v4h-4zM28 20h4v4h-4zM36 24h4v4h-4zM24 28h4v4h-4zM36 28h4v4h-4zM36 32h4v4h-4zM20 36h4v4h-4zM20 40h4v4h-4zM20 44h8v4h-8zM164 44h4v4h-4zM20 48h8v4h-8zM20 64h4v4h-4zM24 80h4v4h-4zM24 84h4v4h-4zM24 88h4v4h-4zM24 92h8v4h-8zM160 96h4v4h-4zM32 100h4v4h-4z"/><path fill="#1c1c1c" d="M24 -8h8v4h-8zM24 -4h4v4h-4zM32 -4h4v4h-4zM24 0h4v4h-4zM28 4h8v4h-8zM32 8h4v4h-4zM156 8h4v4h-4zM32 12h4v4h-4zM28 16h4v4h-4zM24 20h4v4h-4zM36 20h4v4h-4zM24 24h4v4h-4zM20 32h4v4h-4zM36 36h4v4h-4zM32 40h4v4h-4zM16 44h4v4h-4zM16 48h4v4h-4zM164 48h4v4h-4zM16 52h4v4h-4zM16 56h4v4h-4zM16 60h4v4h-4zM16 64h4v4h-4zM24 64h4v4h-4zM20 68h4v4h-4zM24 72h4v4h-4zM24 76h4v4h-4zM32 80h4v4h-4zM164 80h4v4h-4zM28 96h4v4h-4zM32 104h4v4h-4zM156 112h4v4h-4zM156 116h4v4h-4zM156 120h4v4h-4z"/><path fill="#1d1d1d" d="M16 -8h8v4h-8zM32 -8h4v4h-4zM20 -4h4v4h-4zM148 -4h4v4h-4zM24 4h4v4h-4zM28 8h4v4h-4zM28 12h4v4h-4zM24 16h4v4h-4zM36 16h4v4h-4zM160 20h4v4h-4zM20 28h4v4h-4zM16 40h4v4h-4zM28 44h4v4h-4zM28 56h4v4h-4zM24 68h4v4h-4zM20 72h4v4h-4zM20 88h4v4h-4zM20 92h4v4h-4zM160 92h4v4h-4zM24 96h4v4h-4zM32 96h4v4h-4zM28 100h4v4h-4zM156 108h4v4h-4z"/><path fill="#1e1e1e" d="M12 -8h4v4h-4zM144 -8h4v4h-4zM16 -4h4v4h-4zM36 -4h4v4h-4zM20 0h4v4h-4zM36 0h4v4h-4zM36 4h4v4h-4zM152 4h4v4h-4zM24 8h4v4h-4zM36 8h4v4h-4zM24 12h4v4h-4zM36 12h4v4h-4zM20 20h4v4h-4zM20 24h4v4h-4zM16 36h4v4h-4zM164 52h4v4h-4zM16 68h4v4h-4zM28 72h4v4h-4zM164 76h4v4h-4zM20 84h4v4h-4zM20 96h4v4h-4zM36 100h4v4h-4zM36 104h4v4h-4zM156 104h4v4h-4z"/><path fill="#1f1f1f" d="M8 -8h4v4h-4zM12 -4h4v4h-4zM16 0h4v4h-4zM20 4h4v4h-4zM20 8h4v4h-4zM20 12h4v4h-4zM156 12h4v4h-4zM20 16h4v4h-4zM40 24h4v4h-4zM160 24h4v4h-4zM16 32h4v4h-4zM12 40h4v4h-4zM36 40h4v4h-4zM12 44h4v4h-4zM12 48h4v4h-4zM28 48h4v4h-4zM12 52h4v4h-4zM28 52h4v4h-4zM12 56h4v4h-4zM12 60h4v4h-4zM12 64h4v4h-4zM16 72h4v4h-4zM20 76h4v4h-4zM20 80h4v4h-4zM32 84h4v4h-4zM160 88h4v4h-4zM16 92h4v4h-4zM32 92h4v4h-4zM24 100h4v4h-4zM156 100h4v4h-4zM28 104h4v4h-4z"/><path fill="#202020" d="M36 -8h4v4h-4zM8 -4h4v4h-4zM12 0h4v4h-4zM148 0h4v4h-4zM16 4h4v4h-4zM16 8h4v4h-4zM16 20h4v4h-4zM40 20h4v4h-4zM16 24h4v4h-4zM16 28h4v4h-4zM40 28h4v4h-4zM160 28h4v4h-4zM12 36h4v4h-4zM164 56h4v4h-4zM28 60h4v4h-4zM12 68h4v4h-4zM164 72h4v4h-4zM32 76h4v4h-4zM16 84h4v4h-4zM16 88h4v4h-4zM32 88h4v4h-4zM16 96h4v4h-4zM20 100h4v4h-4zM24 104h4v4h-4zM28 108h8v4h-8z"/><path fill="#212121" d="M4 -8h4v4h-4zM4 -4h4v4h-4zM8 0h4v4h-4zM12 4h4v4h-4zM12 8h4v4h-4zM16 12h4v4h-4zM16 16h4v4h-4zM40 16h4v4h-4zM12 28h4v4h-4zM12 32h4v4h-4zM40 32h4v4h-4zM8 40h4v4h-4zM8 44h4v4h-4zM32 44h4v4h-4zM8 48h4v4h-4zM164 60h4v4h-4zM164 64h4v4h-4zM164 68h4v4h-4zM12 72h4v4h-4zM16 76h4v4h-4zM16 80h4v4h-4zM12 92h4v4h-4zM156 96h4v4h-4zM16 100h4v4h-4zM20 104h4v4h-4zM24 108h4v4h-4z"/><path fill="#222222" d="M0 -8h4v4h-4zM140 -8h4v4h-4zM0 -4h4v4h-4zM144 -4h4v4h-4zM4 0h4v4h-4zM8 4h4v4h-4zM8 8h4v4h-4zM152 8h4v4h-4zM12 12h4v4h-4zM40 12h4v4h-4zM12 16h4v4h-4zM156 16h4v4h-4zM12 20h4v4h-4zM12 24h4v4h-4zM8 32h4v4h-4zM160 32h4v4h-4zM8 36h4v4h-4zM160 36h4v4h-4zM160 40h4v4h-4zM8 52h4v4h-4zM8 56h4v4h-4zM8 60h4v4h-4zM8 64h4v4h-4zM28 64h4v4h-4zM8 68h4v4h-4zM28 68h4v4h-4zM12 76h4v4h-4zM12 80h4v4h-4zM12 84h4v4h-4zM160 84h4v4h-4zM12 88h4v4h-4zM12 96h4v4h-4zM12 100h4v4h-4zM16 104h4v4h-4zM20 108h4v4h-4z"/><path fill="#232323" d="M-4 -8h4v4h-4zM-4 -4h4v4h-4zM0 0h4v4h-4zM4 4h4v4h-4zM4 8h4v4h-4zM40 8h4v4h-4zM8 12h4v4h-4zM8 16h4v4h-4zM8 20h4v4h-4zM8 24h4v4h-4zM8 28h4v4h-4zM40 36h4v4h-4zM4 44h4v4h-4zM160 44h4v4h-4zM8 72h4v4h-4zM8 76h4v4h-4zM8 88h4v4h-4zM8 92h4v4h-4zM156 92h4v4h-4zM8 96h4v4h-4zM12 104h4v4h-4zM152 104h4v4h-4zM16 108h4v4h-4zM152 108h4v4h-4zM20 112h12v4h-12zM152 112h4v4h-4zM152 116h4v4h-4zM152 120h4v4h-4z"/><path fill="#242424" d="M-8 -8h4v4h-4zM-4 0h4v4h-4zM40 0h4v4h-4zM0 4h4v4h-4zM40 4h4v4h-4zM148 4h4v4h-4zM0 8h4v4h-4zM4 12h4v4h-4zM4 16h4v4h-4zM4 28h4v4h-4zM4 32h4v4h-4zM4 36h4v4h-4zM4 40h4v4h-4zM4 48h4v4h-4zM4 52h4v4h-4zM4 56h4v4h-4zM4 60h4v4h-4zM4 64h4v4h-4zM4 68h4v4h-4zM8 80h4v4h-4zM160 80h4v4h-4zM8 84h4v4h-4zM36 96h4v4h-4zM8 100h4v4h-4zM152 100h4v4h-4zM8 104h4v4h-4zM12 108h4v4h-4zM16 112h4v4h-4z"/><path fill="#252525" d="M-8 -4h4v4h-4zM40 -4h4v4h-4zM-8 0h4v4h-4zM144 0h4v4h-4zM-4 4h4v4h-4zM0 12h4v4h-4zM0 16h4v4h-4zM4 20h4v4h-4zM156 20h4v4h-4zM4 24h4v4h-4zM0 40h4v4h-4zM0 44h4v4h-4zM0 48h4v4h-4zM160 48h4v4h-4zM4 72h4v4h-4zM4 76h4v4h-4zM4 80h4v4h-4zM4 84h4v4h-4zM4 88h4v4h-4zM4 92h4v4h-4zM4 96h4v4h-4zM4 100h4v4h-4zM4 104h4v4h-4zM8 108h4v4h-4zM36 108h4v4h-4zM12 112h4v4h-4zM32 112h4v4h-4zM20 116h4v4h-4z"/><path fill="#262626" d="M40 -8h4v4h-4zM140 -4h4v4h-4zM-8 4h4v4h-4zM-4 8h4v4h-4zM-4 12h4v4h-4zM152 12h4v4h-4zM0 20h4v4h-4zM44 20h4v4h-4zM0 24h4v4h-4zM44 24h4v4h-4zM0 28h4v4h-4zM0 32h4v4h-4zM0 36h4v4h-4zM36 44h4v4h-4zM0 52h4v4h-4zM0 56h4v4h-4zM0 60h4v4h-4zM0 64h4v4h-4zM0 68h4v4h-4zM0 72h4v4h-4zM0 76h4v4h-4zM160 76h4v4h-4zM0 80h4v4h-4zM0 84h4v4h-4zM0 88h4v4h-4zM156 88h4v4h-4zM0 92h4v4h-4zM0 96h4v4h-4zM0 100h4v4h-4zM4 108h4v4h-4zM8 112h4v4h-4zM12 116h8v4h-8zM24 116h4v4h-4z"/><path fill="#272727" d="M136 -8h4v4h-4zM-8 8h4v4h-4zM-8 12h4v4h-4zM-4 16h4v4h-4zM44 16h4v4h-4zM-4 20h4v4h-4zM-4 24h4v4h-4zM-4 28h4v4h-4zM-4 32h4v4h-4zM-4 36h4v4h-4zM-4 40h4v4h-4zM40 40h4v4h-4zM-4 44h4v4h-4zM-4 48h4v4h-4zM32 48h4v4h-4zM-4 52h4v4h-4zM-4 56h4v4h-4zM-4 60h4v4h-4zM-4 64h4v4h-4zM152 96h4v4h-4zM0 104h4v4h-4zM0 108h4v4h-4zM4 112h4v4h-4zM4 116h8v4h-8zM28 116h4v4h-4zM12 120h8v4h-8z"/><path fill="#282828" d="M148 8h4v4h-4zM44 12h4v4h-4zM-8 16h4v4h-4zM-8 20h4v4h-4zM-8 24h4v4h-4zM156 24h4v4h-4zM-8 28h4v4h-4zM44 28h4v4h-4zM160 52h4v4h-4zM-4 68h4v4h-4zM-4 72h4v4h-4zM32 72h4v4h-4zM160 72h4v4h-4zM-4 76h4v4h-4zM-4 80h4v4h-4zM-4 84h4v4h-4zM-4 88h4v4h-4zM-4 92h4v4h-4zM36 92h4v4h-4zM-4 96h4v4h-4zM-4 100h4v4h-4zM-4 104h4v4h-4zM-4 108h4v4h-4zM0 112h4v4h-4zM0 116h4v4h-4zM4 120h8v4h-8zM20 120h4v4h-4z"/><path fill="#292929" d="M-8 32h4v4h-4zM44 32h4v4h-4zM-8 36h4v4h-4zM-8 40h4v4h-4zM-8 44h4v4h-4zM-8 48h4v4h-4zM-8 52h4v4h-4zM-8 56h4v4h-4zM-8 60h4v4h-4zM-8 64h4v4h-4zM-8 68h4v4h-4zM160 68h4v4h-4zM-8 72h4v4h-4zM-8 76h4v4h-4zM-8 80h4v4h-4zM-8 84h4v4h-4zM156 84h4v4h-4zM-8 88h4v4h-4zM-8 92h4v4h-4zM-8 96h4v4h-4zM-8 100h4v4h-4zM-8 104h4v4h-4zM-8 108h4v4h-4zM-4 112h4v4h-4zM-4 116h4v4h-4zM0 120h4v4h-4zM24 120h4v4h-4z"/><path fill="#2a2a2a" d="M140 0h4v4h-4zM144 4h4v4h-4zM44 8h4v4h-4zM152 16h4v4h-4zM156 28h4v4h-4zM160 56h4v4h-4zM160 60h4v4h-4zM160 64h4v4h-4zM152 92h4v4h-4zM-8 112h4v4h-4zM-8 116h4v4h-4zM32 116h4v4h-4zM-4 120h4v4h-4zM28 120h4v4h-4zM148 120h4v4h-4z"/><path fill="#2b2b2b" d="M132 -8h4v4h-4zM136 -4h4v4h-4zM44 4h4v4h-4zM156 32h4v4h-4zM148 104h4v4h-4zM148 108h4v4h-4zM36 112h4v4h-4zM148 112h4v4h-4zM148 116h4v4h-4zM-8 120h4v4h-4z"/><path fill="#2c2c2c" d="M148 12h4v4h-4zM44 36h4v4h-4zM156 36h4v4h-4zM156 40h4v4h-4zM156 80h4v4h-4zM36 88h4v4h-4zM148 100h4v4h-4z"/><path fill="#2d2d2d" d="M44 0h4v4h-4zM152 20h4v4h-4zM40 44h4v4h-4zM156 44h4v4h-4zM32 52h4v4h-4zM32 68h4v4h-4z"/><path fill="#2e2e2e" d="M44 -8h4v4h-4zM44 -4h4v4h-4zM144 8h4v4h-4zM156 76h4v4h-4zM152 88h4v4h-4zM148 96h4v4h-4zM32 120h4v4h-4z"/><path fill="#2f2f2f" d="M128 -8h4v4h-4zM132 -4h4v4h-4zM136 0h4v4h-4zM140 4h4v4h-4zM48 16h4v4h-4zM48 20h4v4h-4zM156 48h4v4h-4zM32 64h4v4h-4zM36 84h4v4h-4zM36 116h4v4h-4z"/><path fill="#303030" d="M48 12h4v4h-4zM48 24h4v4h-4zM36 48h4v4h-4zM32 56h4v4h-4zM32 60h4v4h-4zM40 100h4v4h-4zM40 104h4v4h-4z"/><path fill="#313131" d="M48 8h4v4h-4zM148 16h4v4h-4zM152 24h4v4h-4zM48 28h4v4h-4zM44 40h4v4h-4zM156 72h4v4h-4zM152 84h4v4h-4z"/><path fill="#323232" d="M156 52h4v4h-4zM156 68h4v4h-4zM148 92h4v4h-4zM40 108h4v4h-4zM144 120h4v4h-4z"/><path fill="#333333" d="M124 -8h4v4h-4zM128 -4h4v4h-4zM132 0h4v4h-4zM136 4h4v4h-4zM140 8h4v4h-4zM144 12h4v4h-4zM156 64h4v4h-4zM36 80h4v4h-4zM40 96h4v4h-4zM144 116h4v4h-4zM36 120h4v4h-4z"/><path fill="#343434" d="M84 -8h8v4h-8zM48 4h4v4h-4zM152 28h4v4h-4zM48 32h4v4h-4zM156 56h4v4h-4zM156 60h4v4h-4zM152 80h4v4h-4zM144 112h4v4h-4z"/><path fill="#353535" d="M80 -8h4v4h-4zM148 20h4v4h-4zM144 104h4v4h-4zM144 108h4v4h-4zM40 112h4v4h-4z"/><path fill="#363636" d="M48 -8h4v4h-4zM76 -8h4v4h-4zM92 -8h4v4h-4zM120 -8h4v4h-4zM152 32h4v4h-4zM36 76h4v4h-4zM148 88h4v4h-4zM144 100h4v4h-4z"/><path fill="#373737" d="M48 -4h4v4h-4zM84 -4h8v4h-8zM124 -4h4v4h-4zM48 0h4v4h-4zM144 16h4v4h-4zM48 36h4v4h-4zM152 36h4v4h-4zM152 40h4v4h-4zM152 76h4v4h-4zM40 92h4v4h-4z"/><path fill="#383838" d="M80 -4h4v4h-4zM128 0h4v4h-4zM132 4h4v4h-4zM136 8h4v4h-4zM52 12h4v4h-4zM140 12h4v4h-4zM44 44h4v4h-4zM152 44h4v4h-4zM40 48h4v4h-4zM144 96h4v4h-4zM40 116h4v4h-4z"/><path fill="#393939" d="M72 -8h4v4h-4zM116 -8h4v4h-4zM76 -4h4v4h-4zM52 8h4v4h-4zM52 16h4v4h-4zM152 48h4v4h-4zM152 72h4v4h-4z"/><path fill="#3a3a3a" d="M96 -8h4v4h-4zM92 -4h4v4h-4zM52 4h4v4h-4zM148 24h4v4h-4zM36 72h4v4h-4zM148 84h4v4h-4z"/><path fill="#3b3b3b" d="M68 -8h4v4h-4zM72 -4h4v4h-4zM120 -4h4v4h-4zM52 20h4v4h-4zM36 52h4v4h-4zM152 52h4v4h-4zM152 68h4v4h-4zM40 120h4v4h-4zM140 120h4v4h-4z"/><path fill="#3c3c3c" d="M52 -8h4v4h-4zM112 -8h4v4h-4zM68 -4h4v4h-4zM124 0h4v4h-4zM128 4h4v4h-4zM132 8h4v4h-4zM52 24h4v4h-4zM52 28h4v4h-4zM52 32h4v4h-4zM152 64h4v4h-4zM40 88h4v4h-4zM144 92h4v4h-4zM140 116h4v4h-4z"/><path fill="#3d3d3d" d="M64 -8h4v4h-4zM100 -8h4v4h-4zM52 0h4v4h-4zM68 0h24v4h-24zM136 12h4v4h-4zM140 16h4v4h-4zM144 20h4v4h-4zM48 40h4v4h-4zM152 56h4v4h-4zM152 60h4v4h-4zM36 68h4v4h-4zM148 80h4v4h-4z"/><path fill="#3e3e3e" d="M56 -8h4v4h-4zM104 -8h8v4h-8zM52 -4h4v4h-4zM64 -4h4v4h-4zM60 0h8v4h-8zM92 0h4v4h-4zM56 4h4v4h-4zM148 28h4v4h-4zM140 112h4v4h-4z"/><path fill="#3f3f3f" d="M60 -8h4v4h-4zM96 -4h4v4h-4zM116 -4h4v4h-4zM56 0h4v4h-4zM60 4h4v4h-4zM56 8h4v4h-4zM144 88h4v4h-4z"/><path fill="#404040" d="M56 -4h8v4h-8zM120 0h4v4h-4zM64 4h8v4h-8zM124 4h4v4h-4zM128 8h4v4h-4zM52 36h4v4h-4zM36 64h4v4h-4zM148 76h4v4h-4zM140 108h4v4h-4z"/><path fill="#414141" d="M112 -4h4v4h-4zM72 4h4v4h-4zM132 12h4v4h-4zM148 32h4v4h-4zM140 104h4v4h-4zM44 108h4v4h-4zM44 112h4v4h-4z"/><path fill="#424242" d="M56 12h4v4h-4zM136 16h4v4h-4zM144 24h4v4h-4zM44 48h4v4h-4zM36 60h4v4h-4zM144 84h4v4h-4zM140 100h4v4h-4zM44 116h4v4h-4z"/><path fill="#434343" d="M100 -4h4v4h-4zM108 -4h4v4h-4zM76 4h4v4h-4zM60 8h4v4h-4zM140 20h4v4h-4zM148 36h4v4h-4zM36 56h4v4h-4zM148 72h4v4h-4zM40 84h4v4h-4zM44 96h4v4h-4zM44 120h4v4h-4zM136 120h4v4h-4z"/><path fill="#444444" d="M104 -4h4v4h-4zM116 0h4v4h-4zM120 4h4v4h-4zM56 32h4v4h-4zM148 40h4v4h-4zM148 44h4v4h-4zM148 48h4v4h-4zM148 68h4v4h-4zM140 96h4v4h-4zM44 100h4v4h-4zM44 104h4v4h-4z"/><path fill="#454545" d="M96 0h4v4h-4zM80 4h4v4h-4zM64 8h4v4h-4zM124 8h4v4h-4zM128 12h4v4h-4zM56 16h4v4h-4zM40 52h4v4h-4zM148 52h4v4h-4zM44 92h4v4h-4zM136 116h4v4h-4z"/><path fill="#464646" d="M84 4h8v4h-8zM68 8h4v4h-4zM148 56h4v4h-4zM148 60h4v4h-4zM148 64h4v4h-4zM144 80h4v4h-4zM140 92h4v4h-4z"/><path fill="#474747" d="M112 0h4v4h-4zM92 4h4v4h-4zM72 8h4v4h-4zM132 16h4v4h-4z"/><path fill="#484848" d="M116 4h4v4h-4zM136 20h4v4h-4zM144 28h4v4h-4zM48 44h4v4h-4zM136 112h4v4h-4z"/><path fill="#494949" d="M100 0h4v4h-4zM108 0h4v4h-4zM120 8h4v4h-4zM140 24h4v4h-4zM52 40h4v4h-4zM144 76h4v4h-4zM140 88h4v4h-4z"/><path fill="#4a4a4a" d="M104 0h4v4h-4zM76 8h4v4h-4zM60 12h4v4h-4zM124 12h4v4h-4zM56 20h4v4h-4zM40 80h4v4h-4zM44 88h4v4h-4zM132 120h4v4h-4z"/><path fill="#4b4b4b" d="M96 4h4v4h-4zM128 16h4v4h-4zM140 84h4v4h-4zM136 108h4v4h-4z"/><path fill="#4c4c4c" d="M112 4h4v4h-4zM132 20h4v4h-4zM56 28h4v4h-4zM144 32h4v4h-4zM56 36h4v4h-4zM144 72h4v4h-4zM48 108h4v4h-4zM48 112h4v4h-4zM48 116h4v4h-4zM48 120h4v4h-4z"/><path fill="#4d4d4d" d="M116 8h4v4h-4zM56 24h4v4h-4zM40 72h4v4h-4zM40 76h4v4h-4zM48 104h4v4h-4z"/><path fill="#4e4e4e" d="M100 4h4v4h-4zM80 8h4v4h-4zM120 12h4v4h-4zM44 52h4v4h-4zM40 68h4v4h-4zM144 68h4v4h-4zM140 80h4v4h-4zM48 100h4v4h-4zM136 104h4v4h-4zM132 116h4v4h-4z"/><path fill="#4f4f4f" d="M108 4h4v4h-4zM64 12h12v4h-12zM136 24h4v4h-4zM144 36h4v4h-4zM40 56h4v4h-4zM40 64h4v4h-4zM144 64h4v4h-4z"/><path fill="#505050" d="M104 4h4v4h-4zM92 8h4v4h-4zM124 16h4v4h-4zM140 28h4v4h-4zM144 40h4v4h-4zM144 44h4v4h-4zM144 48h4v4h-4zM144 52h4v4h-4zM144 56h4v4h-4zM40 60h4v4h-4zM144 60h4v4h-4zM44 84h4v4h-4zM48 96h4v4h-4zM136 100h4v4h-4z"/><path fill="#515151" d="M84 8h8v4h-8zM96 8h4v4h-4zM128 20h4v4h-4zM140 76h4v4h-4zM136 96h4v4h-4zM132 112h4v4h-4zM128 120h4v4h-4z"/><path fill="#525252" d="M112 8h4v4h-4zM116 12h4v4h-4zM132 24h4v4h-4zM48 92h4v4h-4zM136 92h4v4h-4z"/><path fill="#535353" d="M100 8h4v4h-4zM76 12h4v4h-4zM60 16h4v4h-4zM136 88h4v4h-4z"/><path fill="#545454" d="M104 8h4v4h-4zM48 48h4v4h-4zM140 72h4v4h-4zM136 84h4v4h-4zM48 88h4v4h-4z"/><path fill="#555555" d="M108 8h4v4h-4zM120 16h4v4h-4zM52 104h4v4h-4zM132 108h4v4h-4zM128 116h4v4h-4zM52 120h4v4h-4z"/><path fill="#565656" d="M112 12h4v4h-4zM136 28h4v4h-4zM140 32h4v4h-4zM44 56h4v4h-4zM136 80h4v4h-4zM52 108h4v4h-4zM52 112h4v4h-4zM52 116h4v4h-4z"/><path fill="#575757" d="M96 12h4v4h-4zM124 20h4v4h-4zM128 24h4v4h-4zM140 68h4v4h-4zM44 80h4v4h-4zM52 100h4v4h-4zM124 120h4v4h-4z"/><path fill="#585858" d="M80 12h4v4h-4zM92 12h4v4h-4zM100 12h4v4h-4zM60 20h4v4h-4zM48 84h4v4h-4z"/><path fill="#595959" d="M104 12h8v4h-8zM64 16h8v4h-8zM116 16h4v4h-4zM132 28h4v4h-4zM44 60h4v4h-4zM140 64h4v4h-4zM136 76h4v4h-4zM132 104h4v4h-4zM128 112h4v4h-4z"/><path fill="#5a5a5a" d="M88 12h4v4h-4zM72 16h4v4h-4zM140 36h4v4h-4zM52 44h4v4h-4zM48 52h4v4h-4zM140 56h4v4h-4zM140 60h4v4h-4z"/><path fill="#5b5b5b" d="M84 12h4v4h-4zM128 28h4v4h-4zM140 40h4v4h-4zM140 48h4v4h-4zM140 52h4v4h-4zM44 64h4v4h-4zM44 68h4v4h-4zM44 72h4v4h-4zM44 76h4v4h-4zM52 96h4v4h-4zM124 116h4v4h-4z"/><path fill="#5c5c5c" d="M112 16h4v4h-4zM140 44h4v4h-4zM132 88h4v4h-4zM132 92h4v4h-4zM128 108h4v4h-4z"/><path fill="#5d5d5d" d="M76 16h4v4h-4zM136 32h4v4h-4zM48 56h4v4h-4zM136 72h4v4h-4zM48 80h4v4h-4zM56 80h4v4h-4zM52 84h4v4h-4zM132 84h4v4h-4zM52 88h4v4h-4zM52 92h4v4h-4zM132 96h4v4h-4zM132 100h4v4h-4zM56 120h4v4h-4zM120 120h4v4h-4z"/><path fill="#5e5e5e" d="M96 16h4v4h-4zM120 20h4v4h-4zM124 24h4v4h-4zM56 40h4v4h-4zM132 80h4v4h-4z"/><path fill="#5f5f5f" d="M132 32h4v4h-4zM52 80h4v4h-4zM56 104h4v4h-4zM128 104h4v4h-4zM56 108h4v4h-4zM124 112h4v4h-4zM56 116h4v4h-4z"/><path fill="#606060" d="M92 16h4v4h-4zM100 16h4v4h-4zM128 32h4v4h-4zM136 68h4v4h-4zM56 112h4v4h-4z"/><path fill="#616161" d="M108 16h4v4h-4zM48 60h4v4h-4zM132 76h4v4h-4zM128 100h4v4h-4zM120 116h4v4h-4zM116 120h4v4h-4z"/><path fill="#626262" d="M80 16h4v4h-4zM104 16h4v4h-4zM64 20h4v4h-4zM136 36h4v4h-4zM136 64h4v4h-4zM48 76h4v4h-4zM56 84h4v4h-4zM128 96h4v4h-4zM56 100h4v4h-4zM124 108h4v4h-4z"/><path fill="#636363" d="M88 16h4v4h-4zM60 24h4v4h-4zM124 28h4v4h-4zM136 52h4v4h-4zM136 56h4v4h-4zM136 60h4v4h-4zM128 92h4v4h-4z"/><path fill="#646464" d="M84 16h4v4h-4zM68 20h8v4h-8zM136 40h4v4h-4zM136 48h4v4h-4zM48 64h4v4h-4zM52 76h4v4h-4zM128 88h4v4h-4zM124 100h4v4h-4zM124 104h4v4h-4zM60 120h4v4h-4z"/><path fill="#656565" d="M116 20h4v4h-4zM132 36h4v4h-4zM136 44h4v4h-4zM52 56h4v4h-4zM48 72h4v4h-4zM128 84h4v4h-4zM120 112h4v4h-4zM116 116h4v4h-4zM112 120h4v4h-4z"/><path fill="#666666" d="M48 68h4v4h-4zM132 72h4v4h-4zM56 96h4v4h-4zM60 116h4v4h-4z"/><path fill="#676767" d="M76 20h4v4h-4zM56 76h4v4h-4zM128 80h4v4h-4zM124 96h4v4h-4z"/><path fill="#686868" d="M120 24h4v4h-4zM52 52h4v4h-4zM56 88h4v4h-4zM60 108h4v4h-4zM60 112h4v4h-4zM112 116h4v4h-4zM108 120h4v4h-4z"/><path fill="#696969" d="M96 20h4v4h-4zM60 32h4v4h-4zM124 32h4v4h-4zM128 36h4v4h-4zM124 92h4v4h-4zM60 104h4v4h-4zM120 108h4v4h-4zM116 112h4v4h-4zM64 120h4v4h-4z"/><path fill="#6a6a6a" d="M132 40h4v4h-4zM52 48h4v4h-4zM52 60h4v4h-4zM132 68h4v4h-4zM128 76h4v4h-4zM56 92h4v4h-4z"/><path fill="#6b6b6b" d="M80 20h4v4h-4zM132 52h4v4h-4zM60 80h4v4h-4zM64 104h4v4h-4zM108 116h4v4h-4zM104 120h4v4h-4z"/><path fill="#6c6c6c" d="M92 20h4v4h-4zM112 20h4v4h-4zM60 28h4v4h-4zM132 44h4v4h-4zM132 48h4v4h-4zM132 56h4v4h-4zM124 88h4v4h-4zM60 100h4v4h-4zM120 104h4v4h-4zM64 108h4v4h-4zM64 116h4v4h-4z"/><path fill="#6d6d6d" d="M100 20h4v4h-4zM56 44h4v4h-4zM132 60h4v4h-4zM132 64h4v4h-4zM52 72h4v4h-4zM120 100h4v4h-4zM64 112h4v4h-4zM112 112h4v4h-4zM68 120h4v4h-4zM100 120h4v4h-4z"/><path fill="#6e6e6e" d="M124 84h4v4h-4zM116 108h4v4h-4zM104 116h4v4h-4z"/><path fill="#6f6f6f" d="M84 20h8v4h-8zM52 64h4v4h-4zM120 96h4v4h-4zM64 100h4v4h-4zM108 112h4v4h-4zM68 116h4v4h-4zM72 120h4v4h-4zM96 120h4v4h-4z"/><path fill="#707070" d="M64 24h4v4h-4zM72 24h4v4h-4zM128 72h4v4h-4zM124 80h4v4h-4zM68 108h4v4h-4zM68 112h4v4h-4z"/><path fill="#717171" d="M108 20h4v4h-4zM68 24h4v4h-4zM120 28h4v4h-4zM52 68h4v4h-4zM120 92h4v4h-4zM68 104h4v4h-4zM112 108h4v4h-4zM72 116h4v4h-4zM100 116h4v4h-4zM76 120h4v4h-4zM92 120h4v4h-4z"/><path fill="#727272" d="M104 20h4v4h-4zM128 40h4v4h-4zM56 56h4v4h-4zM60 96h4v4h-4zM116 104h4v4h-4zM104 112h4v4h-4zM80 120h12v4h-12z"/><path fill="#737373" d="M124 76h4v4h-4zM60 84h4v4h-4zM72 112h4v4h-4zM76 116h4v4h-4zM96 116h4v4h-4z"/><path fill="#747474" d="M116 24h4v4h-4zM124 36h4v4h-4zM56 52h4v4h-4zM128 52h4v4h-4zM120 88h4v4h-4zM72 108h4v4h-4zM108 108h4v4h-4zM100 112h4v4h-4zM92 116h4v4h-4z"/><path fill="#757575" d="M128 48h4v4h-4zM128 68h4v4h-4zM116 100h4v4h-4zM80 116h4v4h-4z"/><path fill="#767676" d="M128 44h4v4h-4zM68 100h4v4h-4zM72 104h4v4h-4zM112 104h4v4h-4zM104 108h4v4h-4zM76 112h4v4h-4zM96 112h4v4h-4zM84 116h8v4h-8z"/><path fill="#777777" d="M76 24h4v4h-4zM128 56h4v4h-4zM128 64h4v4h-4zM60 76h4v4h-4zM120 84h4v4h-4zM116 96h4v4h-4z"/><path fill="#787878" d="M56 60h4v4h-4zM128 60h4v4h-4zM56 72h4v4h-4zM120 80h4v4h-4zM60 88h4v4h-4zM60 92h4v4h-4zM76 108h4v4h-4zM100 108h4v4h-4zM80 112h4v4h-4zM92 112h4v4h-4z"/><path fill="#797979" d="M124 72h4v4h-4zM120 76h4v4h-4zM116 92h4v4h-4zM64 96h4v4h-4zM108 104h4v4h-4zM84 112h8v4h-8z"/><path fill="#7a7a7a" d="M112 100h4v4h-4zM96 108h4v4h-4z"/><path fill="#7b7b7b" d="M120 32h4v4h-4zM60 36h4v4h-4zM72 100h4v4h-4zM76 104h4v4h-4zM104 104h4v4h-4zM80 108h4v4h-4z"/><path fill="#7c7c7c" d="M116 88h4v4h-4zM112 96h4v4h-4zM84 108h12v4h-12z"/><path fill="#7d7d7d" d="M96 24h4v4h-4zM56 48h4v4h-4zM108 100h4v4h-4zM100 104h4v4h-4z"/><path fill="#7e7e7e" d="M92 24h4v4h-4zM124 52h4v4h-4zM56 64h4v4h-4zM124 68h4v4h-4zM120 72h4v4h-4zM116 76h4v4h-4zM80 104h4v4h-4zM96 104h4v4h-4z"/><path fill="#7f7f7f" d="M112 24h4v4h-4zM112 92h4v4h-4zM68 96h4v4h-4zM92 104h4v4h-4z"/><path fill="#808080" d="M80 24h4v4h-4zM124 40h4v4h-4zM124 64h4v4h-4zM116 84h4v4h-4zM76 100h4v4h-4zM104 100h4v4h-4zM84 104h8v4h-8z"/><path fill="#818181" d="M88 24h4v4h-4zM72 28h4v4h-4zM116 28h4v4h-4zM124 48h4v4h-4zM124 60h4v4h-4zM56 68h4v4h-4zM108 96h4v4h-4zM100 100h4v4h-4z"/><path fill="#828282" d="M84 24h4v4h-4zM100 24h4v4h-4zM68 28h4v4h-4zM124 56h4v4h-4zM116 80h4v4h-4zM64 92h4v4h-4zM80 100h4v4h-4z"/><path fill="#838383" d="M64 28h4v4h-4zM116 72h4v4h-4zM112 88h4v4h-4zM72 96h4v4h-4zM96 100h4v4h-4z"/><path fill="#848484" d="M108 24h4v4h-4zM124 44h4v4h-4zM120 68h4v4h-4zM108 92h4v4h-4zM104 96h4v4h-4zM84 100h4v4h-4zM92 100h4v4h-4z"/><path fill="#858585" d="M120 52h4v4h-4zM88 100h4v4h-4z"/><path fill="#868686" d="M104 24h4v4h-4zM120 56h4v4h-4zM120 64h4v4h-4zM76 96h4v4h-4zM100 96h4v4h-4z"/><path fill="#878787" d="M120 60h4v4h-4z"/><path fill="#888888" d="M120 36h4v4h-4zM116 68h4v4h-4zM112 84h4v4h-4zM64 88h4v4h-4zM108 88h4v4h-4zM68 92h4v4h-4zM104 92h4v4h-4zM80 96h4v4h-4zM96 96h4v4h-4z"/><path fill="#898989" d="M112 76h4v4h-4zM84 96h12v4h-12z"/><path fill="#8a8a8a" d="M112 80h4v4h-4z"/><path fill="#8b8b8b" d="M116 32h4v4h-4zM60 52h4v4h-4zM60 60h4v4h-4zM116 64h4v4h-4zM112 72h4v4h-4zM64 84h4v4h-4zM72 92h4v4h-4zM100 92h4v4h-4z"/><path fill="#8c8c8c" d="M76 28h4v4h-4zM60 40h4v4h-4zM60 72h4v4h-4zM76 92h4v4h-4z"/><path fill="#8d8d8d" d="M116 60h4v4h-4zM108 84h4v4h-4zM104 88h4v4h-4zM80 92h4v4h-4zM96 92h4v4h-4z"/><path fill="#8e8e8e" d="M112 28h4v4h-4zM112 68h4v4h-4zM84 92h12v4h-12z"/><path fill="#8f8f8f" d="M116 56h4v4h-4zM108 80h4v4h-4zM68 88h4v4h-4z"/><path fill="#909090" d="M120 48h4v4h-4zM60 56h4v4h-4zM60 64h4v4h-4zM112 64h4v4h-4zM108 72h4v4h-4zM108 76h4v4h-4zM104 84h4v4h-4zM100 88h4v4h-4z"/><path fill="#919191" d="M76 88h12v4h-12z"/><path fill="#929292" d="M108 28h4v4h-4zM60 44h4v4h-4zM112 60h4v4h-4zM108 68h4v4h-4zM72 88h4v4h-4zM88 88h4v4h-4zM96 88h4v4h-4z"/><path fill="#939393" d="M108 64h4v4h-4zM104 72h4v4h-4zM104 76h4v4h-4zM64 80h4v4h-4zM104 80h4v4h-4zM100 84h4v4h-4zM92 88h4v4h-4z"/><path fill="#949494" d="M120 40h4v4h-4zM116 52h4v4h-4zM104 68h4v4h-4zM80 84h8v4h-8z"/><path fill="#959595" d="M80 80h8v4h-8zM100 80h4v4h-4zM76 84h4v4h-4zM88 84h4v4h-4zM96 84h4v4h-4z"/><path fill="#969696" d="M60 48h4v4h-4zM108 60h4v4h-4zM104 64h4v4h-4zM60 68h4v4h-4zM100 72h4v4h-4zM64 76h4v4h-4zM100 76h4v4h-4zM68 84h8v4h-8zM92 84h4v4h-4z"/><path fill="#979797" d="M88 28h8v4h-8zM112 32h4v4h-4zM100 68h4v4h-4zM84 76h8v4h-8zM76 80h4v4h-4zM88 80h4v4h-4zM96 80h4v4h-4z"/><path fill="#989898" d="M96 28h4v4h-4zM64 32h4v4h-4zM120 44h4v4h-4zM112 56h4v4h-4zM96 72h4v4h-4zM80 76h4v4h-4zM96 76h4v4h-4z"/><path fill="#999999" d="M84 28h4v4h-4zM104 28h4v4h-4zM68 32h4v4h-4zM64 72h4v4h-4zM92 76h4v4h-4zM92 80h4v4h-4z"/><path fill="#9a9a9a" d="M88 72h8v4h-8zM72 80h4v4h-4z"/><path fill="#9b9b9b" d="M80 28h4v4h-4zM108 32h4v4h-4zM116 36h4v4h-4zM104 60h4v4h-4zM76 76h4v4h-4zM68 80h4v4h-4z"/><path fill="#9c9c9c" d="M100 28h4v4h-4zM108 56h4v4h-4zM100 64h4v4h-4zM96 68h4v4h-4zM68 72h4v4h-4zM84 72h4v4h-4zM72 76h4v4h-4z"/><path fill="#9d9d9d" d="M68 76h4v4h-4z"/><path fill="#a0a0a0" d="M116 48h4v4h-4z"/><path fill="#a1a1a1" d="M64 60h4v4h-4zM64 68h4v4h-4zM92 68h4v4h-4zM80 72h4v4h-4z"/><path fill="#a2a2a2" d="M112 52h4v4h-4zM64 64h4v4h-4z"/><path fill="#a3a3a3" d="M76 32h4v4h-4zM72 72h4v4h-4z"/><path fill="#a4a4a4" d="M72 32h4v4h-4zM104 56h4v4h-4zM96 64h4v4h-4z"/><path fill="#a5a5a5" d="M76 72h4v4h-4z"/><path fill="#a6a6a6" d="M68 68h4v4h-4zM88 68h4v4h-4z"/><path fill="#a7a7a7" d="M116 40h4v4h-4z"/><path fill="#a9a9a9" d="M112 36h4v4h-4zM116 44h4v4h-4zM100 60h4v4h-4z"/><path fill="#ababab" d="M84 32h4v4h-4zM108 52h4v4h-4z"/><path fill="#acacac" d="M80 32h4v4h-4z"/><path fill="#adadad" d="M112 48h4v4h-4zM84 68h4v4h-4z"/><path fill="#aeaeae" d="M88 32h4v4h-4z"/><path fill="#b1b1b1" d="M104 32h4v4h-4zM92 64h4v4h-4z"/><path fill="#b2b2b2" d="M92 32h8v4h-8z"/><path fill="#b3b3b3" d="M112 40h4v4h-4z"/><path fill="#b5b5b5" d="M64 36h4v4h-4zM112 44h4v4h-4zM108 48h4v4h-4zM64 56h4v4h-4z"/><path fill="#b6b6b6" d="M80 68h4v4h-4z"/><path fill="#b7b7b7" d="M100 56h4v4h-4zM72 68h4v4h-4z"/><path fill="#b8b8b8" d="M96 60h4v4h-4z"/><path fill="#b9b9b9" d="M68 36h4v4h-4zM108 36h4v4h-4zM104 52h4v4h-4z"/><path fill="#bababa" d="M76 68h4v4h-4z"/><path fill="#bbbbbb" d="M68 64h4v4h-4z"/><path fill="#bcbcbc" d="M100 32h4v4h-4zM68 60h4v4h-4z"/><path fill="#bebebe" d="M88 64h4v4h-4z"/><path fill="#bfbfbf" d="M64 52h4v4h-4z"/><path fill="#c0c0c0" d="M108 44h4v4h-4z"/><path fill="#c1c1c1" d="M64 40h4v4h-4zM108 40h4v4h-4z"/><path fill="#c4c4c4" d="M104 48h4v4h-4z"/><path fill="#c5c5c5" d="M84 36h4v4h-4z"/><path fill="#c6c6c6" d="M64 48h4v4h-4z"/><path fill="#c7c7c7" d="M80 36h4v4h-4zM92 60h4v4h-4z"/><path fill="#c9c9c9" d="M88 36h4v4h-4zM64 44h4v4h-4z"/><path fill="#cacaca" d="M76 36h4v4h-4zM100 52h4v4h-4zM84 64h4v4h-4z"/><path fill="#cccccc" d="M68 56h4v4h-4z"/><path fill="#cdcdcd" d="M92 36h8v4h-8z"/><path fill="#cecece" d="M104 44h4v4h-4z"/><path fill="#cfcfcf" d="M104 36h4v4h-4zM96 56h4v4h-4z"/><path fill="#d0d0d0" d="M104 40h4v4h-4z"/><path fill="#d2d2d2" d="M72 64h4v4h-4z"/><path fill="#d4d4d4" d="M100 36h4v4h-4z"/><path fill="#d5d5d5" d="M80 64h4v4h-4z"/><path fill="#d6d6d6" d="M88 60h4v4h-4z"/><path fill="#d7d7d7" d="M68 40h4v4h-4zM76 64h4v4h-4z"/><path fill="#d8d8d8" d="M72 36h4v4h-4zM100 40h4v4h-4z"/><path fill="#d9d9d9" d="M72 60h4v4h-4z"/><path fill="#dadada" d="M100 48h4v4h-4z"/><path fill="#dddddd" d="M92 56h4v4h-4z"/><path fill="#dedede" d="M100 44h4v4h-4z"/><path fill="#dfdfdf" d="M96 52h4v4h-4zM72 56h4v4h-4z"/><path fill="#e0e0e0" d="M68 52h4v4h-4z"/><path fill="#e1e1e1" d="M96 40h4v4h-4zM84 60h4v4h-4z"/><path fill="#e3e3e3" d="M68 48h4v4h-4z"/><path fill="#e5e5e5" d="M84 40h8v4h-8zM68 44h4v4h-4z"/><path fill="#e6e6e6" d="M80 40h4v4h-4zM92 40h4v4h-4z"/><path fill="#e7e7e7" d="M76 60h4v4h-4z"/><path fill="#e8e8e8" d="M72 40h4v4h-4zM88 56h4v4h-4zM80 60h4v4h-4z"/><path fill="#e9e9e9" d="M76 40h4v4h-4z"/><path fill="#eaeaea" d="M96 48h4v4h-4z"/><path fill="#ebebeb" d="M96 44h4v4h-4zM92 52h4v4h-4z"/><path fill="#ededed" d="M72 52h4v4h-4zM76 56h4v4h-4z"/><path fill="#efefef" d="M84 56h4v4h-4z"/><path fill="#f2f2f2" d="M72 44h4v4h-4zM76 52h4v4h-4zM88 52h4v4h-4zM80 56h4v4h-4z"/><path fill="#f3f3f3" d="M72 48h4v4h-4z"/><path fill="#f4f4f4" d="M92 48h4v4h-4z"/><path fill="#f5f5f5" d="M92 44h4v4h-4z"/><path fill="#f6f6f6" d="M80 52h8v4h-8z"/><path fill="#f7f7f7" d="M76 44h4v4h-4zM76 48h4v4h-4z"/><path fill="#f8f8f8" d="M80 44h4v4h-4zM88 44h4v4h-4zM88 48h4v4h-4z"/><path fill="#f9f9f9" d="M84 44h4v4h-4zM80 48h4v4h-4z"/><path fill="#fbfbfb" d="M84 48h4v4h-4z"/></g><path d="M87.4 45.7 83.9 42.9 80.4 38.9 76.9 33.8 73.4 31.6 69.9 30.5 66.4 29.9 62.6 28.8 61.2 23.7 60.5 19.2 61.5 13.5 62.9 8.5 61.2 2.8 60.1 -5.6M80.7 36.1 81.8 31 82.8 25.4 84.2 19.7 84.9 12.4 85.6 6.8 84.6 1.1 84.6 -5.6M91.6 47.4 89.1 52.5 86 58.1 82.8 63.2 79.7 68.8 76.2 74.4 73.7 77.6 71.3 81.2 68.8 84.6 68.5 89.1 69.9 93.6 72 98.1 74.8 101.5 77.6 104.9 81.1 108.9 85.6 113.9M82.5 49.6 79.3 54.1 75.5 58.7 72.3 63.2 70.6 69.1 66.4 73.3 61.9 77.8 57.3 80.7 53.1 86.3 48.9 89.1M66.7 42.9 64.3 49.6 61.5 55.3 58 59.8 53.8 65.4 49.6 69.9 43.3 72.2 40.2 79 41.2 87.4M70.6 45.7 67.1 39.5 62.2 36.7 57.3 35 52.4 31.6 47.2 27.1 41.9 23.1 36.7 21.4 31.5 18M40.2 53.6 38.4 60.9 36 67.7 36.7 75.6 38.4 81.8 38.8 89.1 40.2 93.1 41.9 98.7M40.2 53.6 35.6 54.1 31.5 54.7 27.3 56.4 24.1 59.2 23.1 64.9 25.5 72.2 27.3 79 29.4 84.6M105.9 41.7 104.1 47.4 101.3 52.5 99.2 58.1 97.1 64.3 95.8 69.9 94.4 76.7 93.3 83.5 92.3 91.4 91.2 98.7 89.8 106M114.6 37.2 115.3 42.9 114.3 48.5 112.5 54.1 112.9 60.9 113.9 67.7 112.2 75.6 111.1 83.5 111.5 91.4 110.8 99.3 110.1 107.2M125.1 38.4 124.4 44 123.7 49.6 125.5 57.5 127.6 63.7 128.2 69.9 129.3 76.7 128.2 85.7 127.9 93.1 128.2 100.4 127.6 110 127.2 116.2M127.9 58.1 126.2 64.9 124.1 72.2 122.7 79 121.3 86.3 120.6 93.1 120.2 100.4 118.5 107.2 116 113.9M169.8 87.4 166 82.3 162.1 80.1 158 80.1 153.8 82.3 149.6 87.4 146.8 91.4 144.7 98.1 142.2 106 139.8 115.6M151.3 44.6 149.2 49.6 147.5 56.4 145 63.2 141.9 69.9 139.1 76.1 137 83.5" fill="none" stroke="#2050c8" stroke-width=".45" stroke-opacity=".55"/><path d="M29.7 54.1 33.2 53.6 36.7 53 40.2 51.9 41.2 49.3 45.4 50.8 49.3 50.8 52.4 52.5 55.9 48.5 59.4 46.2 62.9 44 66.4 45.1 68.8 46.2 70.9 47.1 73.7 49.6 76.5 51 80.4 49.6 83.9 47.4 87.4 46 90.9 46.2 93 46 96.1 44 98.9 42.9 103.1 39.2 105.9 41.7 110.1 38.4 113.6 36.7 116.7 35.5 118.8 32.7 121.3 29.9" fill="none" stroke="#2a2ab0" stroke-width=".75" stroke-opacity=".9"/></g></g><g clip-path="url(#mbox)"><path d="M26.9 -22.6 26.6 -8.5 26.2 -2.8 26.7 2.8 27.1 5.6 26.6 9 25.5 12.4 23.8 14.1 22.4 15.8 21.7 18 21 19.2 18.9 22 17.5 23.7 17.1 25.9 15.9 29.9 15.7 31.6 14.3 34.4 14.5 37.2 14 40.6 15 41.7 16.4 42.9 17.8 42.3 18.2 44.6 17.5 46.2 16.4 47.4 15.4 48.5 14 50.8 12.9 53.6 12.9 55.3 13.6 57 13.3 59.8 14.3 61.5 15.4 63.2 17.8 67.1 19.2 70.5 21 74.4 22.4 78.4 23.4 82.3 24.8 87.4 25.9 91.4 27.3 95.3 28.7 98.7 30.1 102.6 30.4 106 31.5 108.9 33.2 112.8 34.9 116.2 36.7 121.3 36.7 126.9M160.7 116.2 160.7 111.7 160.7 107.2 161.1 104.3 162.5 101.5 163.2 99.3 164.6 96.4 166 93.6 167.4 90.2 169.1 88 170.2 86.3 171.9 84.3 173.3 81.8 174.6 79 174.9 76.1 175.1 73.3 175.4 70.5 175.4 68.2 175.1 66 174.7 63.2 174 59.8 173.3 57.5 173 57.2 171.2 56.7 169.1 56.7 167 55.8 165.6 54.1 164.2 51.9 162.5 49.1 160.7 46.8 158.7 45.1 156.2 44.3 153.8 44.6 151.3 44.3 149.2 42.9 146.8 41.7 144.7 41.2 143.3 42.3 142.2 42.9 141.9 40.6 140.8 37.8 138.7 36.7 136.3 34.4 134.2 33.6 132.1 31.9 130.3 31.6 128.9 32.7 128.2 35.5 127.7 38.9 126.7 38.9 127.2 35 127.6 31.6 126.2 29.3 124.4 28.8 122.3 28.8 121.3 26.5 121.3 23.1 120.6 20.9 120.6 18 119.5 15.8 119.2 13.5 118.8 10.2 118.1 5.6 117.1 3.4 115.7 2.3 114.3 0.6 112.9 -1.1 110.1 -3.4 108.3 -4.5 104.8 -5.6 104.8 -22.6M122 29 120.6 30.2 119.3 33.3 118.6 37.2 119.7 37.5 120.4 33.8 121.4 31.3Z" fill="none" stroke="#e9e4d6" stroke-width=".8"/></g><path d="M38.4 0V112.8M76.9 0V112.8M115.3 0V112.8M153.8 0V112.8M0 28.2H192.2M0 56.4H192.2M0 84.6H192.2" stroke="#000" stroke-opacity=".08" stroke-width=".5" fill="none"/><path d="M38.4 0v3M38.4 112.8v-3M76.9 0v3M76.9 112.8v-3M115.3 0v3M115.3 112.8v-3M153.8 0v3M153.8 112.8v-3M0 28.2h3.5M192.2 28.2h-3.5M0 56.4h3.5M192.2 56.4h-3.5M0 84.6h3.5M192.2 84.6h-3.5" stroke="#262626" stroke-opacity=".55" stroke-width=".6" fill="none"/><rect x=".3" y=".3" width="191.6" height="112.2" fill="none" stroke="#262626" stroke-opacity=".35" stroke-width=".6"/><circle cx="118.4" cy="28.6" r="2.3" fill="#c8c8c8"/><circle cx="113.5" cy="33.0" r="2.3" fill="#d7d7d7"/><circle cx="87.2" cy="45.9" r="2.3" fill="#f5f5f5"/><circle cx="98.7" cy="43.4" r="2.3" fill="#f0f0f0"/><circle cx="105.8" cy="42.3" r="2.3" fill="#ebebeb"/><circle cx="114.9" cy="46.6" r="2.3" fill="#d7d7d7"/><circle cx="70.7" cy="47.4" r="2.3" fill="#ebebeb"/><circle cx="93.0" cy="46.3" r="2.3" fill="#f5f5f5"/><circle cx="68.9" cy="55.7" r="2.3" fill="#bebebe"/><circle cx="100.9" cy="52.6" r="2.3" fill="#c3c3c3"/><circle cx="76.5" cy="70.8" r="2.3" fill="#ebebeb"/><circle cx="73.7" cy="77.6" r="2.3" fill="#ebebeb"/><circle cx="60.2" cy="84.7" r="2.3" fill="#c3c3c3"/><circle cx="80.5" cy="89.7" r="2.3" fill="#afafaf"/><circle cx="68.5" cy="89.1" r="2.3" fill="#969696"/><circle cx="91.7" cy="93.1" r="2.3" fill="#b4b4b4"/><circle cx="103.2" cy="89.3" r="2.3" fill="#cdcdcd"/><circle cx="119.5" cy="94.0" r="2.3" fill="#f0f0f0"/><circle cx="102.2" cy="98.9" r="2.3" fill="#c3c3c3"/><circle cx="85.5" cy="102.3" r="2.3" fill="#d7d7d7"/><circle cx="114.1" cy="105.0" r="2.3" fill="#373737"/><circle cx="114.1" cy="110.6" r="2.3" fill="#ebebeb"/><g font-size="4.9" fill="#111"><text x="106.9" y="25.9">APS1</text><text x="99.8" y="31.7">APLJ</text><text x="75.8" y="42.8">AMUA</text><text x="90.5" y="41.2">AMPR</text><text x="108.0" y="44.1">PASM</text><text x="117.8" y="48.5">PAAR</text><text x="54.7" y="51.7">AMTE</text><text x="87.2" y="52.4">ITAM</text><text x="51.0" y="57.5">AMCO</text><text x="97.0" y="59.7">PAIT</text><text x="79.9" y="72.5">AMHA</text><text x="77.0" y="79.5">POVE</text><text x="55.4" y="81.4">RIOB</text><text x="75.2" y="86.7">ROJI</text><text x="61.9" y="95.6">ROGM</text><text x="87.0" y="90.2">MTJI</text><text x="106.0" y="91.0">MTCO</text><text x="123.0" y="95.6">MTSF</text><text x="104.9" y="101.0">MTSR</text><text x="79.8" y="109.8">ROCD</text><text x="117.5" y="106.8">MTCN</text><text x="117.1" y="112.6">MTNX</text></g><text class="tt" x="156.4" y="11.2" text-anchor="middle" font-size="7.6" font-weight="bold" fill="#fff">(d) GSFC mascon</text></g><rect x="316.3" y="187.0" width="192.2" height="3.9" fill="url(#gbar)" stroke="#d8d8d8" stroke-width=".5"/><path d="M348.3 187.0v1M348.3 190.9v-1M380.4 187.0v1M380.4 190.9v-1M412.4 187.0v1M412.4 190.9v-1M444.4 187.0v1M444.4 190.9v-1M476.5 187.0v1M476.5 190.9v-1" stroke="#666" stroke-width=".5"/><g class="t" font-size="7.5" fill="#141414" text-anchor="middle"><text x="316.3" y="183.3">0.76</text><text x="348.3" y="183.3">0.8</text><text x="380.4" y="183.3">0.84</text><text x="412.4" y="183.3">0.88</text><text x="444.4" y="183.3">0.92</text><text x="476.5" y="183.3">0.96</text><text x="508.5" y="183.3">1</text><text x="412.4" y="173.8">Correlation Coefficient</text><text x="316.3" y="316.3">85° W</text><text x="354.7" y="316.3">74° W</text><text x="393.2" y="316.3">63° W</text><text x="431.6" y="316.3">52° W</text><text x="470.1" y="316.3">41° W</text><text x="508.5" y="316.3">30° W</text></g><g class="t" font-size="7.5" fill="#141414" text-anchor="end"><text x="314.3" y="196.8">5° N</text><text x="314.3" y="225.0">0°</text><text x="314.3" y="253.2">5° S</text><text x="314.3" y="281.4">10° S</text><text x="314.3" y="309.6">15° S</text></g><rect x="520.7" y="194.1" width="4.2" height="112.8" fill="url(#jbar)"/><g class="t" font-size="7.5" fill="#141414"><text x="527.3" y="309.6">0</text><text x="527.3" y="287.0">5</text><text x="527.3" y="264.5">10</text><text x="527.3" y="241.9">15</text><text x="527.3" y="219.4">20</text><text x="527.3" y="196.8">25</text><g transform="translate(544.0 250.5) rotate(-90)"><text text-anchor="middle">Annual Amplitude (mm)</text></g></g><g transform="translate(24.05 356.0)"><rect width="192.2" height="112.8" fill="#6a6a6a"/><g clip-path="url(#mbox)"><g clip-path="url(#land)"><g filter="url(#jet)"><path fill="#000000" d="M188 -8h16v4h-16zM192 -4h12v4h-12zM192 0h12v4h-12zM192 4h12v4h-12zM192 8h12v4h-12zM192 12h12v4h-12zM192 16h12v4h-12zM196 20h8v4h-8zM196 24h8v4h-8zM196 28h8v4h-8zM196 32h8v4h-8zM196 36h8v4h-8zM196 40h8v4h-8zM196 44h8v4h-8zM196 48h8v4h-8zM196 52h8v4h-8zM196 56h8v4h-8zM196 60h8v4h-8zM196 64h8v4h-8zM196 68h8v4h-8zM196 72h8v4h-8zM192 76h12v4h-12zM192 80h12v4h-12zM192 84h12v4h-12zM192 88h12v4h-12zM188 92h16v4h-16zM188 96h16v4h-16zM184 100h20v4h-20zM184 104h20v4h-20zM184 108h20v4h-20zM180 112h24v4h-24zM180 116h24v4h-24zM180 120h24v4h-24z"/><path fill="#010101" d="M188 -4h4v4h-4zM192 20h4v4h-4zM192 24h4v4h-4zM192 28h4v4h-4zM192 32h4v4h-4zM192 36h4v4h-4zM192 72h4v4h-4zM188 88h4v4h-4zM180 108h4v4h-4z"/><path fill="#020202" d="M188 0h4v4h-4zM192 40h4v4h-4zM192 44h4v4h-4zM192 48h4v4h-4zM192 52h4v4h-4zM192 56h4v4h-4zM192 60h4v4h-4zM192 64h4v4h-4zM192 68h4v4h-4zM188 84h4v4h-4zM184 96h4v4h-4zM176 120h4v4h-4z"/><path fill="#030303" d="M188 4h4v4h-4zM184 92h4v4h-4zM180 104h4v4h-4zM176 116h4v4h-4z"/><path fill="#040404" d="M184 -8h4v4h-4zM188 8h4v4h-4zM188 12h4v4h-4zM188 80h4v4h-4zM180 100h4v4h-4zM176 112h4v4h-4z"/><path fill="#050505" d="M184 -4h4v4h-4zM188 16h4v4h-4zM188 20h4v4h-4zM188 24h4v4h-4zM188 28h4v4h-4zM188 76h4v4h-4zM184 88h4v4h-4zM176 108h4v4h-4z"/><path fill="#060606" d="M184 0h4v4h-4zM188 32h4v4h-4zM188 36h4v4h-4zM188 40h4v4h-4zM188 44h4v4h-4zM188 48h4v4h-4zM188 68h4v4h-4zM188 72h4v4h-4zM180 96h4v4h-4z"/><path fill="#070707" d="M184 4h4v4h-4zM188 52h4v4h-4zM188 56h4v4h-4zM188 60h4v4h-4zM188 64h4v4h-4zM184 84h4v4h-4zM180 92h4v4h-4zM176 104h4v4h-4zM172 116h4v4h-4zM172 120h4v4h-4z"/><path fill="#080808" d="M180 -8h4v4h-4zM184 8h4v4h-4zM184 80h4v4h-4zM176 100h4v4h-4zM172 112h4v4h-4z"/><path fill="#090909" d="M180 -4h4v4h-4zM184 12h4v4h-4zM184 16h4v4h-4zM184 76h4v4h-4zM180 88h4v4h-4zM172 108h4v4h-4z"/><path fill="#0a0a0a" d="M184 20h4v4h-4zM184 24h4v4h-4zM184 28h4v4h-4zM184 32h4v4h-4zM184 36h4v4h-4zM184 40h4v4h-4zM184 44h4v4h-4zM184 72h4v4h-4zM176 96h4v4h-4z"/><path fill="#0b0b0b" d="M180 0h4v4h-4zM184 48h4v4h-4zM184 52h4v4h-4zM184 68h4v4h-4zM180 84h4v4h-4zM172 104h4v4h-4zM168 120h4v4h-4z"/><path fill="#0c0c0c" d="M176 -8h4v4h-4zM180 4h4v4h-4zM184 56h4v4h-4zM184 60h4v4h-4zM184 64h4v4h-4zM176 92h4v4h-4zM172 100h4v4h-4zM168 116h4v4h-4z"/><path fill="#0d0d0d" d="M180 8h4v4h-4zM180 12h4v4h-4zM180 80h4v4h-4zM176 88h4v4h-4zM168 112h4v4h-4z"/><path fill="#0e0e0e" d="M176 -4h4v4h-4zM180 16h4v4h-4zM180 20h4v4h-4zM180 36h4v4h-4zM180 40h4v4h-4zM180 76h4v4h-4zM172 96h4v4h-4zM168 108h4v4h-4z"/><path fill="#0f0f0f" d="M176 0h4v4h-4zM180 24h4v4h-4zM180 28h4v4h-4zM180 32h4v4h-4zM180 44h4v4h-4zM180 48h4v4h-4zM180 72h4v4h-4zM176 84h4v4h-4zM168 104h4v4h-4z"/><path fill="#101010" d="M172 -8h4v4h-4zM176 4h4v4h-4zM180 52h4v4h-4zM180 56h4v4h-4zM180 64h4v4h-4zM180 68h4v4h-4zM172 92h4v4h-4zM168 100h4v4h-4zM164 116h4v4h-4zM164 120h4v4h-4z"/><path fill="#111111" d="M176 8h4v4h-4zM180 60h4v4h-4zM176 80h4v4h-4zM164 112h4v4h-4z"/><path fill="#121212" d="M172 -4h4v4h-4zM176 12h4v4h-4zM172 88h4v4h-4zM168 96h4v4h-4zM164 108h4v4h-4z"/><path fill="#131313" d="M172 0h4v4h-4zM176 16h4v4h-4zM176 20h4v4h-4zM176 32h4v4h-4zM176 36h4v4h-4zM176 40h4v4h-4zM176 44h4v4h-4zM176 76h4v4h-4zM164 104h4v4h-4z"/><path fill="#141414" d="M168 -8h4v4h-4zM176 24h4v4h-4zM176 28h4v4h-4zM176 48h4v4h-4zM176 52h4v4h-4zM176 72h4v4h-4zM172 84h4v4h-4zM168 92h4v4h-4zM164 100h4v4h-4z"/><path fill="#151515" d="M172 4h4v4h-4zM176 56h4v4h-4zM176 64h4v4h-4zM176 68h4v4h-4zM160 116h4v4h-4zM160 120h4v4h-4z"/><path fill="#161616" d="M168 -4h4v4h-4zM172 8h4v4h-4zM24 56h4v4h-4zM176 60h4v4h-4zM172 80h4v4h-4zM168 88h4v4h-4zM164 96h4v4h-4zM160 112h4v4h-4z"/><path fill="#171717" d="M172 12h4v4h-4zM172 40h4v4h-4zM172 44h4v4h-4zM20 56h4v4h-4zM160 108h4v4h-4z"/><path fill="#181818" d="M164 -8h4v4h-4zM168 0h4v4h-4zM172 16h4v4h-4zM172 36h4v4h-4zM172 48h4v4h-4zM20 52h8v4h-8zM20 60h8v4h-8zM172 76h4v4h-4zM168 84h4v4h-4zM164 92h4v4h-4zM160 104h4v4h-4z"/><path fill="#191919" d="M172 20h4v4h-4zM172 24h4v4h-4zM172 28h4v4h-4zM28 32h4v4h-4zM172 32h4v4h-4zM28 36h4v4h-4zM20 48h4v4h-4zM172 52h4v4h-4zM20 64h4v4h-4zM172 72h4v4h-4zM160 100h4v4h-4z"/><path fill="#1a1a1a" d="M28 -4h4v4h-4zM164 -4h4v4h-4zM28 0h4v4h-4zM168 4h4v4h-4zM28 28h4v4h-4zM24 32h4v4h-4zM24 36h4v4h-4zM20 40h8v4h-8zM20 44h8v4h-8zM24 48h4v4h-4zM172 56h4v4h-4zM172 64h4v4h-4zM172 68h4v4h-4zM28 80h4v4h-4zM164 88h4v4h-4zM156 120h4v4h-4z"/><path fill="#1b1b1b" d="M20 -8h12v4h-12zM24 -4h4v4h-4zM32 -4h4v4h-4zM24 0h4v4h-4zM32 0h4v4h-4zM168 8h4v4h-4zM28 20h8v4h-8zM28 24h8v4h-8zM24 28h4v4h-4zM32 28h4v4h-4zM32 32h4v4h-4zM20 36h4v4h-4zM32 36h4v4h-4zM28 40h4v4h-4zM16 52h4v4h-4zM16 56h4v4h-4zM16 60h4v4h-4zM172 60h4v4h-4zM16 64h4v4h-4zM24 64h4v4h-4zM20 68h4v4h-4zM168 80h4v4h-4zM160 96h4v4h-4zM156 112h4v4h-4zM156 116h4v4h-4z"/><path fill="#1c1c1c" d="M16 -8h4v4h-4zM32 -8h4v4h-4zM160 -8h4v4h-4zM20 -4h4v4h-4zM164 0h4v4h-4zM28 4h8v4h-8zM168 12h4v4h-4zM28 16h8v4h-8zM24 24h4v4h-4zM20 32h4v4h-4zM16 40h4v4h-4zM168 40h4v4h-4zM16 44h4v4h-4zM168 44h4v4h-4zM16 48h4v4h-4zM168 48h4v4h-4zM28 56h4v4h-4zM16 68h4v4h-4zM28 76h4v4h-4zM168 76h4v4h-4zM24 80h4v4h-4zM24 84h8v4h-8zM164 84h4v4h-4zM24 88h4v4h-4zM24 92h4v4h-4zM156 108h4v4h-4z"/><path fill="#1d1d1d" d="M12 -8h4v4h-4zM16 -4h4v4h-4zM20 0h4v4h-4zM24 4h4v4h-4zM28 8h8v4h-8zM28 12h8v4h-8zM24 16h4v4h-4zM24 20h4v4h-4zM20 28h4v4h-4zM16 36h4v4h-4zM32 40h4v4h-4zM28 44h4v4h-4zM168 52h4v4h-4zM24 68h4v4h-4zM20 72h8v4h-8zM24 76h4v4h-4zM20 88h4v4h-4zM28 88h4v4h-4zM20 92h4v4h-4zM28 92h4v4h-4zM160 92h4v4h-4zM20 96h12v4h-12zM32 104h4v4h-4zM156 104h4v4h-4z"/><path fill="#1e1e1e" d="M8 -8h4v4h-4zM12 -4h4v4h-4zM36 -4h4v4h-4zM160 -4h4v4h-4zM16 0h4v4h-4zM36 0h4v4h-4zM20 4h4v4h-4zM164 4h4v4h-4zM24 8h4v4h-4zM24 12h4v4h-4zM168 16h4v4h-4zM36 20h4v4h-4zM168 20h4v4h-4zM20 24h4v4h-4zM36 24h4v4h-4zM36 28h4v4h-4zM16 32h4v4h-4zM168 32h4v4h-4zM168 36h4v4h-4zM12 60h4v4h-4zM12 64h4v4h-4zM16 72h4v4h-4zM168 72h4v4h-4zM20 84h4v4h-4zM16 88h4v4h-4zM160 88h4v4h-4zM16 92h4v4h-4zM12 96h8v4h-8zM12 100h24v4h-24zM12 104h20v4h-20zM8 108h16v4h-16zM8 112h16v4h-16zM4 116h16v4h-16zM4 120h12v4h-12z"/><path fill="#1f1f1f" d="M4 -8h4v4h-4zM8 -4h4v4h-4zM12 0h4v4h-4zM16 4h4v4h-4zM36 4h4v4h-4zM20 8h4v4h-4zM20 12h4v4h-4zM20 16h4v4h-4zM36 16h4v4h-4zM20 20h4v4h-4zM168 24h4v4h-4zM168 28h4v4h-4zM36 32h4v4h-4zM12 40h4v4h-4zM12 44h4v4h-4zM12 48h4v4h-4zM12 52h4v4h-4zM12 56h4v4h-4zM168 56h4v4h-4zM168 64h4v4h-4zM12 68h4v4h-4zM168 68h4v4h-4zM16 76h8v4h-8zM20 80h4v4h-4zM164 80h4v4h-4zM16 84h4v4h-4zM12 88h4v4h-4zM12 92h4v4h-4zM8 96h4v4h-4zM8 100h4v4h-4zM156 100h4v4h-4zM4 104h8v4h-8zM0 108h8v4h-8zM24 108h12v4h-12zM-4 112h12v4h-12zM24 112h4v4h-4zM-4 116h8v4h-8zM20 116h4v4h-4zM-8 120h12v4h-12zM16 120h4v4h-4z"/><path fill="#202020" d="M0 -8h4v4h-4zM36 -8h4v4h-4zM156 -8h4v4h-4zM4 -4h4v4h-4zM8 0h4v4h-4zM12 4h4v4h-4zM16 8h4v4h-4zM36 8h4v4h-4zM164 8h4v4h-4zM36 12h4v4h-4zM16 20h4v4h-4zM16 24h4v4h-4zM16 28h4v4h-4zM12 32h4v4h-4zM12 36h4v4h-4zM28 48h4v4h-4zM164 48h4v4h-4zM28 52h4v4h-4zM168 60h4v4h-4zM12 72h4v4h-4zM28 72h4v4h-4zM12 76h4v4h-4zM12 80h8v4h-8zM32 80h4v4h-4zM12 84h4v4h-4zM160 84h4v4h-4zM8 88h4v4h-4zM8 92h4v4h-4zM4 96h4v4h-4zM32 96h4v4h-4zM156 96h4v4h-4zM0 100h8v4h-8zM-4 104h8v4h-8zM36 104h4v4h-4zM-8 108h8v4h-8zM-8 112h4v4h-4zM28 112h4v4h-4zM-8 116h4v4h-4zM24 116h4v4h-4zM20 120h4v4h-4zM152 120h4v4h-4z"/><path fill="#212121" d="M-4 -8h4v4h-4zM0 -4h4v4h-4zM4 0h4v4h-4zM160 0h4v4h-4zM8 4h4v4h-4zM12 8h4v4h-4zM12 12h8v4h-8zM16 16h4v4h-4zM12 28h4v4h-4zM36 36h4v4h-4zM8 40h4v4h-4zM8 44h4v4h-4zM164 44h4v4h-4zM164 52h4v4h-4zM8 60h4v4h-4zM28 60h4v4h-4zM8 64h4v4h-4zM8 68h4v4h-4zM8 72h4v4h-4zM8 76h4v4h-4zM164 76h4v4h-4zM8 80h4v4h-4zM8 84h4v4h-4zM4 88h4v4h-4zM0 92h8v4h-8zM0 96h4v4h-4zM-4 100h4v4h-4zM-8 104h4v4h-4zM152 112h4v4h-4zM152 116h4v4h-4zM24 120h4v4h-4z"/><path fill="#222222" d="M-8 -8h4v4h-4zM-8 -4h8v4h-8zM-4 0h8v4h-8zM4 4h4v4h-4zM8 8h4v4h-4zM8 12h4v4h-4zM164 12h4v4h-4zM12 16h4v4h-4zM12 20h4v4h-4zM12 24h4v4h-4zM8 32h4v4h-4zM8 36h4v4h-4zM164 40h4v4h-4zM8 48h4v4h-4zM8 52h4v4h-4zM8 56h4v4h-4zM164 72h4v4h-4zM4 80h4v4h-4zM160 80h4v4h-4zM4 84h4v4h-4zM32 84h4v4h-4zM0 88h4v4h-4zM-4 92h4v4h-4zM32 92h4v4h-4zM156 92h4v4h-4zM-8 96h8v4h-8zM-8 100h4v4h-4zM36 100h4v4h-4zM152 108h4v4h-4zM32 112h4v4h-4zM28 116h4v4h-4z"/><path fill="#232323" d="M156 -4h4v4h-4zM-8 0h4v4h-4zM-4 4h8v4h-8zM160 4h4v4h-4zM0 8h8v4h-8zM4 12h4v4h-4zM8 16h4v4h-4zM164 16h4v4h-4zM8 20h4v4h-4zM40 20h4v4h-4zM8 24h4v4h-4zM40 24h4v4h-4zM8 28h4v4h-4zM32 44h4v4h-4zM160 52h4v4h-4zM4 64h4v4h-4zM4 68h4v4h-4zM28 68h4v4h-4zM164 68h4v4h-4zM4 72h4v4h-4zM4 76h4v4h-4zM0 80h4v4h-4zM0 84h4v4h-4zM-4 88h4v4h-4zM32 88h4v4h-4zM-8 92h4v4h-4zM152 104h4v4h-4zM28 120h4v4h-4z"/><path fill="#242424" d="M152 -8h4v4h-4zM-8 4h4v4h-4zM-4 8h4v4h-4zM0 12h4v4h-4zM4 16h4v4h-4zM40 16h4v4h-4zM4 20h4v4h-4zM164 20h4v4h-4zM4 24h4v4h-4zM4 28h4v4h-4zM4 32h4v4h-4zM4 36h4v4h-4zM164 36h4v4h-4zM4 40h4v4h-4zM36 40h4v4h-4zM4 44h4v4h-4zM4 48h4v4h-4zM4 52h4v4h-4zM4 56h4v4h-4zM164 56h4v4h-4zM4 60h4v4h-4zM28 64h4v4h-4zM164 64h4v4h-4zM0 68h4v4h-4zM0 72h4v4h-4zM0 76h4v4h-4zM32 76h4v4h-4zM-4 80h4v4h-4zM-8 84h8v4h-8zM-8 88h4v4h-4zM156 88h4v4h-4zM36 108h4v4h-4z"/><path fill="#252525" d="M40 0h4v4h-4zM156 0h4v4h-4zM-8 8h4v4h-4zM160 8h4v4h-4zM-4 12h4v4h-4zM40 12h4v4h-4zM0 16h4v4h-4zM0 20h4v4h-4zM0 24h4v4h-4zM164 24h4v4h-4zM0 28h4v4h-4zM40 28h4v4h-4zM164 28h4v4h-4zM0 32h4v4h-4zM164 32h4v4h-4zM0 36h4v4h-4zM0 40h4v4h-4zM160 48h4v4h-4zM0 60h4v4h-4zM164 60h4v4h-4zM0 64h4v4h-4zM-4 72h4v4h-4zM-4 76h4v4h-4zM160 76h4v4h-4zM-8 80h4v4h-4zM152 100h4v4h-4zM32 116h4v4h-4z"/><path fill="#262626" d="M40 -4h4v4h-4zM152 -4h4v4h-4zM40 4h4v4h-4zM40 8h4v4h-4zM-8 12h4v4h-4zM-8 16h8v4h-8zM-4 20h4v4h-4zM-4 24h4v4h-4zM0 44h4v4h-4zM0 48h4v4h-4zM0 52h4v4h-4zM0 56h4v4h-4zM-4 64h4v4h-4zM-4 68h4v4h-4zM-8 72h4v4h-4zM-8 76h4v4h-4zM156 84h4v4h-4z"/><path fill="#272727" d="M40 -8h4v4h-4zM148 -8h4v4h-4zM156 4h4v4h-4zM160 12h4v4h-4zM-8 20h4v4h-4zM-8 24h4v4h-4zM-4 28h4v4h-4zM-4 32h4v4h-4zM40 32h4v4h-4zM-4 36h4v4h-4zM-4 40h4v4h-4zM-4 44h4v4h-4zM-4 48h4v4h-4zM-4 52h4v4h-4zM-4 56h4v4h-4zM160 56h4v4h-4zM-4 60h4v4h-4zM-8 64h4v4h-4zM-8 68h4v4h-4zM160 72h4v4h-4zM156 80h4v4h-4zM36 96h4v4h-4zM152 96h4v4h-4zM36 112h4v4h-4zM32 120h4v4h-4zM148 120h4v4h-4z"/><path fill="#282828" d="M-8 28h4v4h-4zM-8 32h4v4h-4zM-8 36h4v4h-4zM-8 40h4v4h-4zM-8 44h4v4h-4zM160 44h4v4h-4zM-8 48h4v4h-4zM-8 52h4v4h-4zM-8 56h4v4h-4zM-8 60h4v4h-4zM148 116h4v4h-4z"/><path fill="#292929" d="M152 0h4v4h-4zM160 16h4v4h-4zM40 36h4v4h-4zM36 44h4v4h-4zM160 68h4v4h-4zM152 92h4v4h-4zM148 104h4v4h-4zM148 108h4v4h-4zM148 112h4v4h-4z"/><path fill="#2a2a2a" d="M148 -4h4v4h-4zM156 8h4v4h-4zM160 40h4v4h-4zM32 48h4v4h-4zM160 60h4v4h-4zM160 64h4v4h-4zM156 76h4v4h-4zM36 116h4v4h-4z"/><path fill="#2b2b2b" d="M144 -8h4v4h-4zM44 20h4v4h-4zM160 20h4v4h-4zM32 72h4v4h-4zM152 88h4v4h-4zM36 92h4v4h-4zM148 100h4v4h-4z"/><path fill="#2c2c2c" d="M152 4h4v4h-4zM156 12h4v4h-4zM44 16h4v4h-4zM44 24h4v4h-4zM160 24h4v4h-4zM160 28h4v4h-4zM160 36h4v4h-4zM156 52h4v4h-4zM36 120h4v4h-4z"/><path fill="#2d2d2d" d="M148 0h4v4h-4zM44 12h4v4h-4zM160 32h4v4h-4zM40 40h4v4h-4zM152 84h4v4h-4z"/><path fill="#2e2e2e" d="M140 -8h4v4h-4zM144 -4h4v4h-4zM44 8h4v4h-4zM44 28h4v4h-4zM156 72h4v4h-4zM148 96h4v4h-4zM40 104h4v4h-4zM144 120h4v4h-4z"/><path fill="#2f2f2f" d="M44 4h4v4h-4zM152 8h4v4h-4zM156 16h4v4h-4zM156 48h4v4h-4zM32 68h4v4h-4zM36 88h4v4h-4zM40 108h4v4h-4z"/><path fill="#303030" d="M44 0h4v4h-4zM148 4h4v4h-4zM152 80h4v4h-4zM40 100h4v4h-4zM144 116h4v4h-4z"/><path fill="#313131" d="M44 -8h4v4h-4zM136 -8h4v4h-4zM44 -4h4v4h-4zM140 -4h4v4h-4zM144 0h4v4h-4zM152 12h4v4h-4zM156 20h4v4h-4zM44 32h4v4h-4zM156 68h4v4h-4zM40 112h4v4h-4zM144 112h4v4h-4z"/><path fill="#323232" d="M40 44h4v4h-4zM156 44h4v4h-4zM32 52h4v4h-4zM156 56h4v4h-4zM32 64h4v4h-4zM36 84h4v4h-4zM148 92h4v4h-4zM144 104h4v4h-4zM144 108h4v4h-4zM40 116h4v4h-4z"/><path fill="#333333" d="M148 8h4v4h-4zM156 24h4v4h-4zM36 48h4v4h-4zM156 64h4v4h-4zM152 76h4v4h-4zM40 120h4v4h-4z"/><path fill="#343434" d="M84 -8h12v4h-12zM132 -8h4v4h-4zM136 -4h4v4h-4zM140 0h4v4h-4zM144 4h4v4h-4zM152 16h4v4h-4zM156 28h4v4h-4zM156 40h4v4h-4zM32 60h4v4h-4zM156 60h4v4h-4zM40 96h4v4h-4zM144 100h4v4h-4z"/><path fill="#353535" d="M80 -8h4v4h-4zM48 16h4v4h-4zM48 20h4v4h-4zM156 32h4v4h-4zM44 36h4v4h-4zM156 36h4v4h-4zM36 80h4v4h-4zM148 88h4v4h-4z"/><path fill="#363636" d="M96 -8h4v4h-4zM48 8h4v4h-4zM48 12h4v4h-4zM148 12h4v4h-4zM48 24h4v4h-4zM140 120h4v4h-4z"/><path fill="#373737" d="M76 -8h4v4h-4zM128 -8h4v4h-4zM140 4h4v4h-4zM144 8h4v4h-4zM152 20h4v4h-4zM32 56h4v4h-4zM152 72h4v4h-4zM148 84h4v4h-4z"/><path fill="#383838" d="M100 -8h4v4h-4zM80 -4h8v4h-8zM132 -4h4v4h-4zM136 0h4v4h-4zM48 4h4v4h-4zM48 28h4v4h-4zM40 92h4v4h-4zM144 96h4v4h-4zM140 116h4v4h-4z"/><path fill="#393939" d="M48 -8h4v4h-4zM76 -4h4v4h-4zM88 -4h8v4h-8zM148 16h4v4h-4zM44 40h4v4h-4zM36 76h4v4h-4z"/><path fill="#3a3a3a" d="M72 -8h4v4h-4zM124 -8h4v4h-4zM48 0h4v4h-4zM140 8h4v4h-4zM144 12h4v4h-4zM152 24h4v4h-4zM40 48h4v4h-4zM148 80h4v4h-4zM140 112h4v4h-4zM44 120h4v4h-4z"/><path fill="#3b3b3b" d="M48 -4h4v4h-4zM72 -4h4v4h-4zM96 -4h4v4h-4zM128 -4h4v4h-4zM132 0h4v4h-4zM136 4h4v4h-4zM152 68h4v4h-4zM44 116h4v4h-4z"/><path fill="#3c3c3c" d="M104 -8h4v4h-4zM120 -8h4v4h-4zM152 28h4v4h-4zM48 32h4v4h-4zM152 48h4v4h-4zM36 72h4v4h-4zM144 92h4v4h-4zM140 108h4v4h-4zM44 112h4v4h-4z"/><path fill="#3d3d3d" d="M68 -8h4v4h-4zM76 0h4v4h-4zM148 20h4v4h-4zM152 44h4v4h-4zM152 52h4v4h-4zM148 76h4v4h-4zM40 88h4v4h-4zM44 108h4v4h-4zM136 120h4v4h-4z"/><path fill="#3e3e3e" d="M108 -8h4v4h-4zM116 -8h4v4h-4zM68 -4h4v4h-4zM100 -4h4v4h-4zM124 -4h4v4h-4zM64 0h12v4h-12zM80 0h4v4h-4zM128 0h4v4h-4zM52 4h4v4h-4zM132 4h4v4h-4zM52 8h4v4h-4zM136 8h4v4h-4zM140 12h4v4h-4zM144 16h4v4h-4zM152 32h4v4h-4zM152 36h4v4h-4zM152 40h4v4h-4zM36 52h4v4h-4z"/><path fill="#3f3f3f" d="M52 -8h4v4h-4zM112 -8h4v4h-4zM60 0h4v4h-4zM84 0h4v4h-4zM52 12h4v4h-4zM44 44h4v4h-4zM152 64h4v4h-4zM144 88h4v4h-4zM140 104h4v4h-4z"/><path fill="#404040" d="M52 -4h4v4h-4zM52 0h4v4h-4zM88 0h4v4h-4zM60 4h4v4h-4zM52 16h4v4h-4zM148 24h4v4h-4zM152 56h4v4h-4zM36 68h4v4h-4zM44 104h4v4h-4zM136 116h4v4h-4z"/><path fill="#414141" d="M64 -8h4v4h-4zM120 -4h4v4h-4zM56 0h4v4h-4zM92 0h4v4h-4zM56 4h4v4h-4zM64 4h4v4h-4zM128 4h4v4h-4zM132 8h4v4h-4zM136 12h4v4h-4zM52 20h4v4h-4zM48 36h4v4h-4zM152 60h4v4h-4zM148 72h4v4h-4zM140 100h4v4h-4z"/><path fill="#424242" d="M56 -8h4v4h-4zM64 -4h4v4h-4zM104 -4h4v4h-4zM96 0h4v4h-4zM124 0h4v4h-4zM68 4h4v4h-4zM140 16h4v4h-4zM144 20h4v4h-4zM52 24h4v4h-4zM144 84h4v4h-4zM44 100h4v4h-4z"/><path fill="#434343" d="M60 -8h4v4h-4zM56 -4h8v4h-8zM72 4h4v4h-4zM56 8h4v4h-4zM52 28h4v4h-4zM36 64h4v4h-4zM40 84h4v4h-4zM48 120h4v4h-4z"/><path fill="#444444" d="M116 -4h4v4h-4zM76 4h4v4h-4zM128 8h4v4h-4zM132 12h4v4h-4zM148 28h4v4h-4zM44 96h4v4h-4zM140 96h4v4h-4zM136 112h4v4h-4zM132 120h4v4h-4z"/><path fill="#454545" d="M108 -4h8v4h-8zM100 0h4v4h-4zM120 0h4v4h-4zM124 4h4v4h-4zM136 16h4v4h-4zM52 32h4v4h-4zM144 80h4v4h-4zM48 116h4v4h-4z"/><path fill="#464646" d="M140 20h4v4h-4zM144 24h4v4h-4zM148 32h4v4h-4zM44 48h4v4h-4zM40 52h4v4h-4zM36 56h4v4h-4zM36 60h4v4h-4zM148 68h4v4h-4z"/><path fill="#474747" d="M80 4h4v4h-4zM60 8h4v4h-4zM128 12h4v4h-4zM132 16h4v4h-4zM44 92h4v4h-4zM140 92h4v4h-4zM48 112h4v4h-4z"/><path fill="#484848" d="M124 8h4v4h-4zM56 12h4v4h-4zM148 36h4v4h-4zM48 40h4v4h-4zM148 40h4v4h-4zM148 44h4v4h-4zM144 76h4v4h-4zM136 108h4v4h-4zM132 116h4v4h-4z"/><path fill="#494949" d="M116 0h4v4h-4zM84 4h4v4h-4zM120 4h4v4h-4zM64 8h4v4h-4zM136 20h4v4h-4zM148 48h4v4h-4z"/><path fill="#4a4a4a" d="M104 0h4v4h-4zM88 4h4v4h-4zM68 8h4v4h-4zM124 12h4v4h-4zM128 16h4v4h-4zM148 64h4v4h-4zM40 80h4v4h-4zM140 88h4v4h-4zM48 108h4v4h-4zM128 120h4v4h-4z"/><path fill="#4b4b4b" d="M92 4h4v4h-4zM72 8h4v4h-4zM132 20h4v4h-4zM140 24h4v4h-4zM144 28h4v4h-4zM144 72h4v4h-4zM44 88h4v4h-4zM132 112h4v4h-4zM52 120h4v4h-4z"/><path fill="#4c4c4c" d="M108 0h8v4h-8zM96 4h4v4h-4zM120 8h4v4h-4zM56 16h4v4h-4zM52 36h4v4h-4zM148 52h4v4h-4zM136 104h4v4h-4z"/><path fill="#4d4d4d" d="M116 4h4v4h-4zM124 16h4v4h-4zM148 60h4v4h-4zM40 76h4v4h-4z"/><path fill="#4e4e4e" d="M76 8h4v4h-4zM120 12h4v4h-4zM128 20h4v4h-4zM136 24h4v4h-4zM144 32h4v4h-4zM148 56h4v4h-4zM40 72h4v4h-4zM140 84h4v4h-4zM136 100h4v4h-4zM48 104h4v4h-4zM52 116h4v4h-4zM128 116h4v4h-4z"/><path fill="#4f4f4f" d="M100 4h4v4h-4zM56 20h4v4h-4zM132 24h4v4h-4zM40 68h4v4h-4zM144 68h4v4h-4zM136 96h4v4h-4z"/><path fill="#505050" d="M60 12h4v4h-4zM140 28h4v4h-4zM48 44h4v4h-4zM44 52h4v4h-4zM40 56h4v4h-4zM132 108h4v4h-4zM52 112h4v4h-4zM124 120h4v4h-4z"/><path fill="#515151" d="M112 4h4v4h-4zM116 8h4v4h-4zM128 24h4v4h-4zM144 36h4v4h-4zM140 80h4v4h-4zM44 84h4v4h-4zM136 92h4v4h-4zM48 100h4v4h-4zM128 112h4v4h-4z"/><path fill="#525252" d="M104 4h4v4h-4zM80 8h4v4h-4zM120 16h4v4h-4zM124 20h4v4h-4zM56 24h4v4h-4zM144 40h4v4h-4zM40 64h4v4h-4zM48 96h4v4h-4zM56 120h4v4h-4z"/><path fill="#535353" d="M108 4h4v4h-4zM64 12h8v4h-8zM116 12h4v4h-4zM136 28h4v4h-4zM144 44h4v4h-4zM40 60h4v4h-4zM144 64h4v4h-4zM140 76h4v4h-4zM52 108h4v4h-4zM124 116h4v4h-4z"/><path fill="#545454" d="M72 12h4v4h-4zM132 28h4v4h-4zM136 88h4v4h-4zM48 92h4v4h-4zM132 104h4v4h-4zM128 108h4v4h-4zM120 120h4v4h-4z"/><path fill="#555555" d="M84 8h4v4h-4zM56 28h4v4h-4zM128 28h4v4h-4zM56 32h4v4h-4zM140 32h4v4h-4zM144 48h4v4h-4zM140 72h4v4h-4z"/><path fill="#565656" d="M88 8h4v4h-4zM112 8h4v4h-4zM116 16h4v4h-4zM140 68h4v4h-4zM52 104h4v4h-4zM128 104h4v4h-4zM56 116h4v4h-4z"/><path fill="#575757" d="M92 8h4v4h-4zM60 16h4v4h-4zM120 20h4v4h-4zM124 24h4v4h-4zM144 60h4v4h-4zM44 80h4v4h-4zM136 84h4v4h-4zM48 88h4v4h-4zM132 100h4v4h-4zM124 112h4v4h-4zM116 120h4v4h-4z"/><path fill="#585858" d="M96 8h4v4h-4zM76 12h4v4h-4zM128 32h4v4h-4zM140 36h4v4h-4zM52 40h4v4h-4zM48 48h4v4h-4zM144 52h4v4h-4zM132 96h4v4h-4zM120 116h4v4h-4zM60 120h4v4h-4z"/><path fill="#595959" d="M100 8h4v4h-4zM112 12h4v4h-4zM132 32h8v4h-8zM140 40h4v4h-4zM144 56h4v4h-4zM140 64h4v4h-4zM48 84h4v4h-4zM132 92h4v4h-4zM128 100h4v4h-4zM124 108h4v4h-4zM56 112h4v4h-4z"/><path fill="#5a5a5a" d="M108 8h4v4h-4zM44 56h4v4h-4zM44 76h4v4h-4zM52 100h4v4h-4zM124 104h4v4h-4zM112 120h4v4h-4z"/><path fill="#5b5b5b" d="M104 8h4v4h-4zM60 20h4v4h-4zM140 44h4v4h-4zM44 72h4v4h-4zM136 80h4v4h-4zM132 88h4v4h-4zM108 120h4v4h-4z"/><path fill="#5c5c5c" d="M112 16h4v4h-4zM124 28h4v4h-4zM140 60h4v4h-4zM136 72h4v4h-4zM136 76h4v4h-4zM56 108h4v4h-4zM120 112h4v4h-4zM116 116h4v4h-4zM104 120h4v4h-4z"/><path fill="#5d5d5d" d="M116 20h4v4h-4zM56 36h4v4h-4zM132 36h8v4h-8zM140 48h4v4h-4zM44 60h4v4h-4zM44 68h4v4h-4zM136 68h4v4h-4zM48 80h4v4h-4zM132 84h4v4h-4zM52 96h4v4h-4zM128 96h4v4h-4zM124 100h4v4h-4zM60 116h4v4h-4zM64 120h4v4h-4zM100 120h4v4h-4z"/><path fill="#5e5e5e" d="M64 16h12v4h-12zM128 36h4v4h-4zM136 40h4v4h-4zM48 52h4v4h-4zM44 64h4v4h-4zM136 64h4v4h-4zM56 104h4v4h-4zM112 116h4v4h-4zM96 120h4v4h-4z"/><path fill="#5f5f5f" d="M80 12h4v4h-4zM108 12h4v4h-4zM120 24h4v4h-4zM140 52h4v4h-4zM140 56h4v4h-4zM128 92h4v4h-4zM120 108h4v4h-4zM108 116h4v4h-4zM92 120h4v4h-4z"/><path fill="#606060" d="M136 44h4v4h-4zM128 80h8v4h-8zM52 84h4v4h-4zM52 92h4v4h-4zM116 112h4v4h-4zM104 116h4v4h-4zM68 120h4v4h-4zM88 120h4v4h-4z"/><path fill="#616161" d="M124 32h4v4h-4zM132 40h4v4h-4zM136 60h4v4h-4zM48 76h4v4h-4zM132 76h4v4h-4zM52 80h4v4h-4zM128 84h4v4h-4zM52 88h4v4h-4zM128 88h4v4h-4zM120 104h4v4h-4zM60 112h4v4h-4zM96 116h8v4h-8zM84 120h4v4h-4z"/><path fill="#626262" d="M84 12h4v4h-4zM76 16h4v4h-4zM136 48h4v4h-4zM132 72h4v4h-4zM128 76h4v4h-4zM124 96h4v4h-4zM56 100h4v4h-4zM112 112h4v4h-4zM64 116h4v4h-4zM92 116h4v4h-4zM72 120h4v4h-4zM80 120h4v4h-4z"/><path fill="#636363" d="M88 12h12v4h-12zM104 12h4v4h-4zM108 16h4v4h-4zM60 24h4v4h-4zM52 44h4v4h-4zM48 56h4v4h-4zM132 68h4v4h-4zM116 108h4v4h-4zM76 120h4v4h-4z"/><path fill="#646464" d="M100 12h4v4h-4zM112 20h4v4h-4zM132 44h4v4h-4zM136 52h4v4h-4zM136 56h4v4h-4zM48 72h4v4h-4zM120 100h4v4h-4zM60 108h4v4h-4zM100 112h12v4h-12zM88 116h4v4h-4z"/><path fill="#656565" d="M64 20h4v4h-4zM128 40h4v4h-4zM132 64h4v4h-4zM124 92h4v4h-4zM96 112h4v4h-4zM68 116h4v4h-4zM84 116h4v4h-4z"/><path fill="#666666" d="M48 60h4v4h-4zM128 72h4v4h-4zM52 76h4v4h-4zM124 80h4v4h-4zM92 112h4v4h-4z"/><path fill="#676767" d="M132 48h4v4h-4zM132 60h4v4h-4zM48 64h4v4h-4zM48 68h4v4h-4zM56 80h4v4h-4zM124 84h4v4h-4zM124 88h4v4h-4zM116 104h4v4h-4zM112 108h4v4h-4zM64 112h4v4h-4zM72 116h12v4h-12z"/><path fill="#686868" d="M116 24h4v4h-4zM120 28h4v4h-4zM124 36h4v4h-4zM132 52h4v4h-4zM132 56h4v4h-4zM124 76h4v4h-4zM56 96h4v4h-4zM120 96h4v4h-4zM60 104h4v4h-4zM108 108h4v4h-4zM88 112h4v4h-4z"/><path fill="#696969" d="M128 68h4v4h-4zM56 84h4v4h-4zM96 108h12v4h-12zM84 112h4v4h-4z"/><path fill="#6a6a6a" d="M104 16h4v4h-4zM68 20h4v4h-4zM56 40h4v4h-4zM128 44h4v4h-4zM116 100h4v4h-4zM92 108h4v4h-4zM68 112h4v4h-4z"/><path fill="#6b6b6b" d="M80 16h4v4h-4zM120 92h4v4h-4zM112 104h4v4h-4zM64 108h4v4h-4zM80 112h4v4h-4z"/><path fill="#6c6c6c" d="M72 20h4v4h-4zM108 20h4v4h-4zM52 48h4v4h-4zM128 64h4v4h-4zM124 72h4v4h-4zM56 88h4v4h-4zM56 92h4v4h-4zM116 96h4v4h-4zM88 108h4v4h-4zM72 112h8v4h-8z"/><path fill="#6d6d6d" d="M100 16h4v4h-4zM128 48h4v4h-4zM128 56h4v4h-4zM52 72h4v4h-4zM56 76h4v4h-4zM60 100h4v4h-4zM108 104h4v4h-4zM84 108h4v4h-4z"/><path fill="#6e6e6e" d="M96 16h4v4h-4zM128 52h4v4h-4zM56 56h4v4h-4zM52 60h4v4h-4zM128 60h4v4h-4zM120 88h4v4h-4zM112 100h4v4h-4zM96 104h12v4h-12z"/><path fill="#6f6f6f" d="M84 16h12v4h-12zM60 28h4v4h-4zM52 56h4v4h-4zM120 84h4v4h-4zM116 92h4v4h-4zM64 104h4v4h-4zM92 104h4v4h-4zM68 108h4v4h-4zM80 108h4v4h-4z"/><path fill="#707070" d="M76 20h4v4h-4zM124 40h4v4h-4zM124 68h4v4h-4zM112 96h4v4h-4zM108 100h4v4h-4zM88 104h4v4h-4zM72 108h8v4h-8z"/><path fill="#717171" d="M112 24h4v4h-4zM52 64h4v4h-4zM120 80h4v4h-4zM84 104h4v4h-4z"/><path fill="#727272" d="M104 20h4v4h-4zM64 24h4v4h-4zM52 68h4v4h-4zM116 88h4v4h-4zM112 92h4v4h-4zM104 100h4v4h-4z"/><path fill="#737373" d="M120 32h4v4h-4zM120 76h4v4h-4zM60 80h4v4h-4zM60 96h4v4h-4zM108 96h4v4h-4zM100 100h4v4h-4zM68 104h4v4h-4zM80 104h4v4h-4z"/><path fill="#747474" d="M56 44h4v4h-4zM124 64h4v4h-4zM120 72h4v4h-4zM92 100h8v4h-8zM72 104h8v4h-8z"/><path fill="#757575" d="M80 20h4v4h-4zM124 44h4v4h-4zM116 84h4v4h-4zM112 88h4v4h-4zM108 92h4v4h-4zM104 96h4v4h-4zM64 100h4v4h-4zM84 100h8v4h-8z"/><path fill="#767676" d="M116 28h4v4h-4zM52 52h4v4h-4zM56 60h4v4h-4zM60 84h4v4h-4zM80 100h4v4h-4z"/><path fill="#777777" d="M100 20h4v4h-4zM56 52h4v4h-4zM120 68h4v4h-4zM116 80h4v4h-4zM100 96h4v4h-4z"/><path fill="#787878" d="M60 32h4v4h-4zM124 60h4v4h-4zM108 88h4v4h-4zM68 100h4v4h-4zM76 100h4v4h-4z"/><path fill="#797979" d="M56 48h4v4h-4zM124 48h4v4h-4zM56 72h4v4h-4zM116 76h4v4h-4zM112 84h4v4h-4zM60 88h4v4h-4zM60 92h4v4h-4zM104 92h4v4h-4zM84 96h16v4h-16zM72 100h4v4h-4z"/><path fill="#7a7a7a" d="M96 20h4v4h-4zM68 24h4v4h-4zM80 96h4v4h-4z"/><path fill="#7b7b7b" d="M84 20h4v4h-4zM92 20h4v4h-4zM120 36h4v4h-4zM120 64h4v4h-4zM116 72h4v4h-4zM60 76h4v4h-4zM64 96h4v4h-4zM76 96h4v4h-4z"/><path fill="#7c7c7c" d="M108 24h4v4h-4zM124 52h4v4h-4zM124 56h4v4h-4zM112 80h4v4h-4zM108 84h4v4h-4zM100 92h4v4h-4z"/><path fill="#7d7d7d" d="M88 20h4v4h-4zM116 68h4v4h-4zM104 88h4v4h-4zM80 92h4v4h-4zM72 96h4v4h-4z"/><path fill="#7e7e7e" d="M72 24h4v4h-4zM60 36h4v4h-4zM112 76h4v4h-4zM84 92h16v4h-16zM68 96h4v4h-4z"/><path fill="#7f7f7f" d="M56 64h4v4h-4zM76 92h4v4h-4z"/><path fill="#808080" d="M76 24h4v4h-4zM112 28h4v4h-4zM120 40h4v4h-4zM56 68h4v4h-4zM112 72h4v4h-4zM108 80h4v4h-4z"/><path fill="#818181" d="M60 56h4v4h-4zM120 60h4v4h-4zM116 64h4v4h-4zM104 84h4v4h-4zM100 88h4v4h-4zM64 92h4v4h-4zM72 92h4v4h-4z"/><path fill="#828282" d="M60 40h4v4h-4z"/><path fill="#838383" d="M112 68h4v4h-4zM108 76h4v4h-4zM64 88h4v4h-4zM80 88h8v4h-8zM96 88h4v4h-4zM68 92h4v4h-4z"/><path fill="#848484" d="M64 28h4v4h-4zM120 44h4v4h-4zM60 52h4v4h-4zM64 84h4v4h-4zM76 88h4v4h-4zM88 88h8v4h-8z"/><path fill="#858585" d="M80 24h4v4h-4zM104 24h4v4h-4zM104 80h4v4h-4zM100 84h4v4h-4z"/><path fill="#868686" d="M116 32h4v4h-4zM60 44h4v4h-4zM120 48h4v4h-4zM72 88h4v4h-4z"/><path fill="#878787" d="M60 48h4v4h-4zM120 56h4v4h-4zM116 60h4v4h-4zM108 72h4v4h-4zM68 88h4v4h-4z"/><path fill="#888888" d="M120 52h4v4h-4zM60 60h4v4h-4zM112 64h4v4h-4zM96 84h4v4h-4z"/><path fill="#898989" d="M60 72h4v4h-4zM104 76h4v4h-4z"/><path fill="#8a8a8a" d="M100 24h4v4h-4zM108 68h4v4h-4zM64 80h4v4h-4zM100 80h4v4h-4zM76 84h8v4h-8zM92 84h4v4h-4z"/><path fill="#8b8b8b" d="M92 24h8v4h-8zM68 84h8v4h-8zM84 84h8v4h-8z"/><path fill="#8c8c8c" d="M84 24h4v4h-4zM116 56h4v4h-4z"/><path fill="#8d8d8d" d="M88 24h4v4h-4zM68 28h4v4h-4zM112 60h4v4h-4zM104 72h4v4h-4z"/><path fill="#8e8e8e" d="M108 28h4v4h-4zM116 36h4v4h-4zM96 80h4v4h-4z"/><path fill="#8f8f8f" d="M108 64h4v4h-4zM100 76h4v4h-4z"/><path fill="#909090" d="M72 28h4v4h-4zM116 52h4v4h-4z"/><path fill="#919191" d="M112 32h4v4h-4zM116 40h4v4h-4zM104 68h4v4h-4zM64 76h4v4h-4zM68 80h8v4h-8zM92 80h4v4h-4z"/><path fill="#929292" d="M76 28h4v4h-4zM116 44h4v4h-4zM116 48h4v4h-4zM60 64h4v4h-4zM76 80h4v4h-4z"/><path fill="#939393" d="M112 56h4v4h-4zM100 72h4v4h-4zM80 80h4v4h-4zM88 80h4v4h-4z"/><path fill="#949494" d="M64 32h4v4h-4zM108 60h4v4h-4zM60 68h4v4h-4zM96 76h4v4h-4zM84 80h4v4h-4z"/><path fill="#969696" d="M64 48h4v4h-4zM64 52h4v4h-4zM104 64h4v4h-4z"/><path fill="#979797" d="M80 28h4v4h-4zM64 40h4v4h-4zM64 44h4v4h-4zM64 56h4v4h-4z"/><path fill="#989898" d="M100 68h4v4h-4z"/><path fill="#999999" d="M64 36h4v4h-4zM112 52h4v4h-4zM64 72h4v4h-4zM96 72h4v4h-4zM68 76h4v4h-4zM92 76h4v4h-4z"/><path fill="#9a9a9a" d="M96 28h4v4h-4zM108 32h4v4h-4zM112 36h4v4h-4zM108 56h4v4h-4z"/><path fill="#9b9b9b" d="M92 28h4v4h-4zM64 60h4v4h-4zM104 60h4v4h-4zM72 76h4v4h-4z"/><path fill="#9c9c9c" d="M104 28h4v4h-4zM68 32h4v4h-4z"/><path fill="#9d9d9d" d="M100 28h4v4h-4zM112 48h4v4h-4zM76 76h4v4h-4zM88 76h4v4h-4z"/><path fill="#9e9e9e" d="M84 28h4v4h-4zM72 32h4v4h-4zM112 40h4v4h-4zM100 64h4v4h-4z"/><path fill="#9f9f9f" d="M88 28h4v4h-4zM112 44h4v4h-4zM96 68h4v4h-4zM80 76h4v4h-4z"/><path fill="#a0a0a0" d="M84 76h4v4h-4z"/><path fill="#a1a1a1" d="M76 32h4v4h-4zM108 36h4v4h-4zM108 52h4v4h-4zM64 64h4v4h-4zM92 72h4v4h-4z"/><path fill="#a2a2a2" d="M96 32h4v4h-4zM104 32h4v4h-4zM104 56h4v4h-4zM64 68h4v4h-4zM68 72h4v4h-4z"/><path fill="#a3a3a3" d="M100 32h4v4h-4zM68 36h4v4h-4zM68 40h4v4h-4z"/><path fill="#a4a4a4" d="M68 52h4v4h-4zM68 56h4v4h-4z"/><path fill="#a5a5a5" d="M80 32h4v4h-4zM68 44h4v4h-4zM68 48h4v4h-4zM100 60h4v4h-4z"/><path fill="#a6a6a6" d="M92 32h4v4h-4zM72 36h4v4h-4zM72 72h4v4h-4z"/><path fill="#a7a7a7" d="M104 36h4v4h-4zM108 40h4v4h-4zM108 48h4v4h-4zM96 64h4v4h-4z"/><path fill="#a8a8a8" d="M68 60h4v4h-4zM68 68h4v4h-4zM88 72h4v4h-4z"/><path fill="#a9a9a9" d="M84 32h4v4h-4zM76 36h4v4h-4zM100 36h4v4h-4zM108 44h4v4h-4z"/><path fill="#aaaaaa" d="M88 32h4v4h-4zM96 36h4v4h-4zM104 52h4v4h-4zM68 64h4v4h-4zM92 68h4v4h-4zM76 72h4v4h-4z"/><path fill="#ababab" d="M72 40h4v4h-4zM100 56h4v4h-4z"/><path fill="#acacac" d="M80 36h4v4h-4z"/><path fill="#adadad" d="M92 36h4v4h-4zM104 40h4v4h-4zM72 68h4v4h-4zM80 72h8v4h-8z"/><path fill="#aeaeae" d="M76 40h4v4h-4z"/><path fill="#afafaf" d="M84 36h4v4h-4zM72 44h4v4h-4z"/><path fill="#b0b0b0" d="M88 36h4v4h-4z"/><path fill="#b1b1b1" d="M104 44h4v4h-4zM104 48h4v4h-4z"/><path fill="#b2b2b2" d="M80 40h4v4h-4zM100 40h4v4h-4zM96 60h4v4h-4zM72 64h4v4h-4z"/><path fill="#b3b3b3" d="M84 40h4v4h-4zM72 48h4v4h-4zM92 64h4v4h-4z"/><path fill="#b4b4b4" d="M88 40h4v4h-4zM96 40h4v4h-4zM100 52h4v4h-4zM88 68h4v4h-4z"/><path fill="#b5b5b5" d="M92 40h4v4h-4zM76 44h4v4h-4zM72 52h4v4h-4zM72 60h4v4h-4zM76 68h4v4h-4z"/><path fill="#b6b6b6" d="M72 56h4v4h-4z"/><path fill="#b7b7b7" d="M100 44h4v4h-4z"/><path fill="#b9b9b9" d="M80 44h4v4h-4zM100 48h4v4h-4zM80 68h8v4h-8z"/><path fill="#bbbbbb" d="M84 44h8v4h-8zM96 44h4v4h-4z"/><path fill="#bcbcbc" d="M92 44h4v4h-4zM76 48h4v4h-4zM96 56h4v4h-4zM76 64h4v4h-4z"/><path fill="#bdbdbd" d="M92 60h4v4h-4zM88 64h4v4h-4z"/><path fill="#c0c0c0" d="M80 48h4v4h-4zM96 48h4v4h-4zM76 52h4v4h-4zM76 60h4v4h-4z"/><path fill="#c2c2c2" d="M84 48h4v4h-4zM92 48h4v4h-4zM96 52h4v4h-4zM76 56h4v4h-4zM80 64h8v4h-8z"/><path fill="#c3c3c3" d="M88 48h4v4h-4z"/><path fill="#c4c4c4" d="M88 60h4v4h-4z"/><path fill="#c6c6c6" d="M80 52h4v4h-4zM92 56h4v4h-4zM80 60h4v4h-4z"/><path fill="#c7c7c7" d="M80 56h4v4h-4zM84 60h4v4h-4z"/><path fill="#c8c8c8" d="M84 52h4v4h-4zM92 52h4v4h-4z"/><path fill="#c9c9c9" d="M88 52h4v4h-4zM84 56h8v4h-8z"/></g><path d="M87.4 45.7 83.9 42.9 80.4 38.9 76.9 33.8 73.4 31.6 69.9 30.5 66.4 29.9 62.6 28.8 61.2 23.7 60.5 19.2 61.5 13.5 62.9 8.5 61.2 2.8 60.1 -5.6M80.7 36.1 81.8 31 82.8 25.4 84.2 19.7 84.9 12.4 85.6 6.8 84.6 1.1 84.6 -5.6M91.6 47.4 89.1 52.5 86 58.1 82.8 63.2 79.7 68.8 76.2 74.4 73.7 77.6 71.3 81.2 68.8 84.6 68.5 89.1 69.9 93.6 72 98.1 74.8 101.5 77.6 104.9 81.1 108.9 85.6 113.9M82.5 49.6 79.3 54.1 75.5 58.7 72.3 63.2 70.6 69.1 66.4 73.3 61.9 77.8 57.3 80.7 53.1 86.3 48.9 89.1M66.7 42.9 64.3 49.6 61.5 55.3 58 59.8 53.8 65.4 49.6 69.9 43.3 72.2 40.2 79 41.2 87.4M70.6 45.7 67.1 39.5 62.2 36.7 57.3 35 52.4 31.6 47.2 27.1 41.9 23.1 36.7 21.4 31.5 18M40.2 53.6 38.4 60.9 36 67.7 36.7 75.6 38.4 81.8 38.8 89.1 40.2 93.1 41.9 98.7M40.2 53.6 35.6 54.1 31.5 54.7 27.3 56.4 24.1 59.2 23.1 64.9 25.5 72.2 27.3 79 29.4 84.6M105.9 41.7 104.1 47.4 101.3 52.5 99.2 58.1 97.1 64.3 95.8 69.9 94.4 76.7 93.3 83.5 92.3 91.4 91.2 98.7 89.8 106M114.6 37.2 115.3 42.9 114.3 48.5 112.5 54.1 112.9 60.9 113.9 67.7 112.2 75.6 111.1 83.5 111.5 91.4 110.8 99.3 110.1 107.2M125.1 38.4 124.4 44 123.7 49.6 125.5 57.5 127.6 63.7 128.2 69.9 129.3 76.7 128.2 85.7 127.9 93.1 128.2 100.4 127.6 110 127.2 116.2M127.9 58.1 126.2 64.9 124.1 72.2 122.7 79 121.3 86.3 120.6 93.1 120.2 100.4 118.5 107.2 116 113.9M169.8 87.4 166 82.3 162.1 80.1 158 80.1 153.8 82.3 149.6 87.4 146.8 91.4 144.7 98.1 142.2 106 139.8 115.6M151.3 44.6 149.2 49.6 147.5 56.4 145 63.2 141.9 69.9 139.1 76.1 137 83.5" fill="none" stroke="#2050c8" stroke-width=".45" stroke-opacity=".55"/><path d="M29.7 54.1 33.2 53.6 36.7 53 40.2 51.9 41.2 49.3 45.4 50.8 49.3 50.8 52.4 52.5 55.9 48.5 59.4 46.2 62.9 44 66.4 45.1 68.8 46.2 70.9 47.1 73.7 49.6 76.5 51 80.4 49.6 83.9 47.4 87.4 46 90.9 46.2 93 46 96.1 44 98.9 42.9 103.1 39.2 105.9 41.7 110.1 38.4 113.6 36.7 116.7 35.5 118.8 32.7 121.3 29.9" fill="none" stroke="#2a2ab0" stroke-width=".75" stroke-opacity=".9"/></g></g><g clip-path="url(#mbox)"><path d="M26.9 -22.6 26.6 -8.5 26.2 -2.8 26.7 2.8 27.1 5.6 26.6 9 25.5 12.4 23.8 14.1 22.4 15.8 21.7 18 21 19.2 18.9 22 17.5 23.7 17.1 25.9 15.9 29.9 15.7 31.6 14.3 34.4 14.5 37.2 14 40.6 15 41.7 16.4 42.9 17.8 42.3 18.2 44.6 17.5 46.2 16.4 47.4 15.4 48.5 14 50.8 12.9 53.6 12.9 55.3 13.6 57 13.3 59.8 14.3 61.5 15.4 63.2 17.8 67.1 19.2 70.5 21 74.4 22.4 78.4 23.4 82.3 24.8 87.4 25.9 91.4 27.3 95.3 28.7 98.7 30.1 102.6 30.4 106 31.5 108.9 33.2 112.8 34.9 116.2 36.7 121.3 36.7 126.9M160.7 116.2 160.7 111.7 160.7 107.2 161.1 104.3 162.5 101.5 163.2 99.3 164.6 96.4 166 93.6 167.4 90.2 169.1 88 170.2 86.3 171.9 84.3 173.3 81.8 174.6 79 174.9 76.1 175.1 73.3 175.4 70.5 175.4 68.2 175.1 66 174.7 63.2 174 59.8 173.3 57.5 173 57.2 171.2 56.7 169.1 56.7 167 55.8 165.6 54.1 164.2 51.9 162.5 49.1 160.7 46.8 158.7 45.1 156.2 44.3 153.8 44.6 151.3 44.3 149.2 42.9 146.8 41.7 144.7 41.2 143.3 42.3 142.2 42.9 141.9 40.6 140.8 37.8 138.7 36.7 136.3 34.4 134.2 33.6 132.1 31.9 130.3 31.6 128.9 32.7 128.2 35.5 127.7 38.9 126.7 38.9 127.2 35 127.6 31.6 126.2 29.3 124.4 28.8 122.3 28.8 121.3 26.5 121.3 23.1 120.6 20.9 120.6 18 119.5 15.8 119.2 13.5 118.8 10.2 118.1 5.6 117.1 3.4 115.7 2.3 114.3 0.6 112.9 -1.1 110.1 -3.4 108.3 -4.5 104.8 -5.6 104.8 -22.6M122 29 120.6 30.2 119.3 33.3 118.6 37.2 119.7 37.5 120.4 33.8 121.4 31.3Z" fill="none" stroke="#e9e4d6" stroke-width=".8"/></g><path d="M38.4 0V112.8M76.9 0V112.8M115.3 0V112.8M153.8 0V112.8M0 28.2H192.2M0 56.4H192.2M0 84.6H192.2" stroke="#000" stroke-opacity=".08" stroke-width=".5" fill="none"/><path d="M38.4 0v3M38.4 112.8v-3M76.9 0v3M76.9 112.8v-3M115.3 0v3M115.3 112.8v-3M153.8 0v3M153.8 112.8v-3M0 28.2h3.5M192.2 28.2h-3.5M0 56.4h3.5M192.2 56.4h-3.5M0 84.6h3.5M192.2 84.6h-3.5" stroke="#262626" stroke-opacity=".55" stroke-width=".6" fill="none"/><rect x=".3" y=".3" width="191.6" height="112.2" fill="none" stroke="#262626" stroke-opacity=".35" stroke-width=".6"/><circle cx="118.4" cy="28.6" r="2.3" fill="#c8c8c8"/><circle cx="113.5" cy="33.0" r="2.3" fill="#d7d7d7"/><circle cx="87.2" cy="45.9" r="2.3" fill="#f5f5f5"/><circle cx="98.7" cy="43.4" r="2.3" fill="#f0f0f0"/><circle cx="105.8" cy="42.3" r="2.3" fill="#ebebeb"/><circle cx="114.9" cy="46.6" r="2.3" fill="#d7d7d7"/><circle cx="70.7" cy="47.4" r="2.3" fill="#ebebeb"/><circle cx="93.0" cy="46.3" r="2.3" fill="#f5f5f5"/><circle cx="68.9" cy="55.7" r="2.3" fill="#bebebe"/><circle cx="100.9" cy="52.6" r="2.3" fill="#c3c3c3"/><circle cx="76.5" cy="70.8" r="2.3" fill="#ebebeb"/><circle cx="73.7" cy="77.6" r="2.3" fill="#ebebeb"/><circle cx="60.2" cy="84.7" r="2.3" fill="#c3c3c3"/><circle cx="80.5" cy="89.7" r="2.3" fill="#afafaf"/><circle cx="68.5" cy="89.1" r="2.3" fill="#a0a0a0"/><circle cx="91.7" cy="93.1" r="2.3" fill="#b4b4b4"/><circle cx="103.2" cy="89.3" r="2.3" fill="#cdcdcd"/><circle cx="119.5" cy="94.0" r="2.3" fill="#f0f0f0"/><circle cx="102.2" cy="98.9" r="2.3" fill="#c3c3c3"/><circle cx="85.5" cy="102.3" r="2.3" fill="#d7d7d7"/><circle cx="114.1" cy="105.0" r="2.3" fill="#0a0a0a"/><circle cx="114.1" cy="110.6" r="2.3" fill="#ebebeb"/><g font-size="4.9" fill="#111"><text x="106.9" y="25.9">APS1</text><text x="99.8" y="31.7">APLJ</text><text x="75.8" y="42.8">AMUA</text><text x="90.5" y="41.2">AMPR</text><text x="108.0" y="44.1">PASM</text><text x="117.8" y="48.5">PAAR</text><text x="54.7" y="51.7">AMTE</text><text x="87.2" y="52.4">ITAM</text><text x="51.0" y="57.5">AMCO</text><text x="97.0" y="59.7">PAIT</text><text x="79.9" y="72.5">AMHA</text><text x="77.0" y="79.5">POVE</text><text x="55.4" y="81.4">RIOB</text><text x="75.2" y="86.7">ROJI</text><text x="61.9" y="95.6">ROGM</text><text x="87.0" y="90.2">MTJI</text><text x="106.0" y="91.0">MTCO</text><text x="123.0" y="95.6">MTSF</text><text x="104.9" y="101.0">MTSR</text><text x="79.8" y="109.8">ROCD</text><text x="117.5" y="106.8">MTCN</text><text x="117.1" y="112.6">MTNX</text></g><text class="tt" x="156.4" y="11.2" text-anchor="middle" font-size="7.6" font-weight="bold" fill="#fff">(e) JPL SH</text></g><rect x="24.05" y="348.9" width="192.2" height="3.9" fill="url(#gbar)" stroke="#d8d8d8" stroke-width=".5"/><path d="M56.1 348.9v1M56.1 352.8v-1M88.1 348.9v1M88.1 352.8v-1M120.1 348.9v1M120.1 352.8v-1M152.2 348.9v1M152.2 352.8v-1M184.2 348.9v1M184.2 352.8v-1" stroke="#666" stroke-width=".5"/><g class="t" font-size="7.5" fill="#141414" text-anchor="middle"><text x="24.1" y="345.2">0.76</text><text x="56.1" y="345.2">0.8</text><text x="88.1" y="345.2">0.84</text><text x="120.1" y="345.2">0.88</text><text x="152.2" y="345.2">0.92</text><text x="184.2" y="345.2">0.96</text><text x="216.2" y="345.2">1</text><text x="120.1" y="335.7">Correlation Coefficient</text><text x="24.1" y="478.2">85° W</text><text x="62.5" y="478.2">74° W</text><text x="100.9" y="478.2">63° W</text><text x="139.4" y="478.2">52° W</text><text x="177.8" y="478.2">41° W</text><text x="216.2" y="478.2">30° W</text></g><g class="t" font-size="7.5" fill="#141414" text-anchor="end"><text x="22.1" y="358.7">5° N</text><text x="22.1" y="386.9">0°</text><text x="22.1" y="415.1">5° S</text><text x="22.1" y="443.3">10° S</text><text x="22.1" y="471.5">15° S</text></g><rect x="228.5" y="356.0" width="4.2" height="112.8" fill="url(#jbar)"/><g class="t" font-size="7.5" fill="#141414"><text x="235.1" y="471.5">0</text><text x="235.1" y="448.9">5</text><text x="235.1" y="426.4">10</text><text x="235.1" y="403.8">15</text><text x="235.1" y="381.3">20</text><text x="235.1" y="358.7">25</text><g transform="translate(251.8 412.4) rotate(-90)"><text text-anchor="middle">Annual Amplitude (mm)</text></g></g><g transform="translate(316.3 356.0)"><rect width="192.2" height="112.8" fill="#6a6a6a"/><g clip-path="url(#mbox)"><g clip-path="url(#land)"><g filter="url(#jet)"><path fill="#000000" d="M168 -8h36v4h-36zM172 -4h32v4h-32zM172 0h32v4h-32zM172 4h32v4h-32zM176 8h28v4h-28zM176 12h28v4h-28zM176 16h28v4h-28zM176 20h28v4h-28zM176 24h28v4h-28zM176 28h28v4h-28zM180 32h24v4h-24zM180 36h24v4h-24zM180 40h24v4h-24zM180 44h24v4h-24zM180 48h24v4h-24zM180 52h24v4h-24zM180 56h24v4h-24zM180 60h24v4h-24zM180 64h24v4h-24zM180 68h24v4h-24zM180 72h24v4h-24zM180 76h24v4h-24zM180 80h24v4h-24zM180 84h24v4h-24zM180 88h24v4h-24zM180 92h24v4h-24zM180 96h24v4h-24zM180 100h24v4h-24zM176 104h28v4h-28zM176 108h28v4h-28zM176 112h28v4h-28zM176 116h28v4h-28zM176 120h28v4h-28z"/><path fill="#010101" d="M168 -4h4v4h-4zM172 8h4v4h-4zM176 32h4v4h-4zM176 100h4v4h-4z"/><path fill="#020202" d="M176 36h4v4h-4zM176 40h4v4h-4zM176 96h4v4h-4zM172 116h4v4h-4zM172 120h4v4h-4z"/><path fill="#030303" d="M168 0h4v4h-4zM172 12h4v4h-4zM176 44h4v4h-4zM176 92h4v4h-4zM172 112h4v4h-4z"/><path fill="#040404" d="M172 16h4v4h-4zM176 48h4v4h-4zM176 88h4v4h-4zM172 108h4v4h-4z"/><path fill="#050505" d="M164 -8h4v4h-4zM176 84h4v4h-4zM172 104h4v4h-4z"/><path fill="#060606" d="M168 4h4v4h-4zM172 20h4v4h-4zM176 52h4v4h-4zM176 80h4v4h-4z"/><path fill="#070707" d="M164 -4h4v4h-4zM172 24h4v4h-4zM176 56h4v4h-4zM176 60h4v4h-4zM176 76h4v4h-4zM172 100h4v4h-4zM168 120h4v4h-4z"/><path fill="#080808" d="M168 8h4v4h-4zM172 28h4v4h-4zM172 32h4v4h-4zM176 64h4v4h-4zM176 68h4v4h-4zM176 72h4v4h-4zM172 96h4v4h-4zM168 116h4v4h-4z"/><path fill="#090909" d="M172 36h4v4h-4zM172 92h4v4h-4zM168 112h4v4h-4z"/><path fill="#0a0a0a" d="M160 -8h4v4h-4zM164 0h4v4h-4zM168 12h4v4h-4zM172 40h4v4h-4zM168 108h4v4h-4z"/><path fill="#0b0b0b" d="M172 44h4v4h-4zM172 88h4v4h-4zM168 104h4v4h-4z"/><path fill="#0c0c0c" d="M164 4h4v4h-4zM168 16h4v4h-4zM172 48h4v4h-4zM172 84h4v4h-4z"/><path fill="#0d0d0d" d="M160 -4h4v4h-4zM168 20h4v4h-4zM172 52h4v4h-4zM172 80h4v4h-4zM168 100h4v4h-4zM164 120h4v4h-4z"/><path fill="#0e0e0e" d="M168 24h4v4h-4zM172 76h4v4h-4zM168 96h4v4h-4zM164 116h4v4h-4z"/><path fill="#0f0f0f" d="M156 -8h4v4h-4zM164 8h4v4h-4zM168 28h4v4h-4zM172 56h4v4h-4zM172 60h4v4h-4zM172 72h4v4h-4zM164 112h4v4h-4z"/><path fill="#101010" d="M160 0h4v4h-4zM168 32h4v4h-4zM172 64h4v4h-4zM172 68h4v4h-4zM168 92h4v4h-4zM164 108h4v4h-4z"/><path fill="#111111" d="M164 12h4v4h-4zM168 36h4v4h-4zM168 40h4v4h-4zM164 104h4v4h-4z"/><path fill="#121212" d="M156 -4h4v4h-4zM160 4h4v4h-4zM28 44h4v4h-4zM168 44h4v4h-4zM168 88h4v4h-4z"/><path fill="#131313" d="M164 16h4v4h-4zM28 48h4v4h-4zM168 84h4v4h-4zM164 100h4v4h-4zM160 120h4v4h-4z"/><path fill="#141414" d="M28 40h4v4h-4zM24 44h4v4h-4zM24 48h4v4h-4zM168 48h4v4h-4zM160 116h4v4h-4z"/><path fill="#151515" d="M152 -8h4v4h-4zM160 8h4v4h-4zM164 20h4v4h-4zM24 40h4v4h-4zM32 44h4v4h-4zM32 48h4v4h-4zM168 80h4v4h-4zM164 96h4v4h-4zM160 112h4v4h-4z"/><path fill="#161616" d="M156 0h4v4h-4zM28 36h4v4h-4zM32 40h4v4h-4zM168 52h4v4h-4zM168 76h4v4h-4zM164 92h4v4h-4zM160 108h4v4h-4z"/><path fill="#171717" d="M164 24h4v4h-4zM24 36h4v4h-4zM20 44h4v4h-4zM20 48h4v4h-4zM168 56h4v4h-4zM168 72h4v4h-4zM160 104h4v4h-4z"/><path fill="#181818" d="M152 -4h4v4h-4zM160 12h4v4h-4zM164 28h4v4h-4zM28 32h4v4h-4zM32 36h4v4h-4zM20 40h4v4h-4zM24 52h8v4h-8zM168 60h4v4h-4zM168 64h4v4h-4zM168 68h4v4h-4zM28 80h4v4h-4zM24 84h8v4h-8zM24 88h8v4h-8zM164 88h4v4h-4z"/><path fill="#191919" d="M156 4h4v4h-4zM24 32h4v4h-4zM164 32h4v4h-4zM164 36h4v4h-4zM20 52h4v4h-4zM32 52h4v4h-4zM20 88h4v4h-4zM24 92h8v4h-8zM160 100h4v4h-4zM156 120h4v4h-4z"/><path fill="#1a1a1a" d="M148 -8h4v4h-4zM28 28h4v4h-4zM32 32h4v4h-4zM164 40h4v4h-4zM24 80h4v4h-4zM20 84h4v4h-4zM164 84h4v4h-4zM16 88h4v4h-4zM20 92h4v4h-4zM156 116h4v4h-4z"/><path fill="#1b1b1b" d="M152 0h4v4h-4zM32 8h4v4h-4zM32 12h4v4h-4zM28 16h8v4h-8zM160 16h4v4h-4zM28 20h4v4h-4zM28 24h4v4h-4zM24 28h4v4h-4zM32 28h4v4h-4zM20 36h4v4h-4zM16 44h4v4h-4zM164 44h4v4h-4zM16 48h4v4h-4zM32 80h4v4h-4zM16 84h4v4h-4zM16 92h4v4h-4zM24 96h8v4h-8zM160 96h4v4h-4zM156 112h4v4h-4z"/><path fill="#1c1c1c" d="M32 0h4v4h-4zM32 4h4v4h-4zM28 8h4v4h-4zM156 8h4v4h-4zM28 12h4v4h-4zM24 20h4v4h-4zM32 20h4v4h-4zM24 24h4v4h-4zM32 24h4v4h-4zM20 32h4v4h-4zM16 40h4v4h-4zM164 48h4v4h-4zM28 76h4v4h-4zM20 80h4v4h-4zM164 80h4v4h-4zM12 84h4v4h-4zM32 84h4v4h-4zM12 88h4v4h-4zM32 88h4v4h-4zM12 92h4v4h-4zM32 92h4v4h-4zM16 96h8v4h-8zM32 96h4v4h-4zM156 108h4v4h-4z"/><path fill="#1d1d1d" d="M148 -4h4v4h-4zM36 0h4v4h-4zM28 4h4v4h-4zM36 4h4v4h-4zM36 8h4v4h-4zM24 12h4v4h-4zM36 12h4v4h-4zM24 16h4v4h-4zM160 20h4v4h-4zM20 28h4v4h-4zM36 40h4v4h-4zM36 44h4v4h-4zM16 52h4v4h-4zM20 56h4v4h-4zM32 76h4v4h-4zM16 80h4v4h-4zM8 88h4v4h-4zM8 92h4v4h-4zM160 92h4v4h-4zM12 96h4v4h-4zM32 100h4v4h-4zM156 104h4v4h-4z"/><path fill="#1e1e1e" d="M32 -4h4v4h-4zM28 0h4v4h-4zM24 4h4v4h-4zM24 8h4v4h-4zM36 16h4v4h-4zM20 20h4v4h-4zM20 24h4v4h-4zM16 36h4v4h-4zM36 36h4v4h-4zM36 48h4v4h-4zM164 52h4v4h-4zM16 56h4v4h-4zM24 56h4v4h-4zM24 76h4v4h-4zM164 76h4v4h-4zM8 80h8v4h-8zM8 84h4v4h-4zM4 88h4v4h-4zM8 96h4v4h-4zM16 100h12v4h-12z"/><path fill="#1f1f1f" d="M144 -8h4v4h-4zM28 -4h4v4h-4zM36 -4h4v4h-4zM24 0h4v4h-4zM152 4h4v4h-4zM20 12h4v4h-4zM156 12h4v4h-4zM20 16h4v4h-4zM36 20h4v4h-4zM36 24h4v4h-4zM160 24h4v4h-4zM36 28h4v4h-4zM36 32h4v4h-4zM12 44h4v4h-4zM12 48h4v4h-4zM12 52h4v4h-4zM12 76h12v4h-12zM4 80h4v4h-4zM4 84h4v4h-4zM160 88h4v4h-4zM4 92h4v4h-4zM4 96h4v4h-4zM8 100h8v4h-8zM28 100h4v4h-4zM156 100h4v4h-4z"/><path fill="#202020" d="M24 -4h4v4h-4zM20 4h4v4h-4zM20 8h4v4h-4zM16 20h4v4h-4zM16 24h4v4h-4zM16 28h4v4h-4zM16 32h4v4h-4zM12 40h4v4h-4zM12 56h4v4h-4zM164 56h4v4h-4zM16 60h8v4h-8zM12 72h4v4h-4zM164 72h4v4h-4zM4 76h8v4h-8zM0 84h4v4h-4zM0 88h4v4h-4zM0 92h4v4h-4zM0 96h4v4h-4zM4 100h4v4h-4zM152 120h4v4h-4z"/><path fill="#212121" d="M24 -8h12v4h-12zM20 -4h4v4h-4zM20 0h4v4h-4zM148 0h4v4h-4zM16 8h4v4h-4zM16 12h4v4h-4zM16 16h4v4h-4zM160 28h4v4h-4zM12 36h4v4h-4zM8 44h4v4h-4zM8 48h4v4h-4zM8 52h4v4h-4zM12 60h4v4h-4zM164 60h4v4h-4zM12 64h8v4h-8zM164 64h4v4h-4zM8 68h12v4h-12zM164 68h4v4h-4zM4 72h8v4h-8zM16 72h8v4h-8zM0 76h4v4h-4zM0 80h4v4h-4zM-4 84h4v4h-4zM-4 88h4v4h-4zM-4 92h4v4h-4zM156 96h4v4h-4zM0 100h4v4h-4zM8 104h20v4h-20zM152 112h4v4h-4zM152 116h4v4h-4z"/><path fill="#222222" d="M20 -8h4v4h-4zM36 -8h4v4h-4zM144 -4h4v4h-4zM16 0h4v4h-4zM16 4h4v4h-4zM40 4h4v4h-4zM40 8h4v4h-4zM152 8h4v4h-4zM40 12h4v4h-4zM156 16h4v4h-4zM12 28h4v4h-4zM12 32h4v4h-4zM160 32h4v4h-4zM160 36h4v4h-4zM8 40h4v4h-4zM160 40h4v4h-4zM8 56h4v4h-4zM8 60h4v4h-4zM4 64h8v4h-8zM4 68h4v4h-4zM0 72h4v4h-4zM24 72h4v4h-4zM-4 76h4v4h-4zM-4 80h4v4h-4zM160 84h4v4h-4zM-8 88h4v4h-4zM-8 92h4v4h-4zM-4 96h4v4h-4zM-4 100h4v4h-4zM4 104h4v4h-4zM28 104h4v4h-4zM152 108h4v4h-4z"/><path fill="#232323" d="M16 -8h4v4h-4zM140 -8h4v4h-4zM16 -4h4v4h-4zM40 0h4v4h-4zM12 4h4v4h-4zM12 8h4v4h-4zM12 12h4v4h-4zM12 16h4v4h-4zM40 16h4v4h-4zM12 20h4v4h-4zM12 24h4v4h-4zM8 36h4v4h-4zM160 44h4v4h-4zM4 48h4v4h-4zM4 52h4v4h-4zM4 56h4v4h-4zM4 60h4v4h-4zM0 64h4v4h-4zM20 64h4v4h-4zM0 68h4v4h-4zM20 68h4v4h-4zM-4 72h4v4h-4zM28 72h4v4h-4zM-8 76h4v4h-4zM-8 80h4v4h-4zM-8 84h4v4h-4zM-8 96h4v4h-4zM36 96h4v4h-4zM36 100h4v4h-4zM0 104h4v4h-4zM32 104h4v4h-4zM152 104h4v4h-4zM8 108h12v4h-12z"/><path fill="#242424" d="M12 -8h4v4h-4zM12 -4h4v4h-4zM12 0h4v4h-4zM148 4h4v4h-4zM8 20h4v4h-4zM40 20h4v4h-4zM8 24h4v4h-4zM8 28h4v4h-4zM8 32h4v4h-4zM4 40h4v4h-4zM4 44h4v4h-4zM36 52h4v4h-4zM0 56h4v4h-4zM28 56h4v4h-4zM0 60h4v4h-4zM24 60h4v4h-4zM-4 64h4v4h-4zM-4 68h4v4h-4zM-8 72h4v4h-4zM160 80h4v4h-4zM156 92h4v4h-4zM-8 100h4v4h-4zM152 100h4v4h-4zM-4 104h4v4h-4zM0 108h8v4h-8zM20 108h4v4h-4z"/><path fill="#252525" d="M8 -8h4v4h-4zM8 -4h4v4h-4zM40 -4h4v4h-4zM8 0h4v4h-4zM8 4h4v4h-4zM8 8h4v4h-4zM8 12h4v4h-4zM8 16h4v4h-4zM156 20h4v4h-4zM40 24h4v4h-4zM4 36h4v4h-4zM0 44h4v4h-4zM0 48h4v4h-4zM160 48h4v4h-4zM0 52h4v4h-4zM-4 56h4v4h-4zM-4 60h4v4h-4zM-8 64h4v4h-4zM-8 68h4v4h-4zM36 88h4v4h-4zM36 92h4v4h-4zM-8 104h4v4h-4zM-4 108h4v4h-4zM24 108h4v4h-4z"/><path fill="#262626" d="M4 -8h4v4h-4zM4 -4h4v4h-4zM4 0h4v4h-4zM144 0h4v4h-4zM4 4h4v4h-4zM4 8h4v4h-4zM4 12h4v4h-4zM152 12h4v4h-4zM4 16h4v4h-4zM4 20h4v4h-4zM4 24h4v4h-4zM4 28h4v4h-4zM4 32h4v4h-4zM0 40h4v4h-4zM-4 48h4v4h-4zM-4 52h4v4h-4zM-8 60h4v4h-4zM24 68h4v4h-4zM160 76h4v4h-4zM36 84h4v4h-4zM156 88h4v4h-4zM-8 108h4v4h-4zM0 112h16v4h-16z"/><path fill="#272727" d="M40 -8h4v4h-4zM136 -8h4v4h-4zM140 -4h4v4h-4zM0 28h4v4h-4zM40 28h4v4h-4zM0 32h4v4h-4zM0 36h4v4h-4zM-4 40h4v4h-4zM-4 44h4v4h-4zM-8 52h4v4h-4zM-8 56h4v4h-4zM24 64h4v4h-4zM152 96h4v4h-4zM28 108h4v4h-4zM-8 112h8v4h-8zM16 112h4v4h-4zM148 120h4v4h-4z"/><path fill="#282828" d="M0 -8h4v4h-4zM0 -4h4v4h-4zM0 0h4v4h-4zM0 4h4v4h-4zM0 8h4v4h-4zM148 8h4v4h-4zM0 12h4v4h-4zM0 16h4v4h-4zM0 20h4v4h-4zM0 24h4v4h-4zM156 24h4v4h-4zM-4 32h4v4h-4zM40 32h4v4h-4zM-4 36h4v4h-4zM-8 44h4v4h-4zM-8 48h4v4h-4zM160 52h4v4h-4zM32 56h4v4h-4zM160 72h4v4h-4zM20 112h4v4h-4zM0 116h12v4h-12zM148 116h4v4h-4z"/><path fill="#292929" d="M-4 -8h4v4h-4zM-4 -4h4v4h-4zM-4 0h4v4h-4zM-4 4h4v4h-4zM-4 8h4v4h-4zM-4 12h4v4h-4zM-4 16h4v4h-4zM-4 20h4v4h-4zM-4 24h4v4h-4zM-4 28h4v4h-4zM-8 36h4v4h-4zM40 36h4v4h-4zM-8 40h4v4h-4zM40 40h4v4h-4zM40 44h4v4h-4zM160 68h4v4h-4zM32 72h4v4h-4zM156 84h4v4h-4zM24 112h4v4h-4zM148 112h4v4h-4zM-8 116h8v4h-8zM12 116h4v4h-4z"/><path fill="#2a2a2a" d="M-8 -8h4v4h-4zM-8 -4h4v4h-4zM-8 0h4v4h-4zM-8 4h4v4h-4zM144 4h4v4h-4zM-8 8h4v4h-4zM44 8h4v4h-4zM-8 12h4v4h-4zM44 12h4v4h-4zM-8 16h4v4h-4zM152 16h4v4h-4zM-8 20h4v4h-4zM-8 24h4v4h-4zM-8 28h4v4h-4zM156 28h4v4h-4zM-8 32h4v4h-4zM160 56h4v4h-4zM160 60h4v4h-4zM160 64h4v4h-4zM36 80h4v4h-4zM36 104h4v4h-4zM148 104h4v4h-4zM32 108h4v4h-4zM148 108h4v4h-4zM16 116h4v4h-4z"/><path fill="#2b2b2b" d="M136 -4h4v4h-4zM140 0h4v4h-4zM44 4h4v4h-4zM44 16h4v4h-4zM156 32h4v4h-4zM28 68h4v4h-4zM152 92h4v4h-4zM148 100h4v4h-4zM20 116h4v4h-4zM-8 120h20v4h-20z"/><path fill="#2c2c2c" d="M132 -8h4v4h-4zM44 0h4v4h-4zM44 20h4v4h-4zM156 36h4v4h-4zM156 40h4v4h-4zM40 48h4v4h-4zM156 80h4v4h-4zM28 112h4v4h-4zM12 120h4v4h-4z"/><path fill="#2d2d2d" d="M148 12h4v4h-4zM44 24h4v4h-4zM156 44h4v4h-4zM16 120h4v4h-4z"/><path fill="#2e2e2e" d="M44 -4h4v4h-4zM144 8h4v4h-4zM152 20h4v4h-4zM28 60h4v4h-4zM156 76h4v4h-4zM152 88h4v4h-4zM24 116h4v4h-4z"/><path fill="#2f2f2f" d="M44 -8h4v4h-4zM136 0h4v4h-4zM140 4h4v4h-4zM44 28h4v4h-4zM156 48h4v4h-4zM148 96h4v4h-4zM20 120h4v4h-4zM144 120h4v4h-4z"/><path fill="#303030" d="M128 -8h4v4h-4zM132 -4h4v4h-4zM28 64h4v4h-4zM156 72h4v4h-4zM36 76h4v4h-4zM32 112h4v4h-4zM144 116h4v4h-4z"/><path fill="#313131" d="M148 16h4v4h-4zM152 24h4v4h-4zM152 84h4v4h-4zM40 88h4v4h-4zM36 108h4v4h-4zM144 112h4v4h-4zM28 116h4v4h-4z"/><path fill="#323232" d="M156 52h4v4h-4zM156 68h4v4h-4zM40 92h4v4h-4zM24 120h4v4h-4z"/><path fill="#333333" d="M124 -8h4v4h-4zM136 4h4v4h-4zM48 8h4v4h-4zM140 8h4v4h-4zM144 12h4v4h-4zM44 32h4v4h-4zM36 56h4v4h-4zM156 64h4v4h-4zM40 84h4v4h-4zM148 92h4v4h-4zM144 108h4v4h-4z"/><path fill="#343434" d="M128 -4h4v4h-4zM132 0h4v4h-4zM48 12h4v4h-4zM152 28h4v4h-4zM156 56h4v4h-4zM156 60h4v4h-4zM152 80h4v4h-4zM144 104h4v4h-4z"/><path fill="#353535" d="M84 -8h8v4h-8zM48 4h4v4h-4zM48 16h4v4h-4zM48 20h4v4h-4zM40 52h4v4h-4zM32 68h4v4h-4zM40 96h4v4h-4z"/><path fill="#363636" d="M48 -8h4v4h-4zM80 -8h4v4h-4zM48 0h4v4h-4zM148 20h4v4h-4zM48 24h4v4h-4zM48 28h4v4h-4zM152 32h4v4h-4zM44 36h4v4h-4zM144 100h4v4h-4zM32 116h4v4h-4zM28 120h4v4h-4zM140 120h4v4h-4z"/><path fill="#373737" d="M76 -8h4v4h-4zM92 -8h4v4h-4zM120 -8h4v4h-4zM48 -4h4v4h-4zM152 36h4v4h-4zM152 40h4v4h-4zM152 76h4v4h-4zM148 88h4v4h-4zM36 112h4v4h-4z"/><path fill="#383838" d="M84 -4h8v4h-8zM124 -4h4v4h-4zM128 0h4v4h-4zM132 4h4v4h-4zM136 8h4v4h-4zM140 12h4v4h-4zM144 16h4v4h-4zM44 40h4v4h-4zM152 44h4v4h-4zM32 60h4v4h-4zM140 116h4v4h-4z"/><path fill="#393939" d="M72 -8h4v4h-4zM80 -4h4v4h-4zM48 32h4v4h-4zM152 48h4v4h-4zM152 72h4v4h-4zM144 96h4v4h-4z"/><path fill="#3a3a3a" d="M96 -8h4v4h-4zM116 -8h4v4h-4zM72 -4h8v4h-8zM92 -4h4v4h-4zM148 24h4v4h-4zM44 44h4v4h-4zM36 72h4v4h-4zM40 80h4v4h-4zM148 84h4v4h-4zM40 100h4v4h-4zM40 104h4v4h-4z"/><path fill="#3b3b3b" d="M68 -8h4v4h-4zM120 -4h4v4h-4zM72 0h4v4h-4zM44 48h4v4h-4zM152 52h4v4h-4zM32 64h4v4h-4zM152 68h4v4h-4zM140 112h4v4h-4zM32 120h4v4h-4z"/><path fill="#3c3c3c" d="M52 -8h4v4h-4zM112 -8h4v4h-4zM68 -4h4v4h-4zM68 0h4v4h-4zM124 0h4v4h-4zM64 4h8v4h-8zM128 4h4v4h-4zM132 8h4v4h-4zM152 64h4v4h-4zM36 116h4v4h-4z"/><path fill="#3d3d3d" d="M100 -8h4v4h-4zM64 0h4v4h-4zM76 0h4v4h-4zM84 0h8v4h-8zM52 4h4v4h-4zM72 4h4v4h-4zM52 8h4v4h-4zM136 12h4v4h-4zM140 16h4v4h-4zM144 20h4v4h-4zM152 56h4v4h-4zM152 60h4v4h-4zM148 80h4v4h-4zM144 92h4v4h-4zM40 108h4v4h-4zM140 108h4v4h-4z"/><path fill="#3e3e3e" d="M64 -8h4v4h-4zM104 -8h8v4h-8zM52 -4h4v4h-4zM64 -4h4v4h-4zM52 0h4v4h-4zM80 0h4v4h-4zM92 0h4v4h-4zM52 12h4v4h-4zM148 28h4v4h-4zM44 84h4v4h-4zM44 88h4v4h-4zM136 120h4v4h-4z"/><path fill="#3f3f3f" d="M56 -8h8v4h-8zM96 -4h4v4h-4zM116 -4h4v4h-4zM60 0h4v4h-4zM60 4h4v4h-4zM64 8h8v4h-8zM44 92h4v4h-4z"/><path fill="#404040" d="M56 -4h8v4h-8zM56 0h4v4h-4zM120 0h4v4h-4zM56 4h4v4h-4zM124 4h4v4h-4zM128 8h4v4h-4zM52 16h4v4h-4zM52 28h4v4h-4zM52 32h4v4h-4zM44 52h4v4h-4zM148 76h4v4h-4zM144 88h4v4h-4zM140 104h4v4h-4zM40 112h4v4h-4z"/><path fill="#414141" d="M76 4h4v4h-4zM72 8h4v4h-4zM132 12h4v4h-4zM52 20h4v4h-4zM148 32h4v4h-4zM48 36h4v4h-4zM136 116h4v4h-4zM36 120h4v4h-4z"/><path fill="#424242" d="M112 -4h4v4h-4zM136 16h4v4h-4zM52 24h4v4h-4zM144 24h4v4h-4zM148 72h4v4h-4zM140 100h4v4h-4z"/><path fill="#434343" d="M100 -4h4v4h-4zM56 8h8v4h-8zM140 20h4v4h-4zM148 36h4v4h-4zM44 80h4v4h-4zM144 84h4v4h-4zM44 96h4v4h-4z"/><path fill="#444444" d="M104 -4h8v4h-8zM116 0h4v4h-4zM80 4h4v4h-4zM120 4h4v4h-4zM124 8h4v4h-4zM148 40h4v4h-4zM148 44h4v4h-4zM148 48h4v4h-4zM148 68h4v4h-4zM40 76h4v4h-4zM136 112h4v4h-4zM40 116h4v4h-4z"/><path fill="#454545" d="M96 0h4v4h-4zM128 12h4v4h-4zM148 52h4v4h-4zM148 64h4v4h-4zM36 68h4v4h-4zM140 96h4v4h-4zM132 120h4v4h-4z"/><path fill="#464646" d="M84 4h8v4h-8zM68 12h4v4h-4zM132 16h4v4h-4zM48 52h4v4h-4zM148 56h4v4h-4zM36 60h4v4h-4zM148 60h4v4h-4zM144 80h4v4h-4zM44 100h4v4h-4zM44 104h4v4h-4z"/><path fill="#474747" d="M112 0h4v4h-4zM92 4h4v4h-4zM76 8h4v4h-4zM56 12h4v4h-4zM64 12h4v4h-4zM40 56h4v4h-4zM44 108h4v4h-4z"/><path fill="#484848" d="M136 20h4v4h-4zM144 28h4v4h-4zM48 84h4v4h-4zM140 92h4v4h-4zM136 108h4v4h-4zM132 116h4v4h-4zM40 120h4v4h-4z"/><path fill="#494949" d="M100 0h4v4h-4zM108 0h4v4h-4zM116 4h4v4h-4zM120 8h4v4h-4zM60 12h4v4h-4zM72 12h4v4h-4zM124 12h4v4h-4zM140 24h4v4h-4zM144 76h4v4h-4zM48 80h4v4h-4z"/><path fill="#4a4a4a" d="M104 0h4v4h-4zM56 16h4v4h-4zM128 16h4v4h-4zM48 88h4v4h-4zM140 88h4v4h-4zM44 112h4v4h-4z"/><path fill="#4b4b4b" d="M96 4h4v4h-4zM48 40h4v4h-4zM36 64h4v4h-4zM144 72h4v4h-4zM44 76h4v4h-4zM48 92h4v4h-4zM48 96h4v4h-4zM48 100h4v4h-4z"/><path fill="#4c4c4c" d="M112 4h4v4h-4zM132 20h4v4h-4zM144 32h4v4h-4zM40 72h4v4h-4zM140 84h4v4h-4zM48 104h4v4h-4zM136 104h4v4h-4zM132 112h4v4h-4zM128 120h4v4h-4z"/><path fill="#4d4d4d" d="M80 8h4v4h-4zM116 8h4v4h-4zM120 12h4v4h-4zM52 36h4v4h-4zM144 68h4v4h-4zM52 100h4v4h-4zM44 116h4v4h-4z"/><path fill="#4e4e4e" d="M100 4h4v4h-4zM136 24h4v4h-4zM48 48h4v4h-4zM48 108h4v4h-4z"/><path fill="#4f4f4f" d="M108 4h4v4h-4zM124 16h4v4h-4zM56 20h4v4h-4zM144 36h4v4h-4zM144 60h4v4h-4zM144 64h4v4h-4zM48 76h4v4h-4zM140 80h4v4h-4zM52 104h4v4h-4zM128 116h4v4h-4z"/><path fill="#505050" d="M104 4h4v4h-4zM92 8h4v4h-4zM76 12h4v4h-4zM128 20h4v4h-4zM140 28h4v4h-4zM144 40h4v4h-4zM144 44h4v4h-4zM144 48h4v4h-4zM144 52h4v4h-4zM48 56h4v4h-4zM144 56h4v4h-4zM56 100h4v4h-4zM136 100h4v4h-4zM44 120h4v4h-4z"/><path fill="#515151" d="M84 8h8v4h-8zM96 8h4v4h-4zM60 16h4v4h-4zM48 44h4v4h-4zM140 76h4v4h-4zM52 80h4v4h-4zM132 108h4v4h-4z"/><path fill="#525252" d="M112 8h4v4h-4zM116 12h4v4h-4zM64 16h8v4h-8zM132 24h4v4h-4zM52 96h4v4h-4zM48 112h4v4h-4zM124 120h4v4h-4z"/><path fill="#535353" d="M100 8h4v4h-4zM120 16h4v4h-4zM56 24h4v4h-4zM56 28h4v4h-4zM56 32h4v4h-4zM136 96h4v4h-4zM56 104h4v4h-4zM128 112h4v4h-4z"/><path fill="#545454" d="M104 8h4v4h-4zM72 16h4v4h-4zM44 56h4v4h-4zM40 68h4v4h-4zM140 72h4v4h-4zM52 76h4v4h-4zM136 92h4v4h-4z"/><path fill="#555555" d="M108 8h4v4h-4zM124 20h4v4h-4zM44 72h4v4h-4zM52 84h4v4h-4zM136 88h4v4h-4zM52 108h4v4h-4zM124 116h4v4h-4z"/><path fill="#565656" d="M112 12h4v4h-4zM128 24h4v4h-4zM136 28h4v4h-4zM140 32h4v4h-4zM140 68h4v4h-4zM136 84h4v4h-4zM48 116h4v4h-4z"/><path fill="#575757" d="M80 12h4v4h-4zM96 12h4v4h-4zM136 80h4v4h-4zM52 92h4v4h-4zM132 104h4v4h-4zM128 108h4v4h-4zM120 120h4v4h-4z"/><path fill="#585858" d="M92 12h4v4h-4zM100 12h4v4h-4zM116 16h4v4h-4zM132 28h4v4h-4zM40 60h4v4h-4zM140 64h4v4h-4zM52 88h4v4h-4zM48 120h4v4h-4z"/><path fill="#595959" d="M108 12h4v4h-4zM60 20h4v4h-4zM52 52h4v4h-4zM52 56h4v4h-4zM140 60h4v4h-4zM136 76h4v4h-4zM124 112h4v4h-4z"/><path fill="#5a5a5a" d="M88 12h4v4h-4zM104 12h4v4h-4zM140 36h4v4h-4zM140 56h4v4h-4zM40 64h4v4h-4zM60 100h4v4h-4zM52 112h4v4h-4z"/><path fill="#5b5b5b" d="M84 12h4v4h-4zM76 16h4v4h-4zM128 28h4v4h-4zM140 40h4v4h-4zM140 48h4v4h-4zM140 52h4v4h-4zM48 72h4v4h-4zM120 116h4v4h-4z"/><path fill="#5c5c5c" d="M112 16h4v4h-4zM120 20h4v4h-4zM140 44h4v4h-4zM136 72h4v4h-4zM56 96h4v4h-4zM128 104h4v4h-4zM124 108h4v4h-4z"/><path fill="#5d5d5d" d="M124 24h4v4h-4zM136 32h4v4h-4zM132 100h4v4h-4zM56 108h4v4h-4zM116 120h4v4h-4z"/><path fill="#5e5e5e" d="M96 16h4v4h-4zM64 20h4v4h-4zM132 96h4v4h-4zM60 104h4v4h-4zM120 112h4v4h-4zM52 116h4v4h-4z"/><path fill="#5f5f5f" d="M100 16h4v4h-4zM68 20h4v4h-4zM132 32h4v4h-4zM44 68h4v4h-4zM136 68h4v4h-4zM132 80h4v4h-4zM132 84h4v4h-4zM132 88h4v4h-4zM132 92h4v4h-4z"/><path fill="#606060" d="M92 16h4v4h-4zM128 32h4v4h-4zM124 104h4v4h-4zM116 116h4v4h-4z"/><path fill="#616161" d="M108 16h4v4h-4zM72 20h4v4h-4zM132 76h4v4h-4zM128 100h4v4h-4zM52 120h4v4h-4z"/><path fill="#626262" d="M80 16h4v4h-4zM104 16h4v4h-4zM116 20h4v4h-4zM136 36h4v4h-4zM52 40h4v4h-4zM136 64h4v4h-4zM120 108h4v4h-4zM112 120h4v4h-4z"/><path fill="#636363" d="M88 16h4v4h-4zM124 28h4v4h-4zM136 52h4v4h-4zM136 56h4v4h-4zM44 60h4v4h-4zM136 60h4v4h-4z"/><path fill="#646464" d="M84 16h4v4h-4zM136 40h4v4h-4zM136 48h4v4h-4zM132 72h4v4h-4zM56 80h4v4h-4zM124 100h4v4h-4zM56 112h4v4h-4zM116 112h4v4h-4z"/><path fill="#656565" d="M132 36h4v4h-4zM136 44h4v4h-4zM44 64h4v4h-4zM128 96h4v4h-4zM112 116h4v4h-4z"/><path fill="#666666" d="M76 20h4v4h-4zM60 24h4v4h-4zM120 24h4v4h-4zM48 60h4v4h-4zM52 72h4v4h-4zM56 76h4v4h-4zM120 104h4v4h-4zM108 120h4v4h-4z"/><path fill="#676767" d="M128 84h4v4h-4zM128 92h4v4h-4zM56 116h4v4h-4z"/><path fill="#686868" d="M56 36h4v4h-4zM128 36h4v4h-4zM132 68h4v4h-4zM128 80h4v4h-4zM128 88h4v4h-4zM56 92h4v4h-4zM116 108h4v4h-4z"/><path fill="#696969" d="M96 20h4v4h-4zM112 20h4v4h-4zM48 68h4v4h-4zM56 84h4v4h-4zM112 112h4v4h-4zM56 120h4v4h-4z"/><path fill="#6a6a6a" d="M124 32h4v4h-4zM132 40h4v4h-4zM128 76h4v4h-4zM124 96h4v4h-4zM60 108h4v4h-4zM108 116h4v4h-4z"/><path fill="#6b6b6b" d="M80 20h4v4h-4zM132 52h4v4h-4zM104 120h4v4h-4z"/><path fill="#6c6c6c" d="M132 44h4v4h-4zM132 48h4v4h-4zM132 56h4v4h-4zM132 64h4v4h-4zM56 88h4v4h-4zM120 100h4v4h-4z"/><path fill="#6d6d6d" d="M92 20h4v4h-4zM100 20h4v4h-4zM68 24h4v4h-4zM132 60h4v4h-4zM128 72h4v4h-4zM116 104h4v4h-4zM112 108h4v4h-4zM108 112h4v4h-4z"/><path fill="#6e6e6e" d="M84 20h4v4h-4zM60 28h4v4h-4zM60 32h4v4h-4zM56 56h4v4h-4zM48 64h4v4h-4zM124 92h4v4h-4zM104 116h4v4h-4zM100 120h4v4h-4z"/><path fill="#6f6f6f" d="M88 20h4v4h-4zM108 20h4v4h-4zM64 24h4v4h-4zM72 24h4v4h-4zM52 48h4v4h-4zM64 104h4v4h-4zM60 112h4v4h-4z"/><path fill="#707070" d="M116 24h4v4h-4zM124 80h4v4h-4zM124 84h4v4h-4zM124 88h4v4h-4zM60 96h4v4h-4zM60 116h4v4h-4zM60 120h4v4h-4z"/><path fill="#717171" d="M120 28h4v4h-4zM128 40h4v4h-4zM52 44h4v4h-4zM100 116h4v4h-4zM96 120h4v4h-4z"/><path fill="#727272" d="M104 20h4v4h-4zM52 60h4v4h-4zM128 68h4v4h-4zM124 76h4v4h-4zM120 96h4v4h-4zM112 104h4v4h-4zM108 108h4v4h-4zM104 112h4v4h-4z"/><path fill="#737373" d="M64 100h4v4h-4zM116 100h4v4h-4zM92 120h4v4h-4z"/><path fill="#747474" d="M124 36h4v4h-4zM128 52h4v4h-4zM96 116h4v4h-4z"/><path fill="#757575" d="M128 44h4v4h-4zM128 48h4v4h-4zM124 72h4v4h-4zM64 108h4v4h-4zM100 112h4v4h-4zM64 120h4v4h-4zM88 120h4v4h-4z"/><path fill="#767676" d="M128 64h4v4h-4zM120 92h4v4h-4zM104 108h4v4h-4zM64 116h4v4h-4zM92 116h4v4h-4zM84 120h4v4h-4z"/><path fill="#777777" d="M56 52h4v4h-4zM128 56h4v4h-4zM120 80h4v4h-4zM120 84h4v4h-4zM120 88h4v4h-4zM108 104h4v4h-4zM64 112h4v4h-4zM96 112h4v4h-4zM84 116h8v4h-8zM80 120h4v4h-4z"/><path fill="#787878" d="M76 24h4v4h-4zM128 60h4v4h-4zM52 68h4v4h-4zM120 76h4v4h-4zM116 96h4v4h-4zM112 100h4v4h-4zM92 112h4v4h-4zM80 116h4v4h-4zM68 120h4v4h-4zM76 120h4v4h-4z"/><path fill="#797979" d="M112 24h4v4h-4zM100 108h4v4h-4zM80 112h12v4h-12zM76 116h4v4h-4zM72 120h4v4h-4z"/><path fill="#7a7a7a" d="M124 68h4v4h-4zM68 104h4v4h-4zM104 104h4v4h-4zM68 108h4v4h-4zM80 108h8v4h-8zM76 112h4v4h-4zM68 116h8v4h-8z"/><path fill="#7b7b7b" d="M80 24h4v4h-4zM56 72h4v4h-4zM88 108h12v4h-12zM68 112h8v4h-8z"/><path fill="#7c7c7c" d="M64 28h4v4h-4zM120 72h4v4h-4zM116 92h4v4h-4zM108 100h4v4h-4zM72 108h8v4h-8z"/><path fill="#7d7d7d" d="M120 32h4v4h-4zM116 80h4v4h-4zM116 88h4v4h-4zM60 92h4v4h-4zM112 96h4v4h-4zM80 104h8v4h-8zM100 104h4v4h-4z"/><path fill="#7e7e7e" d="M68 28h8v4h-8zM52 64h4v4h-4zM124 64h4v4h-4zM60 80h4v4h-4zM116 84h4v4h-4zM72 104h8v4h-8zM88 104h12v4h-12z"/><path fill="#7f7f7f" d="M84 24h4v4h-4zM124 40h4v4h-4zM124 52h4v4h-4zM120 68h4v4h-4zM116 76h4v4h-4zM68 100h4v4h-4zM104 100h4v4h-4z"/><path fill="#808080" d="M96 24h4v4h-4zM116 28h4v4h-4zM112 92h4v4h-4zM108 96h4v4h-4zM84 100h4v4h-4z"/><path fill="#818181" d="M108 24h4v4h-4zM56 40h4v4h-4zM124 60h4v4h-4zM60 84h4v4h-4zM60 88h4v4h-4zM80 100h4v4h-4zM88 100h4v4h-4zM100 100h4v4h-4z"/><path fill="#828282" d="M124 56h4v4h-4zM112 88h4v4h-4zM76 100h4v4h-4zM92 100h8v4h-8z"/><path fill="#838383" d="M88 24h8v4h-8zM124 48h4v4h-4zM120 64h4v4h-4zM116 72h4v4h-4zM112 84h4v4h-4zM108 92h4v4h-4zM64 96h4v4h-4zM104 96h4v4h-4zM72 100h4v4h-4z"/><path fill="#848484" d="M100 24h4v4h-4zM120 56h4v4h-4zM116 68h4v4h-4zM112 80h4v4h-4zM100 96h4v4h-4z"/><path fill="#858585" d="M64 32h4v4h-4zM124 44h4v4h-4zM120 60h4v4h-4zM116 64h4v4h-4zM60 76h4v4h-4zM108 88h4v4h-4zM104 92h4v4h-4zM80 96h12v4h-12zM96 96h4v4h-4z"/><path fill="#868686" d="M120 52h4v4h-4zM112 76h4v4h-4zM92 96h4v4h-4z"/><path fill="#878787" d="M104 24h4v4h-4zM120 36h4v4h-4zM116 60h4v4h-4zM108 84h4v4h-4zM104 88h4v4h-4zM100 92h4v4h-4z"/><path fill="#888888" d="M76 96h4v4h-4z"/><path fill="#898989" d="M112 68h4v4h-4zM112 72h4v4h-4zM108 80h4v4h-4zM104 84h4v4h-4zM96 92h4v4h-4zM68 96h4v4h-4z"/><path fill="#8a8a8a" d="M112 28h4v4h-4zM116 56h4v4h-4zM100 88h4v4h-4zM84 92h12v4h-12zM72 96h4v4h-4z"/><path fill="#8b8b8b" d="M60 56h4v4h-4zM112 64h4v4h-4zM80 92h4v4h-4z"/><path fill="#8c8c8c" d="M108 76h4v4h-4zM64 92h4v4h-4z"/><path fill="#8d8d8d" d="M56 60h4v4h-4zM64 80h4v4h-4zM104 80h4v4h-4zM100 84h4v4h-4zM96 88h4v4h-4zM76 92h4v4h-4z"/><path fill="#8e8e8e" d="M112 60h4v4h-4zM108 72h4v4h-4z"/><path fill="#8f8f8f" d="M80 88h16v4h-16z"/><path fill="#909090" d="M116 32h4v4h-4zM56 68h4v4h-4zM108 68h4v4h-4zM64 84h4v4h-4zM64 88h4v4h-4zM72 92h4v4h-4z"/><path fill="#919191" d="M120 40h4v4h-4zM104 76h4v4h-4zM68 80h4v4h-4zM100 80h4v4h-4zM96 84h4v4h-4zM76 88h4v4h-4zM68 92h4v4h-4z"/><path fill="#929292" d="M76 28h4v4h-4zM120 48h4v4h-4zM64 76h8v4h-8zM72 80h4v4h-4zM80 84h4v4h-4z"/><path fill="#939393" d="M104 68h4v4h-4zM104 72h4v4h-4zM76 84h4v4h-4zM84 84h4v4h-4z"/><path fill="#949494" d="M80 28h4v4h-4zM108 28h4v4h-4zM100 68h4v4h-4zM100 72h4v4h-4zM72 76h4v4h-4zM100 76h4v4h-4zM76 80h4v4h-4zM68 84h8v4h-8zM88 84h8v4h-8zM68 88h8v4h-8z"/><path fill="#959595" d="M116 52h4v4h-4zM80 80h4v4h-4zM96 80h4v4h-4z"/><path fill="#979797" d="M56 44h4v4h-4zM108 64h4v4h-4zM96 68h4v4h-4zM84 80h4v4h-4z"/><path fill="#989898" d="M84 28h4v4h-4zM120 44h4v4h-4zM112 56h4v4h-4zM60 72h4v4h-4zM96 72h4v4h-4zM96 76h4v4h-4z"/><path fill="#999999" d="M60 36h4v4h-4zM116 36h4v4h-4zM60 52h4v4h-4zM56 64h4v4h-4zM88 80h8v4h-8z"/><path fill="#9a9a9a" d="M72 32h4v4h-4zM76 76h4v4h-4z"/><path fill="#9b9b9b" d="M80 76h4v4h-4z"/><path fill="#9c9c9c" d="M112 32h4v4h-4zM56 48h4v4h-4zM116 48h4v4h-4zM108 60h4v4h-4zM104 64h4v4h-4z"/><path fill="#9d9d9d" d="M96 28h4v4h-4zM68 32h4v4h-4zM108 56h4v4h-4z"/><path fill="#9e9e9e" d="M116 40h4v4h-4zM84 76h4v4h-4zM92 76h4v4h-4z"/><path fill="#9f9f9f" d="M88 28h4v4h-4zM104 28h4v4h-4zM60 40h4v4h-4zM100 64h4v4h-4zM92 68h4v4h-4zM64 72h4v4h-4z"/><path fill="#a0a0a0" d="M92 28h4v4h-4zM100 28h4v4h-4zM116 44h4v4h-4zM88 76h4v4h-4z"/><path fill="#a1a1a1" d="M68 72h4v4h-4zM92 72h4v4h-4z"/><path fill="#a2a2a2" d="M76 32h4v4h-4z"/><path fill="#a3a3a3" d="M108 32h4v4h-4z"/><path fill="#a4a4a4" d="M104 60h4v4h-4zM96 64h4v4h-4z"/><path fill="#a5a5a5" d="M112 36h4v4h-4zM104 56h4v4h-4z"/><path fill="#a6a6a6" d="M64 56h4v4h-4z"/><path fill="#a7a7a7" d="M108 52h4v4h-4zM72 72h4v4h-4z"/><path fill="#a8a8a8" d="M112 40h4v4h-4zM112 44h4v4h-4zM112 48h4v4h-4zM60 68h4v4h-4z"/><path fill="#a9a9a9" d="M112 52h4v4h-4zM80 72h4v4h-4z"/><path fill="#aaaaaa" d="M88 72h4v4h-4z"/><path fill="#acacac" d="M84 72h4v4h-4z"/><path fill="#adadad" d="M104 52h4v4h-4z"/><path fill="#afafaf" d="M60 60h4v4h-4zM100 60h4v4h-4zM76 72h4v4h-4z"/><path fill="#b2b2b2" d="M80 32h4v4h-4zM108 48h4v4h-4zM92 64h4v4h-4z"/><path fill="#b3b3b3" d="M108 36h4v4h-4z"/><path fill="#b4b4b4" d="M96 32h4v4h-4zM100 56h4v4h-4zM64 68h4v4h-4z"/><path fill="#b5b5b5" d="M60 44h4v4h-4z"/><path fill="#b6b6b6" d="M60 64h4v4h-4z"/><path fill="#b7b7b7" d="M104 32h4v4h-4zM60 48h4v4h-4zM88 68h4v4h-4z"/><path fill="#b8b8b8" d="M64 36h4v4h-4zM108 44h4v4h-4z"/><path fill="#b9b9b9" d="M108 40h4v4h-4z"/><path fill="#bababa" d="M84 32h4v4h-4zM64 52h4v4h-4z"/><path fill="#bbbbbb" d="M92 32h4v4h-4z"/><path fill="#bcbcbc" d="M100 32h4v4h-4z"/><path fill="#bdbdbd" d="M64 60h4v4h-4z"/><path fill="#bebebe" d="M88 32h4v4h-4zM104 48h4v4h-4z"/><path fill="#c0c0c0" d="M96 60h4v4h-4z"/><path fill="#c1c1c1" d="M100 52h4v4h-4zM68 68h4v4h-4z"/><path fill="#c5c5c5" d="M84 68h4v4h-4z"/><path fill="#c6c6c6" d="M64 40h4v4h-4zM64 64h4v4h-4z"/><path fill="#c7c7c7" d="M68 56h4v4h-4z"/><path fill="#c9c9c9" d="M88 64h4v4h-4zM80 68h4v4h-4z"/><path fill="#cacaca" d="M96 56h4v4h-4z"/><path fill="#cccccc" d="M76 36h4v4h-4z"/><path fill="#cecece" d="M68 36h4v4h-4zM104 44h4v4h-4z"/><path fill="#cfcfcf" d="M68 60h4v4h-4zM76 68h4v4h-4z"/><path fill="#d0d0d0" d="M104 36h4v4h-4zM72 68h4v4h-4z"/><path fill="#d1d1d1" d="M64 48h4v4h-4z"/><path fill="#d3d3d3" d="M96 36h4v4h-4z"/><path fill="#d4d4d4" d="M64 44h4v4h-4z"/><path fill="#d5d5d5" d="M80 36h4v4h-4zM96 52h4v4h-4z"/><path fill="#d6d6d6" d="M72 36h4v4h-4zM104 40h4v4h-4zM92 60h4v4h-4zM68 64h4v4h-4z"/><path fill="#d7d7d7" d="M100 48h4v4h-4z"/><path fill="#dadada" d="M92 36h4v4h-4zM100 36h4v4h-4z"/><path fill="#dbdbdb" d="M84 64h4v4h-4z"/><path fill="#dcdcdc" d="M68 52h4v4h-4zM72 56h4v4h-4z"/><path fill="#dddddd" d="M84 36h4v4h-4zM72 60h4v4h-4zM88 60h4v4h-4z"/><path fill="#dfdfdf" d="M88 36h4v4h-4z"/><path fill="#e0e0e0" d="M80 64h4v4h-4z"/><path fill="#e1e1e1" d="M92 56h4v4h-4zM72 64h4v4h-4z"/><path fill="#e2e2e2" d="M76 64h4v4h-4z"/><path fill="#e3e3e3" d="M100 44h4v4h-4zM84 60h4v4h-4z"/><path fill="#e5e5e5" d="M92 52h4v4h-4zM76 60h4v4h-4z"/><path fill="#e6e6e6" d="M100 40h4v4h-4zM96 48h4v4h-4zM76 56h4v4h-4zM84 56h8v4h-8z"/><path fill="#e7e7e7" d="M80 60h4v4h-4z"/><path fill="#e8e8e8" d="M68 40h4v4h-4z"/><path fill="#e9e9e9" d="M80 56h4v4h-4z"/><path fill="#ebebeb" d="M96 40h4v4h-4zM68 48h4v4h-4zM88 52h4v4h-4z"/><path fill="#ececec" d="M84 52h4v4h-4z"/><path fill="#ededed" d="M80 52h4v4h-4z"/><path fill="#eeeeee" d="M72 52h4v4h-4z"/><path fill="#efefef" d="M68 44h4v4h-4zM92 48h4v4h-4zM76 52h4v4h-4z"/><path fill="#f0f0f0" d="M96 44h4v4h-4z"/><path fill="#f1f1f1" d="M88 48h4v4h-4z"/><path fill="#f2f2f2" d="M80 40h4v4h-4zM80 48h8v4h-8z"/><path fill="#f3f3f3" d="M76 40h4v4h-4zM92 40h4v4h-4z"/><path fill="#f6f6f6" d="M72 40h4v4h-4zM84 40h8v4h-8zM92 44h4v4h-4zM76 48h4v4h-4z"/><path fill="#f7f7f7" d="M80 44h4v4h-4z"/><path fill="#f8f8f8" d="M84 44h8v4h-8zM72 48h4v4h-4z"/><path fill="#fafafa" d="M76 44h4v4h-4z"/><path fill="#fcfcfc" d="M72 44h4v4h-4z"/></g><path d="M87.4 45.7 83.9 42.9 80.4 38.9 76.9 33.8 73.4 31.6 69.9 30.5 66.4 29.9 62.6 28.8 61.2 23.7 60.5 19.2 61.5 13.5 62.9 8.5 61.2 2.8 60.1 -5.6M80.7 36.1 81.8 31 82.8 25.4 84.2 19.7 84.9 12.4 85.6 6.8 84.6 1.1 84.6 -5.6M91.6 47.4 89.1 52.5 86 58.1 82.8 63.2 79.7 68.8 76.2 74.4 73.7 77.6 71.3 81.2 68.8 84.6 68.5 89.1 69.9 93.6 72 98.1 74.8 101.5 77.6 104.9 81.1 108.9 85.6 113.9M82.5 49.6 79.3 54.1 75.5 58.7 72.3 63.2 70.6 69.1 66.4 73.3 61.9 77.8 57.3 80.7 53.1 86.3 48.9 89.1M66.7 42.9 64.3 49.6 61.5 55.3 58 59.8 53.8 65.4 49.6 69.9 43.3 72.2 40.2 79 41.2 87.4M70.6 45.7 67.1 39.5 62.2 36.7 57.3 35 52.4 31.6 47.2 27.1 41.9 23.1 36.7 21.4 31.5 18M40.2 53.6 38.4 60.9 36 67.7 36.7 75.6 38.4 81.8 38.8 89.1 40.2 93.1 41.9 98.7M40.2 53.6 35.6 54.1 31.5 54.7 27.3 56.4 24.1 59.2 23.1 64.9 25.5 72.2 27.3 79 29.4 84.6M105.9 41.7 104.1 47.4 101.3 52.5 99.2 58.1 97.1 64.3 95.8 69.9 94.4 76.7 93.3 83.5 92.3 91.4 91.2 98.7 89.8 106M114.6 37.2 115.3 42.9 114.3 48.5 112.5 54.1 112.9 60.9 113.9 67.7 112.2 75.6 111.1 83.5 111.5 91.4 110.8 99.3 110.1 107.2M125.1 38.4 124.4 44 123.7 49.6 125.5 57.5 127.6 63.7 128.2 69.9 129.3 76.7 128.2 85.7 127.9 93.1 128.2 100.4 127.6 110 127.2 116.2M127.9 58.1 126.2 64.9 124.1 72.2 122.7 79 121.3 86.3 120.6 93.1 120.2 100.4 118.5 107.2 116 113.9M169.8 87.4 166 82.3 162.1 80.1 158 80.1 153.8 82.3 149.6 87.4 146.8 91.4 144.7 98.1 142.2 106 139.8 115.6M151.3 44.6 149.2 49.6 147.5 56.4 145 63.2 141.9 69.9 139.1 76.1 137 83.5" fill="none" stroke="#2050c8" stroke-width=".45" stroke-opacity=".55"/><path d="M29.7 54.1 33.2 53.6 36.7 53 40.2 51.9 41.2 49.3 45.4 50.8 49.3 50.8 52.4 52.5 55.9 48.5 59.4 46.2 62.9 44 66.4 45.1 68.8 46.2 70.9 47.1 73.7 49.6 76.5 51 80.4 49.6 83.9 47.4 87.4 46 90.9 46.2 93 46 96.1 44 98.9 42.9 103.1 39.2 105.9 41.7 110.1 38.4 113.6 36.7 116.7 35.5 118.8 32.7 121.3 29.9" fill="none" stroke="#2a2ab0" stroke-width=".75" stroke-opacity=".9"/></g></g><g clip-path="url(#mbox)"><path d="M26.9 -22.6 26.6 -8.5 26.2 -2.8 26.7 2.8 27.1 5.6 26.6 9 25.5 12.4 23.8 14.1 22.4 15.8 21.7 18 21 19.2 18.9 22 17.5 23.7 17.1 25.9 15.9 29.9 15.7 31.6 14.3 34.4 14.5 37.2 14 40.6 15 41.7 16.4 42.9 17.8 42.3 18.2 44.6 17.5 46.2 16.4 47.4 15.4 48.5 14 50.8 12.9 53.6 12.9 55.3 13.6 57 13.3 59.8 14.3 61.5 15.4 63.2 17.8 67.1 19.2 70.5 21 74.4 22.4 78.4 23.4 82.3 24.8 87.4 25.9 91.4 27.3 95.3 28.7 98.7 30.1 102.6 30.4 106 31.5 108.9 33.2 112.8 34.9 116.2 36.7 121.3 36.7 126.9M160.7 116.2 160.7 111.7 160.7 107.2 161.1 104.3 162.5 101.5 163.2 99.3 164.6 96.4 166 93.6 167.4 90.2 169.1 88 170.2 86.3 171.9 84.3 173.3 81.8 174.6 79 174.9 76.1 175.1 73.3 175.4 70.5 175.4 68.2 175.1 66 174.7 63.2 174 59.8 173.3 57.5 173 57.2 171.2 56.7 169.1 56.7 167 55.8 165.6 54.1 164.2 51.9 162.5 49.1 160.7 46.8 158.7 45.1 156.2 44.3 153.8 44.6 151.3 44.3 149.2 42.9 146.8 41.7 144.7 41.2 143.3 42.3 142.2 42.9 141.9 40.6 140.8 37.8 138.7 36.7 136.3 34.4 134.2 33.6 132.1 31.9 130.3 31.6 128.9 32.7 128.2 35.5 127.7 38.9 126.7 38.9 127.2 35 127.6 31.6 126.2 29.3 124.4 28.8 122.3 28.8 121.3 26.5 121.3 23.1 120.6 20.9 120.6 18 119.5 15.8 119.2 13.5 118.8 10.2 118.1 5.6 117.1 3.4 115.7 2.3 114.3 0.6 112.9 -1.1 110.1 -3.4 108.3 -4.5 104.8 -5.6 104.8 -22.6M122 29 120.6 30.2 119.3 33.3 118.6 37.2 119.7 37.5 120.4 33.8 121.4 31.3Z" fill="none" stroke="#e9e4d6" stroke-width=".8"/></g><path d="M38.4 0V112.8M76.9 0V112.8M115.3 0V112.8M153.8 0V112.8M0 28.2H192.2M0 56.4H192.2M0 84.6H192.2" stroke="#000" stroke-opacity=".08" stroke-width=".5" fill="none"/><path d="M38.4 0v3M38.4 112.8v-3M76.9 0v3M76.9 112.8v-3M115.3 0v3M115.3 112.8v-3M153.8 0v3M153.8 112.8v-3M0 28.2h3.5M192.2 28.2h-3.5M0 56.4h3.5M192.2 56.4h-3.5M0 84.6h3.5M192.2 84.6h-3.5" stroke="#262626" stroke-opacity=".55" stroke-width=".6" fill="none"/><rect x=".3" y=".3" width="191.6" height="112.2" fill="none" stroke="#262626" stroke-opacity=".35" stroke-width=".6"/><circle cx="118.4" cy="28.6" r="2.3" fill="#c8c8c8"/><circle cx="113.5" cy="33.0" r="2.3" fill="#d7d7d7"/><circle cx="87.2" cy="45.9" r="2.3" fill="#f5f5f5"/><circle cx="98.7" cy="43.4" r="2.3" fill="#f0f0f0"/><circle cx="105.8" cy="42.3" r="2.3" fill="#ebebeb"/><circle cx="114.9" cy="46.6" r="2.3" fill="#d7d7d7"/><circle cx="70.7" cy="47.4" r="2.3" fill="#ebebeb"/><circle cx="93.0" cy="46.3" r="2.3" fill="#f5f5f5"/><circle cx="68.9" cy="55.7" r="2.3" fill="#bebebe"/><circle cx="100.9" cy="52.6" r="2.3" fill="#c3c3c3"/><circle cx="76.5" cy="70.8" r="2.3" fill="#ebebeb"/><circle cx="73.7" cy="77.6" r="2.3" fill="#ebebeb"/><circle cx="60.2" cy="84.7" r="2.3" fill="#c3c3c3"/><circle cx="80.5" cy="89.7" r="2.3" fill="#969696"/><circle cx="68.5" cy="89.1" r="2.3" fill="#828282"/><circle cx="91.7" cy="93.1" r="2.3" fill="#a0a0a0"/><circle cx="103.2" cy="89.3" r="2.3" fill="#cdcdcd"/><circle cx="119.5" cy="94.0" r="2.3" fill="#f0f0f0"/><circle cx="102.2" cy="98.9" r="2.3" fill="#c3c3c3"/><circle cx="85.5" cy="102.3" r="2.3" fill="#e1e1e1"/><circle cx="114.1" cy="105.0" r="2.3" fill="#282828"/><circle cx="114.1" cy="110.6" r="2.3" fill="#ebebeb"/><g font-size="4.9" fill="#111"><text x="106.9" y="25.9">APS1</text><text x="99.8" y="31.7">APLJ</text><text x="75.8" y="42.8">AMUA</text><text x="90.5" y="41.2">AMPR</text><text x="108.0" y="44.1">PASM</text><text x="117.8" y="48.5">PAAR</text><text x="54.7" y="51.7">AMTE</text><text x="87.2" y="52.4">ITAM</text><text x="51.0" y="57.5">AMCO</text><text x="97.0" y="59.7">PAIT</text><text x="79.9" y="72.5">AMHA</text><text x="77.0" y="79.5">POVE</text><text x="55.4" y="81.4">RIOB</text><text x="75.2" y="86.7">ROJI</text><text x="61.9" y="95.6">ROGM</text><text x="87.0" y="90.2">MTJI</text><text x="106.0" y="91.0">MTCO</text><text x="123.0" y="95.6">MTSF</text><text x="104.9" y="101.0">MTSR</text><text x="79.8" y="109.8">ROCD</text><text x="117.5" y="106.8">MTCN</text><text x="117.1" y="112.6">MTNX</text></g><text class="tt" x="156.4" y="11.2" text-anchor="middle" font-size="7.6" font-weight="bold" fill="#fff">(f) JPL mascon</text></g><rect x="316.3" y="348.9" width="192.2" height="3.9" fill="url(#gbar)" stroke="#d8d8d8" stroke-width=".5"/><path d="M348.3 348.9v1M348.3 352.8v-1M380.4 348.9v1M380.4 352.8v-1M412.4 348.9v1M412.4 352.8v-1M444.4 348.9v1M444.4 352.8v-1M476.5 348.9v1M476.5 352.8v-1" stroke="#666" stroke-width=".5"/><g class="t" font-size="7.5" fill="#141414" text-anchor="middle"><text x="316.3" y="345.2">0.76</text><text x="348.3" y="345.2">0.8</text><text x="380.4" y="345.2">0.84</text><text x="412.4" y="345.2">0.88</text><text x="444.4" y="345.2">0.92</text><text x="476.5" y="345.2">0.96</text><text x="508.5" y="345.2">1</text><text x="412.4" y="335.7">Correlation Coefficient</text><text x="316.3" y="478.2">85° W</text><text x="354.7" y="478.2">74° W</text><text x="393.2" y="478.2">63° W</text><text x="431.6" y="478.2">52° W</text><text x="470.1" y="478.2">41° W</text><text x="508.5" y="478.2">30° W</text></g><g class="t" font-size="7.5" fill="#141414" text-anchor="end"><text x="314.3" y="358.7">5° N</text><text x="314.3" y="386.9">0°</text><text x="314.3" y="415.1">5° S</text><text x="314.3" y="443.3">10° S</text><text x="314.3" y="471.5">15° S</text></g><rect x="520.7" y="356.0" width="4.2" height="112.8" fill="url(#jbar)"/><g class="t" font-size="7.5" fill="#141414"><text x="527.3" y="471.5">0</text><text x="527.3" y="448.9">5</text><text x="527.3" y="426.4">10</text><text x="527.3" y="403.8">15</text><text x="527.3" y="381.3">20</text><text x="527.3" y="358.7">25</text><g transform="translate(544.0 412.4) rotate(-90)"><text text-anchor="middle">Annual Amplitude (mm)</text></g></g>
</svg>
</body></html>
